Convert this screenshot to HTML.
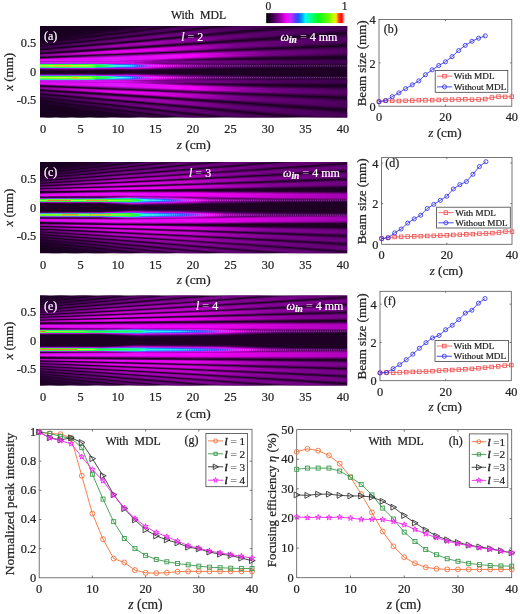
<!DOCTYPE html>
<html lang="en"><head><meta charset="utf-8"><title>Figure</title>
<style>
html,body{margin:0;padding:0;background:#fff;overflow:hidden;}
svg{display:block;}
text{font-family:"Liberation Serif", "DejaVu Serif", serif;stroke:#222;stroke-width:.22px;}
text.w{stroke:#fff;stroke-width:.2px;}
</style></head>
<body>
<svg width="520" height="614" viewBox="0 0 520 614">
<defs>
<filter id="bl" x="-2%" y="-5%" width="104%" height="110%"><feGaussianBlur stdDeviation="0.45"/></filter>
<filter id="bc" x="-2%" y="-5%" width="104%" height="110%"><feGaussianBlur stdDeviation="0.5"/></filter>
<linearGradient id="g1" gradientUnits="userSpaceOnUse" x1="0" x2="307.3" y1="0" y2="0"><stop offset="0" stop-color="#cf23fd"/><stop offset="0.12" stop-color="#cf23fd"/><stop offset="0.25" stop-color="#e80cfb"/><stop offset="0.38" stop-color="#840096"/><stop offset="0.5" stop-color="#750087"/><stop offset="0.62" stop-color="#660077"/><stop offset="0.75" stop-color="#500060"/><stop offset="0.87" stop-color="#470057"/><stop offset="1" stop-color="#3e004e"/></linearGradient>
<linearGradient id="g2" gradientUnits="userSpaceOnUse" x1="0" x2="307.3" y1="0" y2="0"><stop offset="0" stop-color="#e80cfb"/><stop offset="0.12" stop-color="#e40ffc"/><stop offset="0.25" stop-color="#e013fc"/><stop offset="0.38" stop-color="#e80cfb"/><stop offset="0.5" stop-color="#f104fa"/><stop offset="0.62" stop-color="#a900b6"/><stop offset="0.75" stop-color="#740086"/><stop offset="0.87" stop-color="#620073"/><stop offset="1" stop-color="#500060"/></linearGradient>
<linearGradient id="g3" gradientUnits="userSpaceOnUse" x1="0" x2="307.3" y1="0" y2="0"><stop offset="0" stop-color="#8b009c"/><stop offset="0.12" stop-color="#c100cc"/><stop offset="0.25" stop-color="#e500ec"/><stop offset="0.38" stop-color="#dc00e4"/><stop offset="0.5" stop-color="#b800c4"/><stop offset="0.62" stop-color="#7c008e"/><stop offset="0.75" stop-color="#640075"/><stop offset="0.87" stop-color="#580069"/><stop offset="1" stop-color="#4a005b"/></linearGradient>
<linearGradient id="g4" gradientUnits="userSpaceOnUse" x1="0" x2="307.3" y1="0" y2="0"><stop offset="0" stop-color="#560067"/><stop offset="0.12" stop-color="#79008b"/><stop offset="0.25" stop-color="#9d00ad"/><stop offset="0.38" stop-color="#a000af"/><stop offset="0.5" stop-color="#870098"/><stop offset="0.62" stop-color="#650076"/><stop offset="0.75" stop-color="#560067"/><stop offset="0.87" stop-color="#4d005e"/><stop offset="1" stop-color="#430053"/></linearGradient>
<linearGradient id="g5" gradientUnits="userSpaceOnUse" x1="0" x2="307.3" y1="0" y2="0"><stop offset="0" stop-color="#380048"/><stop offset="0.12" stop-color="#520063"/><stop offset="0.25" stop-color="#68007a"/><stop offset="0.38" stop-color="#6e007f"/><stop offset="0.5" stop-color="#640075"/><stop offset="0.62" stop-color="#4d005d"/><stop offset="0.75" stop-color="#460056"/><stop offset="0.87" stop-color="#420052"/><stop offset="1" stop-color="#3a004a"/></linearGradient>
<linearGradient id="g6" gradientUnits="userSpaceOnUse" x1="0" x2="307.3" y1="0" y2="0"><stop offset="0" stop-color="#260031"/><stop offset="0.12" stop-color="#380047"/><stop offset="0.25" stop-color="#470057"/><stop offset="0.38" stop-color="#4d005d"/><stop offset="0.5" stop-color="#480059"/><stop offset="0.62" stop-color="#380047"/><stop offset="0.75" stop-color="#380047"/><stop offset="0.87" stop-color="#360046"/><stop offset="1" stop-color="#31003f"/></linearGradient>
<linearGradient id="g7" gradientUnits="userSpaceOnUse" x1="0" x2="307.3" y1="0" y2="0"><stop offset="0" stop-color="#1b0022"/><stop offset="0.12" stop-color="#260030"/><stop offset="0.25" stop-color="#2e003b"/><stop offset="0.38" stop-color="#340042"/><stop offset="0.5" stop-color="#320040"/><stop offset="0.62" stop-color="#270032"/><stop offset="0.75" stop-color="#2b0037"/><stop offset="0.87" stop-color="#2d0039"/><stop offset="1" stop-color="#290035"/></linearGradient>
<linearGradient id="g8" gradientUnits="userSpaceOnUse" x1="0" x2="307.3" y1="0" y2="0"><stop offset="0" stop-color="#15001b"/><stop offset="0.12" stop-color="#190020"/><stop offset="0.25" stop-color="#1c0024"/><stop offset="0.38" stop-color="#20002a"/><stop offset="0.5" stop-color="#21002a"/><stop offset="0.62" stop-color="#1b0022"/><stop offset="0.75" stop-color="#20002a"/><stop offset="0.87" stop-color="#23002d"/><stop offset="1" stop-color="#22002c"/></linearGradient>
<linearGradient id="g9" gradientUnits="userSpaceOnUse" x1="0" x2="307.3" y1="0" y2="0"><stop offset="0" stop-color="#15001b"/><stop offset="0.12" stop-color="#15001b"/><stop offset="0.25" stop-color="#15001b"/><stop offset="0.38" stop-color="#15001b"/><stop offset="0.5" stop-color="#15001b"/><stop offset="0.62" stop-color="#15001b"/><stop offset="0.75" stop-color="#18001f"/><stop offset="0.87" stop-color="#1b0023"/><stop offset="1" stop-color="#1b0023"/></linearGradient>
<linearGradient id="g10" gradientUnits="userSpaceOnUse" x1="0" x2="307.3" y1="0" y2="0"><stop offset="0" stop-color="#15001b"/><stop offset="0.12" stop-color="#15001b"/><stop offset="0.25" stop-color="#15001b"/><stop offset="0.38" stop-color="#15001b"/><stop offset="0.5" stop-color="#15001b"/><stop offset="0.62" stop-color="#15001b"/><stop offset="0.75" stop-color="#15001b"/><stop offset="0.87" stop-color="#16001c"/><stop offset="1" stop-color="#16001d"/></linearGradient>
<linearGradient id="g11" gradientUnits="userSpaceOnUse" x1="0" x2="307.3" y1="0" y2="0"><stop offset="0" stop-color="#15001b"/><stop offset="0.12" stop-color="#15001b"/><stop offset="0.25" stop-color="#15001b"/><stop offset="0.38" stop-color="#15001b"/><stop offset="0.5" stop-color="#15001b"/><stop offset="0.62" stop-color="#15001b"/><stop offset="0.75" stop-color="#15001b"/><stop offset="0.87" stop-color="#15001b"/><stop offset="1" stop-color="#15001b"/></linearGradient>
<linearGradient id="g12" gradientUnits="userSpaceOnUse" x1="0" x2="307.3" y1="0" y2="0"><stop offset="0" stop-color="#15001b"/><stop offset="0.12" stop-color="#15001b"/><stop offset="0.25" stop-color="#15001b"/><stop offset="0.38" stop-color="#15001b"/><stop offset="0.5" stop-color="#15001b"/><stop offset="0.62" stop-color="#15001b"/><stop offset="0.75" stop-color="#15001b"/><stop offset="0.87" stop-color="#15001b"/><stop offset="1" stop-color="#15001b"/></linearGradient>
<linearGradient id="g14" gradientUnits="userSpaceOnUse" x1="0" x2="307.3" y1="0" y2="0"><stop offset="0" stop-color="#2c0038"/><stop offset="0.04" stop-color="#2d0039"/><stop offset="0.05" stop-color="#2f003c"/><stop offset="0.1" stop-color="#2f003c"/><stop offset="0.1" stop-color="#2d003a"/><stop offset="0.17" stop-color="#2c0038"/><stop offset="0.19" stop-color="#24002e"/><stop offset="0.22" stop-color="#1f0028"/><stop offset="0.25" stop-color="#190021"/><stop offset="0.3" stop-color="#17001e"/><stop offset="0.32" stop-color="#14001a"/><stop offset="0.34" stop-color="#120017"/><stop offset="0.38" stop-color="#0e0012"/><stop offset="0.45" stop-color="#0a000d"/><stop offset="0.55" stop-color="#060008"/><stop offset="0.75" stop-color="#040005"/><stop offset="1" stop-color="#030004"/></linearGradient>
<linearGradient id="g15" gradientUnits="userSpaceOnUse" x1="0" x2="307.3" y1="0" y2="0"><stop offset="0" stop-color="#580069"/><stop offset="0.04" stop-color="#59006a"/><stop offset="0.05" stop-color="#5d006e"/><stop offset="0.1" stop-color="#5d006e"/><stop offset="0.1" stop-color="#5a006b"/><stop offset="0.17" stop-color="#580069"/><stop offset="0.19" stop-color="#480058"/><stop offset="0.22" stop-color="#3f004f"/><stop offset="0.25" stop-color="#340042"/><stop offset="0.3" stop-color="#2e003b"/><stop offset="0.32" stop-color="#270032"/><stop offset="0.34" stop-color="#22002b"/><stop offset="0.38" stop-color="#190021"/><stop offset="0.45" stop-color="#120017"/><stop offset="0.55" stop-color="#0c000f"/><stop offset="0.75" stop-color="#070009"/><stop offset="1" stop-color="#050007"/></linearGradient>
<linearGradient id="g16" gradientUnits="userSpaceOnUse" x1="0" x2="307.3" y1="0" y2="0"><stop offset="0" stop-color="#8f009f"/><stop offset="0.04" stop-color="#9100a2"/><stop offset="0.05" stop-color="#9c00ab"/><stop offset="0.1" stop-color="#9c00ab"/><stop offset="0.1" stop-color="#9400a4"/><stop offset="0.17" stop-color="#8f009f"/><stop offset="0.19" stop-color="#730084"/><stop offset="0.22" stop-color="#650076"/><stop offset="0.25" stop-color="#530064"/><stop offset="0.3" stop-color="#4b005b"/><stop offset="0.32" stop-color="#400050"/><stop offset="0.34" stop-color="#370047"/><stop offset="0.38" stop-color="#2a0035"/><stop offset="0.45" stop-color="#1c0024"/><stop offset="0.55" stop-color="#120017"/><stop offset="0.75" stop-color="#0b000e"/><stop offset="1" stop-color="#08000b"/></linearGradient>
<linearGradient id="g17" gradientUnits="userSpaceOnUse" x1="0" x2="307.3" y1="0" y2="0"><stop offset="0" stop-color="#ef05fb"/><stop offset="0.04" stop-color="#ed08fb"/><stop offset="0.05" stop-color="#e211fc"/><stop offset="0.1" stop-color="#e211fc"/><stop offset="0.1" stop-color="#ea0afb"/><stop offset="0.17" stop-color="#ef05fb"/><stop offset="0.18" stop-color="#e200ea"/><stop offset="0.19" stop-color="#c600d1"/><stop offset="0.22" stop-color="#a700b5"/><stop offset="0.25" stop-color="#810092"/><stop offset="0.3" stop-color="#730085"/><stop offset="0.32" stop-color="#640075"/><stop offset="0.34" stop-color="#570068"/><stop offset="0.38" stop-color="#420052"/><stop offset="0.45" stop-color="#2d003a"/><stop offset="0.55" stop-color="#1b0023"/><stop offset="0.75" stop-color="#110016"/><stop offset="1" stop-color="#0d0010"/></linearGradient>
<linearGradient id="g18" gradientUnits="userSpaceOnUse" x1="0" x2="307.3" y1="0" y2="0"><stop offset="0" stop-color="#7739ff"/><stop offset="0.04" stop-color="#703aff"/><stop offset="0.05" stop-color="#5140ff"/><stop offset="0.1" stop-color="#5140ff"/><stop offset="0.1" stop-color="#693bff"/><stop offset="0.17" stop-color="#7739ff"/><stop offset="0.18" stop-color="#a834ff"/><stop offset="0.19" stop-color="#cc26fe"/><stop offset="0.22" stop-color="#e80cfb"/><stop offset="0.24" stop-color="#ee00f3"/><stop offset="0.25" stop-color="#d200db"/><stop offset="0.3" stop-color="#b600c2"/><stop offset="0.32" stop-color="#9400a4"/><stop offset="0.34" stop-color="#7c008e"/><stop offset="0.38" stop-color="#5f0070"/><stop offset="0.45" stop-color="#420052"/><stop offset="0.55" stop-color="#290034"/><stop offset="0.75" stop-color="#18001e"/><stop offset="1" stop-color="#120017"/></linearGradient>
<linearGradient id="g19" gradientUnits="userSpaceOnUse" x1="0" x2="307.3" y1="0" y2="0"><stop offset="0" stop-color="#00f4ff"/><stop offset="0.04" stop-color="#00fafa"/><stop offset="0.05" stop-color="#00fcd4"/><stop offset="0.1" stop-color="#00fcd4"/><stop offset="0.1" stop-color="#00fbf1"/><stop offset="0.17" stop-color="#00f4ff"/><stop offset="0.18" stop-color="#00bbff"/><stop offset="0.18" stop-color="#068bff"/><stop offset="0.19" stop-color="#1163ff"/><stop offset="0.21" stop-color="#3c49ff"/><stop offset="0.22" stop-color="#6b3aff"/><stop offset="0.24" stop-color="#9c35ff"/><stop offset="0.25" stop-color="#c52cfe"/><stop offset="0.3" stop-color="#de15fc"/><stop offset="0.32" stop-color="#eb00f2"/><stop offset="0.34" stop-color="#c500cf"/><stop offset="0.36" stop-color="#a600b4"/><stop offset="0.38" stop-color="#870099"/><stop offset="0.41" stop-color="#720083"/><stop offset="0.45" stop-color="#5e006f"/><stop offset="0.5" stop-color="#4c005d"/><stop offset="0.55" stop-color="#3a004a"/><stop offset="0.75" stop-color="#21002b"/><stop offset="1" stop-color="#18001f"/></linearGradient>
<linearGradient id="g20" gradientUnits="userSpaceOnUse" x1="0" x2="307.3" y1="0" y2="0"><stop offset="0" stop-color="#00ff2c"/><stop offset="0.04" stop-color="#00ff23"/><stop offset="0.05" stop-color="#14ff18"/><stop offset="0.1" stop-color="#14ff18"/><stop offset="0.1" stop-color="#03ff1d"/><stop offset="0.17" stop-color="#00ff2c"/><stop offset="0.17" stop-color="#00ff4d"/><stop offset="0.18" stop-color="#00ff6d"/><stop offset="0.18" stop-color="#00ff8e"/><stop offset="0.19" stop-color="#00fdba"/><stop offset="0.21" stop-color="#00fbec"/><stop offset="0.22" stop-color="#00d3ff"/><stop offset="0.23" stop-color="#009eff"/><stop offset="0.24" stop-color="#0b79ff"/><stop offset="0.25" stop-color="#1f55ff"/><stop offset="0.28" stop-color="#4c42ff"/><stop offset="0.3" stop-color="#6f3aff"/><stop offset="0.31" stop-color="#9536ff"/><stop offset="0.32" stop-color="#bb32ff"/><stop offset="0.33" stop-color="#cd25fe"/><stop offset="0.34" stop-color="#dd16fc"/><stop offset="0.36" stop-color="#f300f8"/><stop offset="0.38" stop-color="#ca00d4"/><stop offset="0.41" stop-color="#a200b0"/><stop offset="0.45" stop-color="#7d008f"/><stop offset="0.5" stop-color="#660077"/><stop offset="0.55" stop-color="#4f005f"/><stop offset="0.65" stop-color="#3e004e"/><stop offset="0.75" stop-color="#2e003b"/><stop offset="1" stop-color="#21002a"/></linearGradient>
<linearGradient id="g21" gradientUnits="userSpaceOnUse" x1="0" x2="307.3" y1="0" y2="0"><stop offset="0" stop-color="#52ff06"/><stop offset="0.04" stop-color="#58ff03"/><stop offset="0.04" stop-color="#69ff00"/><stop offset="0.05" stop-color="#84ff00"/><stop offset="0.1" stop-color="#84ff00"/><stop offset="0.1" stop-color="#5fff01"/><stop offset="0.17" stop-color="#52ff06"/><stop offset="0.17" stop-color="#39ff0d"/><stop offset="0.18" stop-color="#21ff14"/><stop offset="0.18" stop-color="#09ff1b"/><stop offset="0.19" stop-color="#00ff36"/><stop offset="0.2" stop-color="#00ff54"/><stop offset="0.21" stop-color="#00ff71"/><stop offset="0.22" stop-color="#00ff8f"/><stop offset="0.23" stop-color="#00fdc1"/><stop offset="0.24" stop-color="#00fbf2"/><stop offset="0.25" stop-color="#00ccff"/><stop offset="0.28" stop-color="#019eff"/><stop offset="0.3" stop-color="#0a7cff"/><stop offset="0.31" stop-color="#1d56ff"/><stop offset="0.32" stop-color="#5c3cff"/><stop offset="0.33" stop-color="#8138ff"/><stop offset="0.34" stop-color="#a734ff"/><stop offset="0.35" stop-color="#c62afe"/><stop offset="0.36" stop-color="#db18fc"/><stop offset="0.38" stop-color="#ef05fb"/><stop offset="0.4" stop-color="#de00e6"/><stop offset="0.42" stop-color="#be00ca"/><stop offset="0.45" stop-color="#9f00ae"/><stop offset="0.5" stop-color="#7a008c"/><stop offset="0.55" stop-color="#5f0070"/><stop offset="0.65" stop-color="#4b005b"/><stop offset="0.75" stop-color="#370047"/><stop offset="1" stop-color="#280033"/></linearGradient>
<linearGradient id="g22" gradientUnits="userSpaceOnUse" x1="0" x2="307.3" y1="0" y2="0"><stop offset="0" stop-color="#beff00"/><stop offset="0.04" stop-color="#cef800"/><stop offset="0.04" stop-color="#efe800"/><stop offset="0.05" stop-color="#ffb500"/><stop offset="0.1" stop-color="#ffb500"/><stop offset="0.1" stop-color="#def000"/><stop offset="0.17" stop-color="#beff00"/><stop offset="0.17" stop-color="#8aff00"/><stop offset="0.18" stop-color="#5cff02"/><stop offset="0.18" stop-color="#41ff0a"/><stop offset="0.19" stop-color="#26ff12"/><stop offset="0.2" stop-color="#12ff19"/><stop offset="0.21" stop-color="#00ff22"/><stop offset="0.22" stop-color="#00ff43"/><stop offset="0.23" stop-color="#00ff6b"/><stop offset="0.24" stop-color="#00ff97"/><stop offset="0.25" stop-color="#00fcce"/><stop offset="0.28" stop-color="#00faf7"/><stop offset="0.3" stop-color="#00d0ff"/><stop offset="0.31" stop-color="#0396ff"/><stop offset="0.32" stop-color="#1069ff"/><stop offset="0.33" stop-color="#374bff"/><stop offset="0.34" stop-color="#6b3aff"/><stop offset="0.35" stop-color="#9736ff"/><stop offset="0.36" stop-color="#c12fff"/><stop offset="0.38" stop-color="#d71bfd"/><stop offset="0.4" stop-color="#ee06fb"/><stop offset="0.42" stop-color="#dd00e4"/><stop offset="0.45" stop-color="#b900c5"/><stop offset="0.5" stop-color="#8b009c"/><stop offset="0.55" stop-color="#6a007b"/><stop offset="0.65" stop-color="#540065"/><stop offset="0.75" stop-color="#3e004e"/><stop offset="1" stop-color="#2d003a"/></linearGradient>
<linearGradient id="g23" gradientUnits="userSpaceOnUse" x1="0" x2="307.3" y1="0" y2="0"><stop offset="0" stop-color="#2c0038"/><stop offset="0.1" stop-color="#2d0039"/><stop offset="0.1" stop-color="#2f003c"/><stop offset="0.12" stop-color="#2f003c"/><stop offset="0.13" stop-color="#2d0039"/><stop offset="0.17" stop-color="#2c0038"/><stop offset="0.19" stop-color="#24002e"/><stop offset="0.22" stop-color="#1f0028"/><stop offset="0.25" stop-color="#190021"/><stop offset="0.29" stop-color="#17001e"/><stop offset="0.31" stop-color="#14001a"/><stop offset="0.33" stop-color="#120017"/><stop offset="0.38" stop-color="#0e0012"/><stop offset="0.45" stop-color="#0a000d"/><stop offset="0.55" stop-color="#060008"/><stop offset="0.75" stop-color="#040005"/><stop offset="1" stop-color="#030004"/></linearGradient>
<linearGradient id="g24" gradientUnits="userSpaceOnUse" x1="0" x2="307.3" y1="0" y2="0"><stop offset="0" stop-color="#580069"/><stop offset="0.1" stop-color="#59006a"/><stop offset="0.1" stop-color="#5d006e"/><stop offset="0.12" stop-color="#5d006e"/><stop offset="0.13" stop-color="#59006a"/><stop offset="0.17" stop-color="#580069"/><stop offset="0.19" stop-color="#480058"/><stop offset="0.22" stop-color="#3f004f"/><stop offset="0.25" stop-color="#340042"/><stop offset="0.29" stop-color="#2e003b"/><stop offset="0.31" stop-color="#270032"/><stop offset="0.33" stop-color="#22002b"/><stop offset="0.38" stop-color="#190021"/><stop offset="0.45" stop-color="#120017"/><stop offset="0.55" stop-color="#0c000f"/><stop offset="0.75" stop-color="#070009"/><stop offset="1" stop-color="#050007"/></linearGradient>
<linearGradient id="g25" gradientUnits="userSpaceOnUse" x1="0" x2="307.3" y1="0" y2="0"><stop offset="0" stop-color="#8f009f"/><stop offset="0.1" stop-color="#9100a2"/><stop offset="0.1" stop-color="#9c00ab"/><stop offset="0.12" stop-color="#9c00ab"/><stop offset="0.13" stop-color="#9100a2"/><stop offset="0.17" stop-color="#8f009f"/><stop offset="0.19" stop-color="#730084"/><stop offset="0.22" stop-color="#650076"/><stop offset="0.25" stop-color="#530064"/><stop offset="0.29" stop-color="#4b005b"/><stop offset="0.31" stop-color="#400050"/><stop offset="0.33" stop-color="#370047"/><stop offset="0.38" stop-color="#2a0035"/><stop offset="0.45" stop-color="#1c0024"/><stop offset="0.55" stop-color="#120017"/><stop offset="0.75" stop-color="#0b000e"/><stop offset="1" stop-color="#08000b"/></linearGradient>
<linearGradient id="g26" gradientUnits="userSpaceOnUse" x1="0" x2="307.3" y1="0" y2="0"><stop offset="0" stop-color="#ef05fb"/><stop offset="0.1" stop-color="#ed08fb"/><stop offset="0.1" stop-color="#e211fc"/><stop offset="0.12" stop-color="#e211fc"/><stop offset="0.13" stop-color="#ed08fb"/><stop offset="0.17" stop-color="#ef05fb"/><stop offset="0.18" stop-color="#e200ea"/><stop offset="0.19" stop-color="#c600d1"/><stop offset="0.22" stop-color="#a700b5"/><stop offset="0.25" stop-color="#810092"/><stop offset="0.29" stop-color="#730085"/><stop offset="0.31" stop-color="#640075"/><stop offset="0.33" stop-color="#570068"/><stop offset="0.38" stop-color="#420052"/><stop offset="0.45" stop-color="#2d003a"/><stop offset="0.55" stop-color="#1b0023"/><stop offset="0.75" stop-color="#110016"/><stop offset="1" stop-color="#0d0010"/></linearGradient>
<linearGradient id="g27" gradientUnits="userSpaceOnUse" x1="0" x2="307.3" y1="0" y2="0"><stop offset="0" stop-color="#7739ff"/><stop offset="0.1" stop-color="#703aff"/><stop offset="0.1" stop-color="#5140ff"/><stop offset="0.12" stop-color="#5140ff"/><stop offset="0.13" stop-color="#703aff"/><stop offset="0.17" stop-color="#7739ff"/><stop offset="0.18" stop-color="#a834ff"/><stop offset="0.19" stop-color="#cc26fe"/><stop offset="0.22" stop-color="#e80cfb"/><stop offset="0.24" stop-color="#ee00f3"/><stop offset="0.25" stop-color="#d200db"/><stop offset="0.29" stop-color="#b600c2"/><stop offset="0.31" stop-color="#9400a4"/><stop offset="0.33" stop-color="#7c008e"/><stop offset="0.38" stop-color="#5f0070"/><stop offset="0.45" stop-color="#420052"/><stop offset="0.55" stop-color="#290034"/><stop offset="0.75" stop-color="#18001e"/><stop offset="1" stop-color="#120017"/></linearGradient>
<linearGradient id="g28" gradientUnits="userSpaceOnUse" x1="0" x2="307.3" y1="0" y2="0"><stop offset="0" stop-color="#00f4ff"/><stop offset="0.1" stop-color="#00fafa"/><stop offset="0.1" stop-color="#00fcd4"/><stop offset="0.12" stop-color="#00fcd4"/><stop offset="0.13" stop-color="#00fafa"/><stop offset="0.17" stop-color="#00f4ff"/><stop offset="0.18" stop-color="#00bbff"/><stop offset="0.18" stop-color="#068bff"/><stop offset="0.19" stop-color="#1163ff"/><stop offset="0.21" stop-color="#3c49ff"/><stop offset="0.22" stop-color="#6b3aff"/><stop offset="0.24" stop-color="#9c35ff"/><stop offset="0.25" stop-color="#c52cfe"/><stop offset="0.29" stop-color="#de15fc"/><stop offset="0.31" stop-color="#eb00f2"/><stop offset="0.33" stop-color="#c500cf"/><stop offset="0.35" stop-color="#a600b4"/><stop offset="0.38" stop-color="#870099"/><stop offset="0.41" stop-color="#720083"/><stop offset="0.45" stop-color="#5e006f"/><stop offset="0.5" stop-color="#4c005d"/><stop offset="0.55" stop-color="#3a004a"/><stop offset="0.75" stop-color="#21002b"/><stop offset="1" stop-color="#18001f"/></linearGradient>
<linearGradient id="g29" gradientUnits="userSpaceOnUse" x1="0" x2="307.3" y1="0" y2="0"><stop offset="0" stop-color="#00ff2c"/><stop offset="0.1" stop-color="#00ff23"/><stop offset="0.1" stop-color="#14ff18"/><stop offset="0.12" stop-color="#14ff18"/><stop offset="0.13" stop-color="#00ff23"/><stop offset="0.17" stop-color="#00ff2c"/><stop offset="0.17" stop-color="#00ff4d"/><stop offset="0.18" stop-color="#00ff6d"/><stop offset="0.18" stop-color="#00ff8e"/><stop offset="0.19" stop-color="#00fdba"/><stop offset="0.21" stop-color="#00fbec"/><stop offset="0.22" stop-color="#00d3ff"/><stop offset="0.23" stop-color="#009eff"/><stop offset="0.24" stop-color="#0b79ff"/><stop offset="0.25" stop-color="#1f55ff"/><stop offset="0.27" stop-color="#4c42ff"/><stop offset="0.29" stop-color="#6f3aff"/><stop offset="0.3" stop-color="#9536ff"/><stop offset="0.31" stop-color="#bb32ff"/><stop offset="0.32" stop-color="#cd25fe"/><stop offset="0.33" stop-color="#dd16fc"/><stop offset="0.35" stop-color="#f300f8"/><stop offset="0.38" stop-color="#ca00d4"/><stop offset="0.41" stop-color="#a200b0"/><stop offset="0.45" stop-color="#7d008f"/><stop offset="0.5" stop-color="#660077"/><stop offset="0.55" stop-color="#4f005f"/><stop offset="0.65" stop-color="#3e004e"/><stop offset="0.75" stop-color="#2e003b"/><stop offset="1" stop-color="#21002a"/></linearGradient>
<linearGradient id="g30" gradientUnits="userSpaceOnUse" x1="0" x2="307.3" y1="0" y2="0"><stop offset="0" stop-color="#52ff06"/><stop offset="0.1" stop-color="#58ff03"/><stop offset="0.1" stop-color="#69ff00"/><stop offset="0.1" stop-color="#84ff00"/><stop offset="0.12" stop-color="#84ff00"/><stop offset="0.13" stop-color="#68ff00"/><stop offset="0.13" stop-color="#58ff03"/><stop offset="0.17" stop-color="#52ff06"/><stop offset="0.17" stop-color="#39ff0d"/><stop offset="0.18" stop-color="#21ff14"/><stop offset="0.18" stop-color="#09ff1b"/><stop offset="0.19" stop-color="#00ff36"/><stop offset="0.2" stop-color="#00ff54"/><stop offset="0.21" stop-color="#00ff71"/><stop offset="0.22" stop-color="#00ff8f"/><stop offset="0.23" stop-color="#00fdc1"/><stop offset="0.24" stop-color="#00fbf2"/><stop offset="0.25" stop-color="#00ccff"/><stop offset="0.27" stop-color="#019eff"/><stop offset="0.29" stop-color="#0a7cff"/><stop offset="0.3" stop-color="#1d56ff"/><stop offset="0.31" stop-color="#5c3cff"/><stop offset="0.32" stop-color="#8138ff"/><stop offset="0.33" stop-color="#a734ff"/><stop offset="0.34" stop-color="#c62afe"/><stop offset="0.36" stop-color="#db18fc"/><stop offset="0.38" stop-color="#ef05fb"/><stop offset="0.4" stop-color="#de00e6"/><stop offset="0.42" stop-color="#be00ca"/><stop offset="0.45" stop-color="#9f00ae"/><stop offset="0.5" stop-color="#7a008c"/><stop offset="0.55" stop-color="#5f0070"/><stop offset="0.65" stop-color="#4b005b"/><stop offset="0.75" stop-color="#370047"/><stop offset="1" stop-color="#280033"/></linearGradient>
<linearGradient id="g31" gradientUnits="userSpaceOnUse" x1="0" x2="307.3" y1="0" y2="0"><stop offset="0" stop-color="#beff00"/><stop offset="0.1" stop-color="#cef800"/><stop offset="0.1" stop-color="#efe800"/><stop offset="0.1" stop-color="#ffb500"/><stop offset="0.12" stop-color="#ffb500"/><stop offset="0.13" stop-color="#efe900"/><stop offset="0.13" stop-color="#cef800"/><stop offset="0.17" stop-color="#beff00"/><stop offset="0.17" stop-color="#8aff00"/><stop offset="0.18" stop-color="#5cff02"/><stop offset="0.18" stop-color="#41ff0a"/><stop offset="0.19" stop-color="#26ff12"/><stop offset="0.2" stop-color="#12ff19"/><stop offset="0.21" stop-color="#00ff22"/><stop offset="0.22" stop-color="#00ff43"/><stop offset="0.23" stop-color="#00ff6b"/><stop offset="0.24" stop-color="#00ff97"/><stop offset="0.25" stop-color="#00fcce"/><stop offset="0.27" stop-color="#00faf7"/><stop offset="0.29" stop-color="#00d0ff"/><stop offset="0.3" stop-color="#0396ff"/><stop offset="0.31" stop-color="#1069ff"/><stop offset="0.32" stop-color="#374bff"/><stop offset="0.33" stop-color="#6b3aff"/><stop offset="0.34" stop-color="#9736ff"/><stop offset="0.36" stop-color="#c12fff"/><stop offset="0.38" stop-color="#d71bfd"/><stop offset="0.4" stop-color="#ee06fb"/><stop offset="0.42" stop-color="#dd00e4"/><stop offset="0.45" stop-color="#b900c5"/><stop offset="0.5" stop-color="#8b009c"/><stop offset="0.55" stop-color="#6a007b"/><stop offset="0.65" stop-color="#540065"/><stop offset="0.75" stop-color="#3e004e"/><stop offset="1" stop-color="#2d003a"/></linearGradient>
<linearGradient id="g32" gradientUnits="userSpaceOnUse" x1="0" x2="307.3" y1="0" y2="0"><stop offset="0" stop-color="#e80cfb"/><stop offset="0.12" stop-color="#ea0afb"/><stop offset="0.25" stop-color="#ed08fb"/><stop offset="0.38" stop-color="#ef06fb"/><stop offset="0.5" stop-color="#f104fa"/><stop offset="0.62" stop-color="#e400eb"/><stop offset="0.75" stop-color="#cd00d7"/><stop offset="0.87" stop-color="#b600c2"/><stop offset="1" stop-color="#9f00ae"/></linearGradient>
<linearGradient id="g33" gradientUnits="userSpaceOnUse" x1="0" x2="307.3" y1="0" y2="0"><stop offset="0" stop-color="#9d00ac"/><stop offset="0.12" stop-color="#de00e6"/><stop offset="0.25" stop-color="#ee06fb"/><stop offset="0.38" stop-color="#ed00f3"/><stop offset="0.5" stop-color="#d500de"/><stop offset="0.62" stop-color="#ac00ba"/><stop offset="0.75" stop-color="#840096"/><stop offset="0.87" stop-color="#78008a"/><stop offset="1" stop-color="#6c007d"/></linearGradient>
<linearGradient id="g34" gradientUnits="userSpaceOnUse" x1="0" x2="307.3" y1="0" y2="0"><stop offset="0" stop-color="#740086"/><stop offset="0.12" stop-color="#b300c0"/><stop offset="0.25" stop-color="#e000e7"/><stop offset="0.38" stop-color="#d600de"/><stop offset="0.5" stop-color="#c100cc"/><stop offset="0.62" stop-color="#9c00ab"/><stop offset="0.75" stop-color="#7d008f"/><stop offset="0.87" stop-color="#720084"/><stop offset="1" stop-color="#670078"/></linearGradient>
<linearGradient id="g35" gradientUnits="userSpaceOnUse" x1="0" x2="307.3" y1="0" y2="0"><stop offset="0" stop-color="#5b006c"/><stop offset="0.12" stop-color="#89009b"/><stop offset="0.25" stop-color="#ba00c6"/><stop offset="0.38" stop-color="#b700c3"/><stop offset="0.5" stop-color="#a600b4"/><stop offset="0.62" stop-color="#850097"/><stop offset="0.75" stop-color="#730084"/><stop offset="0.87" stop-color="#6b007c"/><stop offset="1" stop-color="#610072"/></linearGradient>
<linearGradient id="g36" gradientUnits="userSpaceOnUse" x1="0" x2="307.3" y1="0" y2="0"><stop offset="0" stop-color="#490059"/><stop offset="0.12" stop-color="#700081"/><stop offset="0.25" stop-color="#9300a4"/><stop offset="0.38" stop-color="#9500a5"/><stop offset="0.5" stop-color="#88009a"/><stop offset="0.62" stop-color="#750086"/><stop offset="0.75" stop-color="#680079"/><stop offset="0.87" stop-color="#620073"/><stop offset="1" stop-color="#59006a"/></linearGradient>
<linearGradient id="g37" gradientUnits="userSpaceOnUse" x1="0" x2="307.3" y1="0" y2="0"><stop offset="0" stop-color="#3a004a"/><stop offset="0.12" stop-color="#5b006b"/><stop offset="0.25" stop-color="#750087"/><stop offset="0.38" stop-color="#78008a"/><stop offset="0.5" stop-color="#720084"/><stop offset="0.62" stop-color="#640075"/><stop offset="0.75" stop-color="#5b006c"/><stop offset="0.87" stop-color="#570068"/><stop offset="1" stop-color="#510062"/></linearGradient>
<linearGradient id="g38" gradientUnits="userSpaceOnUse" x1="0" x2="307.3" y1="0" y2="0"><stop offset="0" stop-color="#2e003b"/><stop offset="0.12" stop-color="#490059"/><stop offset="0.25" stop-color="#5e006f"/><stop offset="0.38" stop-color="#620073"/><stop offset="0.5" stop-color="#5f0070"/><stop offset="0.62" stop-color="#530064"/><stop offset="0.75" stop-color="#4f005f"/><stop offset="0.87" stop-color="#4d005e"/><stop offset="1" stop-color="#490059"/></linearGradient>
<linearGradient id="g39" gradientUnits="userSpaceOnUse" x1="0" x2="307.3" y1="0" y2="0"><stop offset="0" stop-color="#250030"/><stop offset="0.12" stop-color="#3a004a"/><stop offset="0.25" stop-color="#4b005b"/><stop offset="0.38" stop-color="#4f005f"/><stop offset="0.5" stop-color="#4d005e"/><stop offset="0.62" stop-color="#440054"/><stop offset="0.75" stop-color="#430054"/><stop offset="0.87" stop-color="#430054"/><stop offset="1" stop-color="#400051"/></linearGradient>
<linearGradient id="g40" gradientUnits="userSpaceOnUse" x1="0" x2="307.3" y1="0" y2="0"><stop offset="0" stop-color="#1d0025"/><stop offset="0.12" stop-color="#2d0039"/><stop offset="0.25" stop-color="#380048"/><stop offset="0.38" stop-color="#3b004b"/><stop offset="0.5" stop-color="#3b004b"/><stop offset="0.62" stop-color="#350043"/><stop offset="0.75" stop-color="#370046"/><stop offset="0.87" stop-color="#390048"/><stop offset="1" stop-color="#370046"/></linearGradient>
<linearGradient id="g41" gradientUnits="userSpaceOnUse" x1="0" x2="307.3" y1="0" y2="0"><stop offset="0" stop-color="#17001e"/><stop offset="0.12" stop-color="#22002b"/><stop offset="0.25" stop-color="#280034"/><stop offset="0.38" stop-color="#2b0037"/><stop offset="0.5" stop-color="#2c0038"/><stop offset="0.62" stop-color="#270033"/><stop offset="0.75" stop-color="#2c0038"/><stop offset="0.87" stop-color="#2f003c"/><stop offset="1" stop-color="#2e003b"/></linearGradient>
<linearGradient id="g42" gradientUnits="userSpaceOnUse" x1="0" x2="307.3" y1="0" y2="0"><stop offset="0" stop-color="#15001b"/><stop offset="0.12" stop-color="#190020"/><stop offset="0.25" stop-color="#1c0024"/><stop offset="0.38" stop-color="#1d0026"/><stop offset="0.5" stop-color="#1f0028"/><stop offset="0.62" stop-color="#1c0024"/><stop offset="0.75" stop-color="#21002b"/><stop offset="0.87" stop-color="#250030"/><stop offset="1" stop-color="#260031"/></linearGradient>
<linearGradient id="g43" gradientUnits="userSpaceOnUse" x1="0" x2="307.3" y1="0" y2="0"><stop offset="0" stop-color="#15001b"/><stop offset="0.12" stop-color="#15001b"/><stop offset="0.25" stop-color="#15001b"/><stop offset="0.38" stop-color="#15001b"/><stop offset="0.5" stop-color="#16001c"/><stop offset="0.62" stop-color="#15001b"/><stop offset="0.75" stop-color="#190020"/><stop offset="0.87" stop-color="#1d0025"/><stop offset="1" stop-color="#1e0027"/></linearGradient>
<linearGradient id="g45" gradientUnits="userSpaceOnUse" x1="0" x2="307.3" y1="0" y2="0"><stop offset="0" stop-color="#2c0038"/><stop offset="0.02" stop-color="#2c0038"/><stop offset="0.03" stop-color="#30003e"/><stop offset="0.1" stop-color="#30003e"/><stop offset="0.1" stop-color="#2d0039"/><stop offset="0.14" stop-color="#2d0039"/><stop offset="0.15" stop-color="#30003d"/><stop offset="0.22" stop-color="#30003d"/><stop offset="0.23" stop-color="#2c0038"/><stop offset="0.29" stop-color="#2a0035"/><stop offset="0.32" stop-color="#21002b"/><stop offset="0.34" stop-color="#1a0022"/><stop offset="0.39" stop-color="#18001e"/><stop offset="0.42" stop-color="#15001b"/><stop offset="0.45" stop-color="#120017"/><stop offset="0.49" stop-color="#0f0013"/><stop offset="0.55" stop-color="#0a000d"/><stop offset="0.75" stop-color="#060008"/><stop offset="1" stop-color="#040006"/></linearGradient>
<linearGradient id="g46" gradientUnits="userSpaceOnUse" x1="0" x2="307.3" y1="0" y2="0"><stop offset="0" stop-color="#580069"/><stop offset="0.02" stop-color="#580069"/><stop offset="0.03" stop-color="#600071"/><stop offset="0.1" stop-color="#600071"/><stop offset="0.1" stop-color="#59006a"/><stop offset="0.14" stop-color="#59006a"/><stop offset="0.15" stop-color="#5f0070"/><stop offset="0.22" stop-color="#5f0070"/><stop offset="0.23" stop-color="#580069"/><stop offset="0.29" stop-color="#530064"/><stop offset="0.32" stop-color="#430054"/><stop offset="0.34" stop-color="#360045"/><stop offset="0.39" stop-color="#2f003c"/><stop offset="0.42" stop-color="#2a0035"/><stop offset="0.45" stop-color="#23002d"/><stop offset="0.49" stop-color="#1b0023"/><stop offset="0.55" stop-color="#120017"/><stop offset="0.75" stop-color="#0b000e"/><stop offset="1" stop-color="#08000b"/></linearGradient>
<linearGradient id="g47" gradientUnits="userSpaceOnUse" x1="0" x2="307.3" y1="0" y2="0"><stop offset="0" stop-color="#8f009f"/><stop offset="0.02" stop-color="#8f009f"/><stop offset="0.03" stop-color="#a100b0"/><stop offset="0.1" stop-color="#a100b0"/><stop offset="0.1" stop-color="#9100a2"/><stop offset="0.14" stop-color="#9100a2"/><stop offset="0.15" stop-color="#9f00ae"/><stop offset="0.22" stop-color="#9f00ae"/><stop offset="0.23" stop-color="#8f009f"/><stop offset="0.29" stop-color="#840096"/><stop offset="0.32" stop-color="#6c007d"/><stop offset="0.34" stop-color="#570068"/><stop offset="0.39" stop-color="#4c005d"/><stop offset="0.42" stop-color="#440054"/><stop offset="0.45" stop-color="#390049"/><stop offset="0.49" stop-color="#2d003a"/><stop offset="0.55" stop-color="#1c0024"/><stop offset="0.75" stop-color="#110016"/><stop offset="1" stop-color="#0d0010"/></linearGradient>
<linearGradient id="g48" gradientUnits="userSpaceOnUse" x1="0" x2="307.3" y1="0" y2="0"><stop offset="0" stop-color="#ef05fb"/><stop offset="0.02" stop-color="#ef05fb"/><stop offset="0.03" stop-color="#dd16fc"/><stop offset="0.1" stop-color="#dd16fc"/><stop offset="0.1" stop-color="#ed08fb"/><stop offset="0.14" stop-color="#ed08fb"/><stop offset="0.15" stop-color="#e013fc"/><stop offset="0.22" stop-color="#e013fc"/><stop offset="0.23" stop-color="#ef05fb"/><stop offset="0.29" stop-color="#ee00f4"/><stop offset="0.3" stop-color="#d200db"/><stop offset="0.32" stop-color="#b700c3"/><stop offset="0.33" stop-color="#9f00ae"/><stop offset="0.34" stop-color="#870098"/><stop offset="0.39" stop-color="#760088"/><stop offset="0.42" stop-color="#69007a"/><stop offset="0.45" stop-color="#59006a"/><stop offset="0.49" stop-color="#470057"/><stop offset="0.55" stop-color="#2d003a"/><stop offset="0.75" stop-color="#190020"/><stop offset="1" stop-color="#130018"/></linearGradient>
<linearGradient id="g49" gradientUnits="userSpaceOnUse" x1="0" x2="307.3" y1="0" y2="0"><stop offset="0" stop-color="#7739ff"/><stop offset="0.02" stop-color="#7739ff"/><stop offset="0.03" stop-color="#3e48ff"/><stop offset="0.1" stop-color="#3e48ff"/><stop offset="0.1" stop-color="#703aff"/><stop offset="0.14" stop-color="#703aff"/><stop offset="0.15" stop-color="#4744ff"/><stop offset="0.22" stop-color="#4744ff"/><stop offset="0.23" stop-color="#7739ff"/><stop offset="0.29" stop-color="#9336ff"/><stop offset="0.3" stop-color="#c12fff"/><stop offset="0.32" stop-color="#da19fc"/><stop offset="0.33" stop-color="#ef05fb"/><stop offset="0.34" stop-color="#dd00e5"/><stop offset="0.39" stop-color="#bb00c7"/><stop offset="0.42" stop-color="#9f00ae"/><stop offset="0.45" stop-color="#800092"/><stop offset="0.49" stop-color="#660078"/><stop offset="0.52" stop-color="#540065"/><stop offset="0.55" stop-color="#420052"/><stop offset="0.75" stop-color="#25002f"/><stop offset="1" stop-color="#1a0022"/></linearGradient>
<linearGradient id="g50" gradientUnits="userSpaceOnUse" x1="0" x2="307.3" y1="0" y2="0"><stop offset="0" stop-color="#00f4ff"/><stop offset="0.02" stop-color="#00f4ff"/><stop offset="0.02" stop-color="#00fbe2"/><stop offset="0.03" stop-color="#00fdc1"/><stop offset="0.1" stop-color="#00fdc1"/><stop offset="0.1" stop-color="#00fafa"/><stop offset="0.14" stop-color="#00fafa"/><stop offset="0.15" stop-color="#00fcca"/><stop offset="0.22" stop-color="#00fcca"/><stop offset="0.23" stop-color="#00f4ff"/><stop offset="0.29" stop-color="#00c4ff"/><stop offset="0.3" stop-color="#0491ff"/><stop offset="0.31" stop-color="#1069ff"/><stop offset="0.32" stop-color="#3c49ff"/><stop offset="0.33" stop-color="#7f38ff"/><stop offset="0.34" stop-color="#b933ff"/><stop offset="0.39" stop-color="#d91afd"/><stop offset="0.42" stop-color="#f103fa"/><stop offset="0.45" stop-color="#cd00d6"/><stop offset="0.47" stop-color="#b200be"/><stop offset="0.49" stop-color="#9700a6"/><stop offset="0.52" stop-color="#770089"/><stop offset="0.55" stop-color="#5e006f"/><stop offset="0.65" stop-color="#49005a"/><stop offset="0.75" stop-color="#350044"/><stop offset="1" stop-color="#260031"/></linearGradient>
<linearGradient id="g51" gradientUnits="userSpaceOnUse" x1="0" x2="307.3" y1="0" y2="0"><stop offset="0" stop-color="#00ff2c"/><stop offset="0.02" stop-color="#00ff2c"/><stop offset="0.02" stop-color="#0cff1b"/><stop offset="0.03" stop-color="#20ff14"/><stop offset="0.1" stop-color="#20ff14"/><stop offset="0.1" stop-color="#0eff1a"/><stop offset="0.1" stop-color="#00ff23"/><stop offset="0.14" stop-color="#00ff23"/><stop offset="0.15" stop-color="#0cff1b"/><stop offset="0.15" stop-color="#1aff16"/><stop offset="0.22" stop-color="#1aff16"/><stop offset="0.22" stop-color="#09ff1b"/><stop offset="0.23" stop-color="#00ff2c"/><stop offset="0.29" stop-color="#00ff51"/><stop offset="0.3" stop-color="#00ff72"/><stop offset="0.3" stop-color="#00ff95"/><stop offset="0.31" stop-color="#00fdc0"/><stop offset="0.32" stop-color="#00fbec"/><stop offset="0.32" stop-color="#00d3ff"/><stop offset="0.33" stop-color="#0397ff"/><stop offset="0.34" stop-color="#1069ff"/><stop offset="0.36" stop-color="#314eff"/><stop offset="0.39" stop-color="#633bff"/><stop offset="0.4" stop-color="#8238ff"/><stop offset="0.42" stop-color="#a235ff"/><stop offset="0.43" stop-color="#c32dff"/><stop offset="0.45" stop-color="#d61cfd"/><stop offset="0.47" stop-color="#ed07fb"/><stop offset="0.49" stop-color="#de00e6"/><stop offset="0.51" stop-color="#bd00c8"/><stop offset="0.53" stop-color="#9b00aa"/><stop offset="0.55" stop-color="#7d008f"/><stop offset="0.65" stop-color="#630074"/><stop offset="0.75" stop-color="#480058"/><stop offset="1" stop-color="#340043"/></linearGradient>
<linearGradient id="g52" gradientUnits="userSpaceOnUse" x1="0" x2="307.3" y1="0" y2="0"><stop offset="0" stop-color="#52ff06"/><stop offset="0.02" stop-color="#52ff06"/><stop offset="0.02" stop-color="#6fff00"/><stop offset="0.03" stop-color="#9fff00"/><stop offset="0.1" stop-color="#9fff00"/><stop offset="0.1" stop-color="#76ff00"/><stop offset="0.1" stop-color="#58ff03"/><stop offset="0.14" stop-color="#58ff03"/><stop offset="0.15" stop-color="#6fff00"/><stop offset="0.15" stop-color="#91ff00"/><stop offset="0.22" stop-color="#91ff00"/><stop offset="0.22" stop-color="#69ff00"/><stop offset="0.23" stop-color="#52ff06"/><stop offset="0.26" stop-color="#44ff0a"/><stop offset="0.29" stop-color="#36ff0e"/><stop offset="0.3" stop-color="#1eff15"/><stop offset="0.3" stop-color="#05ff1c"/><stop offset="0.31" stop-color="#00ff3c"/><stop offset="0.32" stop-color="#00ff62"/><stop offset="0.32" stop-color="#00ff83"/><stop offset="0.33" stop-color="#00fead"/><stop offset="0.33" stop-color="#00fcd9"/><stop offset="0.34" stop-color="#00f2ff"/><stop offset="0.36" stop-color="#00b9ff"/><stop offset="0.39" stop-color="#068aff"/><stop offset="0.4" stop-color="#1068ff"/><stop offset="0.42" stop-color="#324dff"/><stop offset="0.43" stop-color="#6b3aff"/><stop offset="0.45" stop-color="#9836ff"/><stop offset="0.47" stop-color="#c52bfe"/><stop offset="0.49" stop-color="#e013fc"/><stop offset="0.51" stop-color="#ee00f4"/><stop offset="0.53" stop-color="#c600d1"/><stop offset="0.55" stop-color="#9f00ae"/><stop offset="0.62" stop-color="#810092"/><stop offset="0.68" stop-color="#6c007d"/><stop offset="0.75" stop-color="#570068"/><stop offset="1" stop-color="#3f004f"/></linearGradient>
<linearGradient id="g53" gradientUnits="userSpaceOnUse" x1="0" x2="307.3" y1="0" y2="0"><stop offset="0" stop-color="#beff00"/><stop offset="0.02" stop-color="#beff00"/><stop offset="0.02" stop-color="#e4ee00"/><stop offset="0.02" stop-color="#ffc300"/><stop offset="0.03" stop-color="#ff5c00"/><stop offset="0.1" stop-color="#ff5c00"/><stop offset="0.1" stop-color="#ffe100"/><stop offset="0.1" stop-color="#cef800"/><stop offset="0.14" stop-color="#cef800"/><stop offset="0.15" stop-color="#f7e500"/><stop offset="0.15" stop-color="#ff8800"/><stop offset="0.22" stop-color="#ff8800"/><stop offset="0.22" stop-color="#efe800"/><stop offset="0.23" stop-color="#beff00"/><stop offset="0.26" stop-color="#a0ff00"/><stop offset="0.29" stop-color="#82ff00"/><stop offset="0.3" stop-color="#58ff03"/><stop offset="0.3" stop-color="#3eff0c"/><stop offset="0.31" stop-color="#23ff14"/><stop offset="0.32" stop-color="#08ff1c"/><stop offset="0.32" stop-color="#00ff36"/><stop offset="0.33" stop-color="#00ff5b"/><stop offset="0.33" stop-color="#00ff80"/><stop offset="0.34" stop-color="#00fead"/><stop offset="0.36" stop-color="#00fbde"/><stop offset="0.39" stop-color="#00e5ff"/><stop offset="0.4" stop-color="#00b1ff"/><stop offset="0.42" stop-color="#0787ff"/><stop offset="0.43" stop-color="#145aff"/><stop offset="0.45" stop-color="#5a3cff"/><stop offset="0.47" stop-color="#9436ff"/><stop offset="0.49" stop-color="#c62afe"/><stop offset="0.51" stop-color="#e311fc"/><stop offset="0.53" stop-color="#e500ec"/><stop offset="0.55" stop-color="#b900c5"/><stop offset="0.62" stop-color="#9600a6"/><stop offset="0.68" stop-color="#78008a"/><stop offset="0.75" stop-color="#610072"/><stop offset="1" stop-color="#470057"/></linearGradient>
<linearGradient id="g54" gradientUnits="userSpaceOnUse" x1="0" x2="307.3" y1="0" y2="0"><stop offset="0" stop-color="#2c0038"/><stop offset="0.07" stop-color="#2c0038"/><stop offset="0.07" stop-color="#30003e"/><stop offset="0.12" stop-color="#30003e"/><stop offset="0.13" stop-color="#2d0039"/><stop offset="0.15" stop-color="#2d0039"/><stop offset="0.16" stop-color="#30003d"/><stop offset="0.23" stop-color="#30003d"/><stop offset="0.24" stop-color="#2c0038"/><stop offset="0.29" stop-color="#2a0035"/><stop offset="0.32" stop-color="#21002b"/><stop offset="0.34" stop-color="#1a0022"/><stop offset="0.41" stop-color="#18001e"/><stop offset="0.46" stop-color="#15001b"/><stop offset="0.5" stop-color="#120017"/><stop offset="0.54" stop-color="#0f0013"/><stop offset="0.6" stop-color="#0a000d"/><stop offset="0.75" stop-color="#060008"/><stop offset="1" stop-color="#040006"/></linearGradient>
<linearGradient id="g55" gradientUnits="userSpaceOnUse" x1="0" x2="307.3" y1="0" y2="0"><stop offset="0" stop-color="#580069"/><stop offset="0.07" stop-color="#580069"/><stop offset="0.07" stop-color="#600071"/><stop offset="0.12" stop-color="#600071"/><stop offset="0.13" stop-color="#59006a"/><stop offset="0.15" stop-color="#59006a"/><stop offset="0.16" stop-color="#5f0070"/><stop offset="0.23" stop-color="#5f0070"/><stop offset="0.24" stop-color="#580069"/><stop offset="0.29" stop-color="#530064"/><stop offset="0.32" stop-color="#430054"/><stop offset="0.34" stop-color="#360045"/><stop offset="0.41" stop-color="#2f003c"/><stop offset="0.46" stop-color="#2a0035"/><stop offset="0.5" stop-color="#23002d"/><stop offset="0.54" stop-color="#1b0023"/><stop offset="0.6" stop-color="#120017"/><stop offset="0.75" stop-color="#0b000e"/><stop offset="1" stop-color="#08000b"/></linearGradient>
<linearGradient id="g56" gradientUnits="userSpaceOnUse" x1="0" x2="307.3" y1="0" y2="0"><stop offset="0" stop-color="#8f009f"/><stop offset="0.07" stop-color="#8f009f"/><stop offset="0.07" stop-color="#a100b0"/><stop offset="0.12" stop-color="#a100b0"/><stop offset="0.13" stop-color="#9100a2"/><stop offset="0.15" stop-color="#9100a2"/><stop offset="0.16" stop-color="#9f00ae"/><stop offset="0.23" stop-color="#9f00ae"/><stop offset="0.24" stop-color="#8f009f"/><stop offset="0.29" stop-color="#840096"/><stop offset="0.32" stop-color="#6c007d"/><stop offset="0.34" stop-color="#570068"/><stop offset="0.41" stop-color="#4c005d"/><stop offset="0.46" stop-color="#440054"/><stop offset="0.5" stop-color="#390049"/><stop offset="0.54" stop-color="#2d003a"/><stop offset="0.6" stop-color="#1c0024"/><stop offset="0.75" stop-color="#110016"/><stop offset="1" stop-color="#0d0010"/></linearGradient>
<linearGradient id="g57" gradientUnits="userSpaceOnUse" x1="0" x2="307.3" y1="0" y2="0"><stop offset="0" stop-color="#ef05fb"/><stop offset="0.07" stop-color="#ef05fb"/><stop offset="0.07" stop-color="#dd16fc"/><stop offset="0.12" stop-color="#dd16fc"/><stop offset="0.13" stop-color="#ed08fb"/><stop offset="0.15" stop-color="#ed08fb"/><stop offset="0.16" stop-color="#e013fc"/><stop offset="0.23" stop-color="#e013fc"/><stop offset="0.24" stop-color="#ef05fb"/><stop offset="0.29" stop-color="#ee00f4"/><stop offset="0.3" stop-color="#d200db"/><stop offset="0.32" stop-color="#b700c3"/><stop offset="0.33" stop-color="#9f00ae"/><stop offset="0.34" stop-color="#870098"/><stop offset="0.41" stop-color="#760088"/><stop offset="0.46" stop-color="#69007a"/><stop offset="0.5" stop-color="#59006a"/><stop offset="0.54" stop-color="#470057"/><stop offset="0.6" stop-color="#2d003a"/><stop offset="0.75" stop-color="#190020"/><stop offset="1" stop-color="#130018"/></linearGradient>
<linearGradient id="g58" gradientUnits="userSpaceOnUse" x1="0" x2="307.3" y1="0" y2="0"><stop offset="0" stop-color="#7739ff"/><stop offset="0.07" stop-color="#7739ff"/><stop offset="0.07" stop-color="#3e48ff"/><stop offset="0.12" stop-color="#3e48ff"/><stop offset="0.13" stop-color="#703aff"/><stop offset="0.15" stop-color="#703aff"/><stop offset="0.16" stop-color="#4744ff"/><stop offset="0.23" stop-color="#4744ff"/><stop offset="0.24" stop-color="#7739ff"/><stop offset="0.29" stop-color="#9336ff"/><stop offset="0.3" stop-color="#c12fff"/><stop offset="0.32" stop-color="#da19fc"/><stop offset="0.33" stop-color="#ef05fb"/><stop offset="0.34" stop-color="#dd00e5"/><stop offset="0.41" stop-color="#bb00c7"/><stop offset="0.46" stop-color="#9f00ae"/><stop offset="0.5" stop-color="#800092"/><stop offset="0.54" stop-color="#660078"/><stop offset="0.57" stop-color="#540065"/><stop offset="0.6" stop-color="#420052"/><stop offset="0.75" stop-color="#25002f"/><stop offset="1" stop-color="#1a0022"/></linearGradient>
<linearGradient id="g59" gradientUnits="userSpaceOnUse" x1="0" x2="307.3" y1="0" y2="0"><stop offset="0" stop-color="#00f4ff"/><stop offset="0.07" stop-color="#00f4ff"/><stop offset="0.07" stop-color="#00fbe2"/><stop offset="0.07" stop-color="#00fdc1"/><stop offset="0.12" stop-color="#00fdc1"/><stop offset="0.13" stop-color="#00fafa"/><stop offset="0.15" stop-color="#00fafa"/><stop offset="0.16" stop-color="#00fcca"/><stop offset="0.23" stop-color="#00fcca"/><stop offset="0.24" stop-color="#00f4ff"/><stop offset="0.29" stop-color="#00c4ff"/><stop offset="0.3" stop-color="#0491ff"/><stop offset="0.31" stop-color="#1069ff"/><stop offset="0.32" stop-color="#3c49ff"/><stop offset="0.33" stop-color="#7f38ff"/><stop offset="0.34" stop-color="#b933ff"/><stop offset="0.41" stop-color="#d91afd"/><stop offset="0.46" stop-color="#f103fa"/><stop offset="0.5" stop-color="#cd00d6"/><stop offset="0.52" stop-color="#b200be"/><stop offset="0.54" stop-color="#9700a6"/><stop offset="0.57" stop-color="#770089"/><stop offset="0.6" stop-color="#5e006f"/><stop offset="0.68" stop-color="#49005a"/><stop offset="0.75" stop-color="#350044"/><stop offset="1" stop-color="#260031"/></linearGradient>
<linearGradient id="g60" gradientUnits="userSpaceOnUse" x1="0" x2="307.3" y1="0" y2="0"><stop offset="0" stop-color="#00ff2c"/><stop offset="0.07" stop-color="#00ff2c"/><stop offset="0.07" stop-color="#0cff1b"/><stop offset="0.07" stop-color="#20ff14"/><stop offset="0.12" stop-color="#20ff14"/><stop offset="0.13" stop-color="#0eff1a"/><stop offset="0.13" stop-color="#00ff23"/><stop offset="0.15" stop-color="#00ff23"/><stop offset="0.16" stop-color="#0cff1b"/><stop offset="0.16" stop-color="#1aff16"/><stop offset="0.23" stop-color="#1aff16"/><stop offset="0.23" stop-color="#09ff1b"/><stop offset="0.24" stop-color="#00ff2c"/><stop offset="0.29" stop-color="#00ff51"/><stop offset="0.3" stop-color="#00ff72"/><stop offset="0.3" stop-color="#00ff95"/><stop offset="0.31" stop-color="#00fdc0"/><stop offset="0.32" stop-color="#00fbec"/><stop offset="0.32" stop-color="#00d3ff"/><stop offset="0.33" stop-color="#0397ff"/><stop offset="0.34" stop-color="#1069ff"/><stop offset="0.38" stop-color="#314eff"/><stop offset="0.41" stop-color="#633bff"/><stop offset="0.44" stop-color="#8238ff"/><stop offset="0.46" stop-color="#a235ff"/><stop offset="0.48" stop-color="#c32dff"/><stop offset="0.5" stop-color="#d61cfd"/><stop offset="0.52" stop-color="#ed07fb"/><stop offset="0.54" stop-color="#de00e6"/><stop offset="0.56" stop-color="#bd00c8"/><stop offset="0.58" stop-color="#9b00aa"/><stop offset="0.6" stop-color="#7d008f"/><stop offset="0.68" stop-color="#630074"/><stop offset="0.75" stop-color="#480058"/><stop offset="1" stop-color="#340043"/></linearGradient>
<linearGradient id="g61" gradientUnits="userSpaceOnUse" x1="0" x2="307.3" y1="0" y2="0"><stop offset="0" stop-color="#52ff06"/><stop offset="0.07" stop-color="#52ff06"/><stop offset="0.07" stop-color="#6fff00"/><stop offset="0.07" stop-color="#9fff00"/><stop offset="0.12" stop-color="#9fff00"/><stop offset="0.13" stop-color="#76ff00"/><stop offset="0.13" stop-color="#58ff03"/><stop offset="0.15" stop-color="#58ff03"/><stop offset="0.16" stop-color="#6fff00"/><stop offset="0.16" stop-color="#91ff00"/><stop offset="0.23" stop-color="#91ff00"/><stop offset="0.23" stop-color="#69ff00"/><stop offset="0.24" stop-color="#52ff06"/><stop offset="0.27" stop-color="#44ff0a"/><stop offset="0.29" stop-color="#36ff0e"/><stop offset="0.3" stop-color="#1eff15"/><stop offset="0.3" stop-color="#05ff1c"/><stop offset="0.31" stop-color="#00ff3c"/><stop offset="0.32" stop-color="#00ff62"/><stop offset="0.32" stop-color="#00ff83"/><stop offset="0.33" stop-color="#00fead"/><stop offset="0.33" stop-color="#00fcd9"/><stop offset="0.34" stop-color="#00f2ff"/><stop offset="0.38" stop-color="#00b9ff"/><stop offset="0.41" stop-color="#068aff"/><stop offset="0.44" stop-color="#1068ff"/><stop offset="0.46" stop-color="#324dff"/><stop offset="0.48" stop-color="#6b3aff"/><stop offset="0.5" stop-color="#9836ff"/><stop offset="0.52" stop-color="#c52bfe"/><stop offset="0.54" stop-color="#e013fc"/><stop offset="0.56" stop-color="#ee00f4"/><stop offset="0.58" stop-color="#c600d1"/><stop offset="0.6" stop-color="#9f00ae"/><stop offset="0.65" stop-color="#810092"/><stop offset="0.7" stop-color="#6c007d"/><stop offset="0.75" stop-color="#570068"/><stop offset="1" stop-color="#3f004f"/></linearGradient>
<linearGradient id="g62" gradientUnits="userSpaceOnUse" x1="0" x2="307.3" y1="0" y2="0"><stop offset="0" stop-color="#beff00"/><stop offset="0.07" stop-color="#beff00"/><stop offset="0.07" stop-color="#e4ed00"/><stop offset="0.07" stop-color="#ffc300"/><stop offset="0.07" stop-color="#ff5c00"/><stop offset="0.12" stop-color="#ff5c00"/><stop offset="0.13" stop-color="#ffe100"/><stop offset="0.13" stop-color="#cef800"/><stop offset="0.15" stop-color="#cef800"/><stop offset="0.16" stop-color="#f7e500"/><stop offset="0.16" stop-color="#ff8800"/><stop offset="0.23" stop-color="#ff8800"/><stop offset="0.23" stop-color="#efe800"/><stop offset="0.24" stop-color="#beff00"/><stop offset="0.27" stop-color="#a0ff00"/><stop offset="0.29" stop-color="#82ff00"/><stop offset="0.3" stop-color="#58ff03"/><stop offset="0.3" stop-color="#3eff0c"/><stop offset="0.31" stop-color="#23ff14"/><stop offset="0.32" stop-color="#08ff1c"/><stop offset="0.32" stop-color="#00ff36"/><stop offset="0.33" stop-color="#00ff5b"/><stop offset="0.33" stop-color="#00ff80"/><stop offset="0.34" stop-color="#00fead"/><stop offset="0.38" stop-color="#00fbde"/><stop offset="0.41" stop-color="#00e5ff"/><stop offset="0.44" stop-color="#00b1ff"/><stop offset="0.46" stop-color="#0787ff"/><stop offset="0.48" stop-color="#145aff"/><stop offset="0.5" stop-color="#5a3cff"/><stop offset="0.52" stop-color="#9436ff"/><stop offset="0.54" stop-color="#c62afe"/><stop offset="0.56" stop-color="#e311fc"/><stop offset="0.58" stop-color="#e500ec"/><stop offset="0.6" stop-color="#b900c5"/><stop offset="0.65" stop-color="#9600a6"/><stop offset="0.7" stop-color="#78008a"/><stop offset="0.75" stop-color="#610072"/><stop offset="1" stop-color="#470057"/></linearGradient>
<linearGradient id="g63" gradientUnits="userSpaceOnUse" x1="0" x2="307.3" y1="0" y2="0"><stop offset="0" stop-color="#e80cfb"/><stop offset="0.12" stop-color="#ea0afb"/><stop offset="0.25" stop-color="#ed08fb"/><stop offset="0.38" stop-color="#ef06fb"/><stop offset="0.5" stop-color="#f104fa"/><stop offset="0.62" stop-color="#e800ee"/><stop offset="0.75" stop-color="#d400dd"/><stop offset="0.87" stop-color="#c000cb"/><stop offset="1" stop-color="#ac00b9"/></linearGradient>
<linearGradient id="g64" gradientUnits="userSpaceOnUse" x1="0" x2="307.3" y1="0" y2="0"><stop offset="0" stop-color="#ac00b9"/><stop offset="0.12" stop-color="#e600ed"/><stop offset="0.25" stop-color="#eb09fb"/><stop offset="0.38" stop-color="#f401fa"/><stop offset="0.5" stop-color="#e500ec"/><stop offset="0.62" stop-color="#bf00ca"/><stop offset="0.75" stop-color="#9a00a9"/><stop offset="0.87" stop-color="#870099"/><stop offset="1" stop-color="#79008b"/></linearGradient>
<linearGradient id="g65" gradientUnits="userSpaceOnUse" x1="0" x2="307.3" y1="0" y2="0"><stop offset="0" stop-color="#820094"/><stop offset="0.12" stop-color="#c100cc"/><stop offset="0.25" stop-color="#e900f0"/><stop offset="0.38" stop-color="#e200e9"/><stop offset="0.5" stop-color="#d300dc"/><stop offset="0.62" stop-color="#b000bd"/><stop offset="0.75" stop-color="#8f00a0"/><stop offset="0.87" stop-color="#800092"/><stop offset="1" stop-color="#750087"/></linearGradient>
<linearGradient id="g66" gradientUnits="userSpaceOnUse" x1="0" x2="307.3" y1="0" y2="0"><stop offset="0" stop-color="#6c007e"/><stop offset="0.12" stop-color="#9e00ad"/><stop offset="0.25" stop-color="#c900d4"/><stop offset="0.38" stop-color="#c700d2"/><stop offset="0.5" stop-color="#bb00c7"/><stop offset="0.62" stop-color="#9c00ab"/><stop offset="0.75" stop-color="#820094"/><stop offset="0.87" stop-color="#79008b"/><stop offset="1" stop-color="#6f0080"/></linearGradient>
<linearGradient id="g67" gradientUnits="userSpaceOnUse" x1="0" x2="307.3" y1="0" y2="0"><stop offset="0" stop-color="#5a006b"/><stop offset="0.12" stop-color="#7e0090"/><stop offset="0.25" stop-color="#a600b4"/><stop offset="0.38" stop-color="#a700b5"/><stop offset="0.5" stop-color="#9f00ae"/><stop offset="0.62" stop-color="#840096"/><stop offset="0.75" stop-color="#770088"/><stop offset="0.87" stop-color="#700081"/><stop offset="1" stop-color="#670079"/></linearGradient>
<linearGradient id="g68" gradientUnits="userSpaceOnUse" x1="0" x2="307.3" y1="0" y2="0"><stop offset="0" stop-color="#4b005b"/><stop offset="0.12" stop-color="#6a007c"/><stop offset="0.25" stop-color="#830095"/><stop offset="0.38" stop-color="#860098"/><stop offset="0.5" stop-color="#820094"/><stop offset="0.62" stop-color="#730085"/><stop offset="0.75" stop-color="#6a007b"/><stop offset="0.87" stop-color="#660077"/><stop offset="1" stop-color="#5f0070"/></linearGradient>
<linearGradient id="g69" gradientUnits="userSpaceOnUse" x1="0" x2="307.3" y1="0" y2="0"><stop offset="0" stop-color="#3e004e"/><stop offset="0.12" stop-color="#580068"/><stop offset="0.25" stop-color="#6c007d"/><stop offset="0.38" stop-color="#6e0080"/><stop offset="0.5" stop-color="#6d007e"/><stop offset="0.62" stop-color="#610072"/><stop offset="0.75" stop-color="#5c006d"/><stop offset="0.87" stop-color="#5a006b"/><stop offset="1" stop-color="#550066"/></linearGradient>
<linearGradient id="g70" gradientUnits="userSpaceOnUse" x1="0" x2="307.3" y1="0" y2="0"><stop offset="0" stop-color="#340042"/><stop offset="0.12" stop-color="#490059"/><stop offset="0.25" stop-color="#59006a"/><stop offset="0.38" stop-color="#5b006c"/><stop offset="0.5" stop-color="#5a006b"/><stop offset="0.62" stop-color="#510062"/><stop offset="0.75" stop-color="#500061"/><stop offset="0.87" stop-color="#500060"/><stop offset="1" stop-color="#4c005d"/></linearGradient>
<linearGradient id="g71" gradientUnits="userSpaceOnUse" x1="0" x2="307.3" y1="0" y2="0"><stop offset="0" stop-color="#2b0037"/><stop offset="0.12" stop-color="#3a004a"/><stop offset="0.25" stop-color="#450055"/><stop offset="0.38" stop-color="#460057"/><stop offset="0.5" stop-color="#470057"/><stop offset="0.62" stop-color="#400051"/><stop offset="0.75" stop-color="#420052"/><stop offset="0.87" stop-color="#440054"/><stop offset="1" stop-color="#420052"/></linearGradient>
<linearGradient id="g72" gradientUnits="userSpaceOnUse" x1="0" x2="307.3" y1="0" y2="0"><stop offset="0" stop-color="#23002d"/><stop offset="0.12" stop-color="#2e003a"/><stop offset="0.25" stop-color="#340042"/><stop offset="0.38" stop-color="#340043"/><stop offset="0.5" stop-color="#360045"/><stop offset="0.62" stop-color="#31003f"/><stop offset="0.75" stop-color="#350044"/><stop offset="0.87" stop-color="#380048"/><stop offset="1" stop-color="#380047"/></linearGradient>
<linearGradient id="g73" gradientUnits="userSpaceOnUse" x1="0" x2="307.3" y1="0" y2="0"><stop offset="0" stop-color="#1c0025"/><stop offset="0.12" stop-color="#23002d"/><stop offset="0.25" stop-color="#260030"/><stop offset="0.38" stop-color="#260030"/><stop offset="0.5" stop-color="#270033"/><stop offset="0.62" stop-color="#24002f"/><stop offset="0.75" stop-color="#2a0036"/><stop offset="0.87" stop-color="#2e003a"/><stop offset="1" stop-color="#2e003b"/></linearGradient>
<linearGradient id="g74" gradientUnits="userSpaceOnUse" x1="0" x2="307.3" y1="0" y2="0"><stop offset="0" stop-color="#18001f"/><stop offset="0.12" stop-color="#1b0023"/><stop offset="0.25" stop-color="#1b0022"/><stop offset="0.38" stop-color="#1a0021"/><stop offset="0.5" stop-color="#1c0023"/><stop offset="0.62" stop-color="#1a0022"/><stop offset="0.75" stop-color="#200029"/><stop offset="0.87" stop-color="#24002e"/><stop offset="1" stop-color="#250030"/></linearGradient>
<linearGradient id="g76" gradientUnits="userSpaceOnUse" x1="0" x2="307.3" y1="0" y2="0"><stop offset="0" stop-color="#30003e"/><stop offset="0.02" stop-color="#30003e"/><stop offset="0.03" stop-color="#2c0038"/><stop offset="0.14" stop-color="#2a0035"/><stop offset="0.18" stop-color="#24002e"/><stop offset="0.32" stop-color="#1e0026"/><stop offset="0.35" stop-color="#190021"/><stop offset="0.46" stop-color="#17001e"/><stop offset="0.5" stop-color="#15001b"/><stop offset="0.55" stop-color="#130018"/><stop offset="0.6" stop-color="#0f0013"/><stop offset="0.68" stop-color="#0a000d"/><stop offset="0.8" stop-color="#060008"/><stop offset="1" stop-color="#040006"/></linearGradient>
<linearGradient id="g77" gradientUnits="userSpaceOnUse" x1="0" x2="307.3" y1="0" y2="0"><stop offset="0" stop-color="#600071"/><stop offset="0.02" stop-color="#600071"/><stop offset="0.03" stop-color="#580069"/><stop offset="0.14" stop-color="#530064"/><stop offset="0.18" stop-color="#480058"/><stop offset="0.32" stop-color="#3d004d"/><stop offset="0.35" stop-color="#340042"/><stop offset="0.46" stop-color="#2e003b"/><stop offset="0.5" stop-color="#2a0035"/><stop offset="0.55" stop-color="#24002e"/><stop offset="0.6" stop-color="#1b0023"/><stop offset="0.68" stop-color="#120017"/><stop offset="0.8" stop-color="#0c000f"/><stop offset="1" stop-color="#08000b"/></linearGradient>
<linearGradient id="g78" gradientUnits="userSpaceOnUse" x1="0" x2="307.3" y1="0" y2="0"><stop offset="0" stop-color="#a100b0"/><stop offset="0.02" stop-color="#a100b0"/><stop offset="0.03" stop-color="#8f009f"/><stop offset="0.14" stop-color="#840096"/><stop offset="0.18" stop-color="#730084"/><stop offset="0.32" stop-color="#610072"/><stop offset="0.35" stop-color="#530064"/><stop offset="0.46" stop-color="#4b005b"/><stop offset="0.5" stop-color="#440054"/><stop offset="0.55" stop-color="#3b004b"/><stop offset="0.6" stop-color="#2d003a"/><stop offset="0.68" stop-color="#1c0024"/><stop offset="0.8" stop-color="#120017"/><stop offset="1" stop-color="#0d0010"/></linearGradient>
<linearGradient id="g79" gradientUnits="userSpaceOnUse" x1="0" x2="307.3" y1="0" y2="0"><stop offset="0" stop-color="#dd16fc"/><stop offset="0.02" stop-color="#dd16fc"/><stop offset="0.03" stop-color="#ef05fb"/><stop offset="0.14" stop-color="#ee00f4"/><stop offset="0.18" stop-color="#c600d1"/><stop offset="0.32" stop-color="#9f00ae"/><stop offset="0.35" stop-color="#810092"/><stop offset="0.46" stop-color="#730085"/><stop offset="0.5" stop-color="#69007a"/><stop offset="0.55" stop-color="#5c006d"/><stop offset="0.6" stop-color="#470057"/><stop offset="0.68" stop-color="#2d003a"/><stop offset="0.8" stop-color="#1b0023"/><stop offset="1" stop-color="#130018"/></linearGradient>
<linearGradient id="g80" gradientUnits="userSpaceOnUse" x1="0" x2="307.3" y1="0" y2="0"><stop offset="0" stop-color="#3e48ff"/><stop offset="0.02" stop-color="#3e48ff"/><stop offset="0.03" stop-color="#7739ff"/><stop offset="0.14" stop-color="#9336ff"/><stop offset="0.16" stop-color="#b633ff"/><stop offset="0.18" stop-color="#cc26fe"/><stop offset="0.25" stop-color="#dd16fc"/><stop offset="0.32" stop-color="#ef05fb"/><stop offset="0.35" stop-color="#d200db"/><stop offset="0.46" stop-color="#b600c2"/><stop offset="0.5" stop-color="#9f00ae"/><stop offset="0.55" stop-color="#840096"/><stop offset="0.6" stop-color="#660078"/><stop offset="0.64" stop-color="#540065"/><stop offset="0.68" stop-color="#420052"/><stop offset="0.8" stop-color="#290034"/><stop offset="1" stop-color="#1a0022"/></linearGradient>
<linearGradient id="g81" gradientUnits="userSpaceOnUse" x1="0" x2="307.3" y1="0" y2="0"><stop offset="0" stop-color="#00fdc1"/><stop offset="0.02" stop-color="#00fdc1"/><stop offset="0.02" stop-color="#00fbe2"/><stop offset="0.03" stop-color="#00f4ff"/><stop offset="0.14" stop-color="#00c4ff"/><stop offset="0.16" stop-color="#058eff"/><stop offset="0.18" stop-color="#1163ff"/><stop offset="0.25" stop-color="#4a43ff"/><stop offset="0.32" stop-color="#7f38ff"/><stop offset="0.33" stop-color="#a534ff"/><stop offset="0.35" stop-color="#c52cfe"/><stop offset="0.46" stop-color="#de15fc"/><stop offset="0.5" stop-color="#f103fa"/><stop offset="0.55" stop-color="#d400dd"/><stop offset="0.57" stop-color="#b500c2"/><stop offset="0.6" stop-color="#9700a6"/><stop offset="0.64" stop-color="#770089"/><stop offset="0.68" stop-color="#5e006f"/><stop offset="0.74" stop-color="#4c005d"/><stop offset="0.8" stop-color="#3a004a"/><stop offset="1" stop-color="#260031"/></linearGradient>
<linearGradient id="g82" gradientUnits="userSpaceOnUse" x1="0" x2="307.3" y1="0" y2="0"><stop offset="0" stop-color="#20ff14"/><stop offset="0.02" stop-color="#20ff14"/><stop offset="0.02" stop-color="#0cff1b"/><stop offset="0.03" stop-color="#00ff2c"/><stop offset="0.14" stop-color="#00ff51"/><stop offset="0.15" stop-color="#00ff70"/><stop offset="0.16" stop-color="#00ff90"/><stop offset="0.18" stop-color="#00fdba"/><stop offset="0.22" stop-color="#00fbe4"/><stop offset="0.27" stop-color="#00e8ff"/><stop offset="0.32" stop-color="#00b3ff"/><stop offset="0.33" stop-color="#0980ff"/><stop offset="0.35" stop-color="#1f55ff"/><stop offset="0.41" stop-color="#4c42ff"/><stop offset="0.46" stop-color="#6f3aff"/><stop offset="0.5" stop-color="#a235ff"/><stop offset="0.53" stop-color="#c030ff"/><stop offset="0.55" stop-color="#d022fd"/><stop offset="0.57" stop-color="#ea0afb"/><stop offset="0.6" stop-color="#de00e6"/><stop offset="0.62" stop-color="#bd00c8"/><stop offset="0.65" stop-color="#9b00aa"/><stop offset="0.68" stop-color="#7d008f"/><stop offset="0.74" stop-color="#660077"/><stop offset="0.8" stop-color="#4f005f"/><stop offset="1" stop-color="#340043"/></linearGradient>
<linearGradient id="g83" gradientUnits="userSpaceOnUse" x1="0" x2="307.3" y1="0" y2="0"><stop offset="0" stop-color="#9fff00"/><stop offset="0.02" stop-color="#9fff00"/><stop offset="0.02" stop-color="#6fff00"/><stop offset="0.03" stop-color="#52ff06"/><stop offset="0.09" stop-color="#44ff0a"/><stop offset="0.14" stop-color="#36ff0e"/><stop offset="0.15" stop-color="#1fff15"/><stop offset="0.16" stop-color="#08ff1c"/><stop offset="0.18" stop-color="#00ff36"/><stop offset="0.22" stop-color="#00ff5b"/><stop offset="0.27" stop-color="#00ff80"/><stop offset="0.32" stop-color="#00fead"/><stop offset="0.33" stop-color="#00fcd4"/><stop offset="0.34" stop-color="#00fafc"/><stop offset="0.35" stop-color="#00ccff"/><stop offset="0.41" stop-color="#019eff"/><stop offset="0.46" stop-color="#0a7cff"/><stop offset="0.48" stop-color="#1261ff"/><stop offset="0.5" stop-color="#324dff"/><stop offset="0.53" stop-color="#633bff"/><stop offset="0.55" stop-color="#8937ff"/><stop offset="0.57" stop-color="#b133ff"/><stop offset="0.58" stop-color="#cc26fe"/><stop offset="0.6" stop-color="#e013fc"/><stop offset="0.62" stop-color="#ee00f4"/><stop offset="0.65" stop-color="#c600d1"/><stop offset="0.68" stop-color="#9f00ae"/><stop offset="0.74" stop-color="#7a008c"/><stop offset="0.8" stop-color="#5f0070"/><stop offset="0.9" stop-color="#4f005f"/><stop offset="1" stop-color="#3f004f"/></linearGradient>
<linearGradient id="g84" gradientUnits="userSpaceOnUse" x1="0" x2="307.3" y1="0" y2="0"><stop offset="0" stop-color="#ff5c00"/><stop offset="0.02" stop-color="#ff5c00"/><stop offset="0.02" stop-color="#ffc300"/><stop offset="0.03" stop-color="#e4ee00"/><stop offset="0.03" stop-color="#beff00"/><stop offset="0.09" stop-color="#a0ff00"/><stop offset="0.14" stop-color="#82ff00"/><stop offset="0.15" stop-color="#5aff03"/><stop offset="0.16" stop-color="#40ff0b"/><stop offset="0.18" stop-color="#26ff12"/><stop offset="0.22" stop-color="#0dff1a"/><stop offset="0.27" stop-color="#00ff32"/><stop offset="0.32" stop-color="#00ff5b"/><stop offset="0.33" stop-color="#00ff7c"/><stop offset="0.34" stop-color="#00fea2"/><stop offset="0.35" stop-color="#00fcce"/><stop offset="0.41" stop-color="#00faf7"/><stop offset="0.46" stop-color="#00d0ff"/><stop offset="0.48" stop-color="#00a6ff"/><stop offset="0.5" stop-color="#0787ff"/><stop offset="0.53" stop-color="#1261ff"/><stop offset="0.55" stop-color="#4346ff"/><stop offset="0.57" stop-color="#7639ff"/><stop offset="0.58" stop-color="#a235ff"/><stop offset="0.6" stop-color="#c62afe"/><stop offset="0.62" stop-color="#e311fc"/><stop offset="0.65" stop-color="#e500ec"/><stop offset="0.68" stop-color="#b900c5"/><stop offset="0.74" stop-color="#8b009c"/><stop offset="0.8" stop-color="#6a007b"/><stop offset="0.9" stop-color="#580069"/><stop offset="1" stop-color="#470057"/></linearGradient>
<linearGradient id="g85" gradientUnits="userSpaceOnUse" x1="0" x2="307.3" y1="0" y2="0"><stop offset="0" stop-color="#30003e"/><stop offset="0.12" stop-color="#30003e"/><stop offset="0.13" stop-color="#2d003a"/><stop offset="0.17" stop-color="#2c0038"/><stop offset="0.2" stop-color="#24002e"/><stop offset="0.32" stop-color="#1e0026"/><stop offset="0.35" stop-color="#190021"/><stop offset="0.48" stop-color="#17001e"/><stop offset="0.53" stop-color="#15001b"/><stop offset="0.6" stop-color="#130018"/><stop offset="0.65" stop-color="#0f0013"/><stop offset="0.72" stop-color="#0a000d"/><stop offset="0.82" stop-color="#060008"/><stop offset="1" stop-color="#040006"/></linearGradient>
<linearGradient id="g86" gradientUnits="userSpaceOnUse" x1="0" x2="307.3" y1="0" y2="0"><stop offset="0" stop-color="#600071"/><stop offset="0.12" stop-color="#600071"/><stop offset="0.13" stop-color="#5a006b"/><stop offset="0.17" stop-color="#580069"/><stop offset="0.2" stop-color="#480058"/><stop offset="0.32" stop-color="#3d004d"/><stop offset="0.35" stop-color="#340042"/><stop offset="0.48" stop-color="#2e003b"/><stop offset="0.53" stop-color="#2a0035"/><stop offset="0.6" stop-color="#24002e"/><stop offset="0.65" stop-color="#1b0023"/><stop offset="0.72" stop-color="#120017"/><stop offset="0.82" stop-color="#0c000f"/><stop offset="1" stop-color="#08000b"/></linearGradient>
<linearGradient id="g87" gradientUnits="userSpaceOnUse" x1="0" x2="307.3" y1="0" y2="0"><stop offset="0" stop-color="#a100b0"/><stop offset="0.12" stop-color="#a100b0"/><stop offset="0.13" stop-color="#9400a4"/><stop offset="0.17" stop-color="#8f009f"/><stop offset="0.2" stop-color="#730084"/><stop offset="0.32" stop-color="#610072"/><stop offset="0.35" stop-color="#530064"/><stop offset="0.48" stop-color="#4b005b"/><stop offset="0.53" stop-color="#440054"/><stop offset="0.6" stop-color="#3b004b"/><stop offset="0.65" stop-color="#2d003a"/><stop offset="0.72" stop-color="#1c0024"/><stop offset="0.82" stop-color="#120017"/><stop offset="1" stop-color="#0d0010"/></linearGradient>
<linearGradient id="g88" gradientUnits="userSpaceOnUse" x1="0" x2="307.3" y1="0" y2="0"><stop offset="0" stop-color="#dd16fc"/><stop offset="0.12" stop-color="#dd16fc"/><stop offset="0.13" stop-color="#ea0afb"/><stop offset="0.17" stop-color="#ef05fb"/><stop offset="0.18" stop-color="#e200ea"/><stop offset="0.2" stop-color="#c600d1"/><stop offset="0.32" stop-color="#9f00ae"/><stop offset="0.35" stop-color="#810092"/><stop offset="0.48" stop-color="#730085"/><stop offset="0.53" stop-color="#69007a"/><stop offset="0.6" stop-color="#5c006d"/><stop offset="0.65" stop-color="#470057"/><stop offset="0.72" stop-color="#2d003a"/><stop offset="0.82" stop-color="#1b0023"/><stop offset="1" stop-color="#130018"/></linearGradient>
<linearGradient id="g89" gradientUnits="userSpaceOnUse" x1="0" x2="307.3" y1="0" y2="0"><stop offset="0" stop-color="#3e48ff"/><stop offset="0.12" stop-color="#3e48ff"/><stop offset="0.13" stop-color="#693bff"/><stop offset="0.17" stop-color="#7739ff"/><stop offset="0.18" stop-color="#a834ff"/><stop offset="0.2" stop-color="#cc26fe"/><stop offset="0.26" stop-color="#dd16fc"/><stop offset="0.32" stop-color="#ef05fb"/><stop offset="0.35" stop-color="#d200db"/><stop offset="0.48" stop-color="#b600c2"/><stop offset="0.53" stop-color="#9f00ae"/><stop offset="0.6" stop-color="#840096"/><stop offset="0.65" stop-color="#660078"/><stop offset="0.69" stop-color="#540065"/><stop offset="0.72" stop-color="#420052"/><stop offset="0.82" stop-color="#290034"/><stop offset="1" stop-color="#1a0022"/></linearGradient>
<linearGradient id="g90" gradientUnits="userSpaceOnUse" x1="0" x2="307.3" y1="0" y2="0"><stop offset="0" stop-color="#00fdc1"/><stop offset="0.12" stop-color="#00fdc1"/><stop offset="0.13" stop-color="#00fbf1"/><stop offset="0.17" stop-color="#00f4ff"/><stop offset="0.18" stop-color="#00bbff"/><stop offset="0.19" stop-color="#068bff"/><stop offset="0.2" stop-color="#1163ff"/><stop offset="0.26" stop-color="#4a43ff"/><stop offset="0.32" stop-color="#7f38ff"/><stop offset="0.33" stop-color="#a534ff"/><stop offset="0.35" stop-color="#c52cfe"/><stop offset="0.48" stop-color="#de15fc"/><stop offset="0.53" stop-color="#f103fa"/><stop offset="0.6" stop-color="#d400dd"/><stop offset="0.62" stop-color="#b500c2"/><stop offset="0.65" stop-color="#9700a6"/><stop offset="0.69" stop-color="#770089"/><stop offset="0.72" stop-color="#5e006f"/><stop offset="0.78" stop-color="#4c005d"/><stop offset="0.82" stop-color="#3a004a"/><stop offset="1" stop-color="#260031"/></linearGradient>
<linearGradient id="g91" gradientUnits="userSpaceOnUse" x1="0" x2="307.3" y1="0" y2="0"><stop offset="0" stop-color="#20ff14"/><stop offset="0.12" stop-color="#20ff14"/><stop offset="0.12" stop-color="#11ff19"/><stop offset="0.13" stop-color="#03ff1d"/><stop offset="0.17" stop-color="#00ff2c"/><stop offset="0.18" stop-color="#00ff4d"/><stop offset="0.18" stop-color="#00ff6d"/><stop offset="0.19" stop-color="#00ff8e"/><stop offset="0.2" stop-color="#00fdba"/><stop offset="0.24" stop-color="#00fbe4"/><stop offset="0.28" stop-color="#00e8ff"/><stop offset="0.32" stop-color="#00b3ff"/><stop offset="0.33" stop-color="#0980ff"/><stop offset="0.35" stop-color="#1f55ff"/><stop offset="0.42" stop-color="#4c42ff"/><stop offset="0.48" stop-color="#6f3aff"/><stop offset="0.53" stop-color="#a235ff"/><stop offset="0.56" stop-color="#c030ff"/><stop offset="0.6" stop-color="#d022fd"/><stop offset="0.62" stop-color="#ea0afb"/><stop offset="0.65" stop-color="#de00e6"/><stop offset="0.68" stop-color="#bd00c8"/><stop offset="0.7" stop-color="#9b00aa"/><stop offset="0.72" stop-color="#7d008f"/><stop offset="0.78" stop-color="#660077"/><stop offset="0.82" stop-color="#4f005f"/><stop offset="1" stop-color="#340043"/></linearGradient>
<linearGradient id="g92" gradientUnits="userSpaceOnUse" x1="0" x2="307.3" y1="0" y2="0"><stop offset="0" stop-color="#9fff00"/><stop offset="0.12" stop-color="#9fff00"/><stop offset="0.12" stop-color="#7dff00"/><stop offset="0.13" stop-color="#5fff01"/><stop offset="0.17" stop-color="#52ff06"/><stop offset="0.18" stop-color="#39ff0d"/><stop offset="0.18" stop-color="#21ff14"/><stop offset="0.19" stop-color="#09ff1b"/><stop offset="0.2" stop-color="#00ff36"/><stop offset="0.24" stop-color="#00ff5b"/><stop offset="0.28" stop-color="#00ff80"/><stop offset="0.32" stop-color="#00fead"/><stop offset="0.33" stop-color="#00fcd4"/><stop offset="0.34" stop-color="#00fafc"/><stop offset="0.35" stop-color="#00ccff"/><stop offset="0.42" stop-color="#019eff"/><stop offset="0.48" stop-color="#0a7cff"/><stop offset="0.5" stop-color="#1261ff"/><stop offset="0.53" stop-color="#324dff"/><stop offset="0.56" stop-color="#633bff"/><stop offset="0.6" stop-color="#8937ff"/><stop offset="0.62" stop-color="#b133ff"/><stop offset="0.63" stop-color="#cc26fe"/><stop offset="0.65" stop-color="#e013fc"/><stop offset="0.68" stop-color="#ee00f4"/><stop offset="0.7" stop-color="#c600d1"/><stop offset="0.72" stop-color="#9f00ae"/><stop offset="0.78" stop-color="#7a008c"/><stop offset="0.82" stop-color="#5f0070"/><stop offset="0.91" stop-color="#4f005f"/><stop offset="1" stop-color="#3f004f"/></linearGradient>
<linearGradient id="g93" gradientUnits="userSpaceOnUse" x1="0" x2="307.3" y1="0" y2="0"><stop offset="0" stop-color="#ff5c00"/><stop offset="0.12" stop-color="#ff5c00"/><stop offset="0.12" stop-color="#ffcb00"/><stop offset="0.13" stop-color="#def000"/><stop offset="0.17" stop-color="#beff00"/><stop offset="0.18" stop-color="#89ff00"/><stop offset="0.18" stop-color="#5cff02"/><stop offset="0.19" stop-color="#41ff0a"/><stop offset="0.2" stop-color="#26ff12"/><stop offset="0.24" stop-color="#0dff1a"/><stop offset="0.28" stop-color="#00ff32"/><stop offset="0.32" stop-color="#00ff5b"/><stop offset="0.33" stop-color="#00ff7c"/><stop offset="0.34" stop-color="#00fea2"/><stop offset="0.35" stop-color="#00fcce"/><stop offset="0.42" stop-color="#00faf7"/><stop offset="0.48" stop-color="#00d0ff"/><stop offset="0.5" stop-color="#00a6ff"/><stop offset="0.53" stop-color="#0787ff"/><stop offset="0.56" stop-color="#1261ff"/><stop offset="0.6" stop-color="#4346ff"/><stop offset="0.62" stop-color="#7639ff"/><stop offset="0.63" stop-color="#a235ff"/><stop offset="0.65" stop-color="#c62afe"/><stop offset="0.68" stop-color="#e311fc"/><stop offset="0.7" stop-color="#e500ec"/><stop offset="0.72" stop-color="#b900c5"/><stop offset="0.78" stop-color="#8b009c"/><stop offset="0.82" stop-color="#6a007b"/><stop offset="0.91" stop-color="#580069"/><stop offset="1" stop-color="#470057"/></linearGradient>
<linearGradient id="g94" gradientUnits="userSpaceOnUse" x1="266.2" x2="345.8" y1="0" y2="0"><stop offset="0" stop-color="#000000"/><stop offset="0.04" stop-color="#1c0024"/><stop offset="0.08" stop-color="#3a004a"/><stop offset="0.16" stop-color="#840096"/><stop offset="0.25" stop-color="#f500fa"/><stop offset="0.31" stop-color="#be32ff"/><stop offset="0.37" stop-color="#5a3cff"/><stop offset="0.4" stop-color="#145aff"/><stop offset="0.45" stop-color="#00a0ff"/><stop offset="0.49" stop-color="#00faff"/><stop offset="0.56" stop-color="#00ff8c"/><stop offset="0.65" stop-color="#00ff1e"/><stop offset="0.78" stop-color="#64ff00"/><stop offset="0.84" stop-color="#beff00"/><stop offset="0.88" stop-color="#ffe100"/><stop offset="0.91" stop-color="#ff4600"/><stop offset="0.95" stop-color="#ff0000"/><stop offset="0.98" stop-color="#ffc8c8"/><stop offset="1" stop-color="#ffffff"/></linearGradient>
</defs>
<rect width="520" height="614" fill="#fff"/>
<svg x="40" y="26" width="307.3" height="91.6" viewBox="0 0 307.3 91.6" preserveAspectRatio="none"><rect x="-5" y="-5" width="317.3" height="101.6" fill="#1d0024"/><g id="h13"><g filter="url(#bl)"><polygon fill="url(#g1)" fill-opacity="0.36" points="0,35.63 38.41,35.4 76.83,35.17 115.24,33.76 153.65,33.62 192.06,33.49 230.47,33.35 268.89,33.21 307.3,33.07 307.3,38.92 268.89,38.83 230.47,38.73 192.06,38.63 153.65,38.54 115.24,38.44 76.83,38.03 38.41,38 0,37.97"/><polygon fill="url(#g1)" fill-opacity="0.5" points="0,35.9 38.41,35.7 76.83,35.5 115.24,34.3 153.65,34.19 192.06,34.08 230.47,33.97 268.89,33.86 307.3,33.75 307.3,38.25 268.89,38.18 230.47,38.11 192.06,38.04 153.65,37.97 115.24,37.9 76.83,37.7 38.41,37.7 0,37.7"/><polygon fill="url(#g1)" points="0,36.19 38.41,36.02 76.83,35.85 115.24,34.88 153.65,34.79 192.06,34.71 230.47,34.63 268.89,34.55 307.3,34.47 307.3,37.53 268.89,37.49 230.47,37.45 192.06,37.41 153.65,37.37 115.24,37.32 76.83,37.35 38.41,37.38 0,37.41"/><polygon fill="url(#g2)" fill-opacity="0.36" points="0,32.35 38.41,30.61 76.83,28.87 115.24,27.41 153.65,25.96 192.06,24.61 230.47,23.27 268.89,21.88 307.3,20.49 307.3,30.11 268.89,30.72 230.47,31.33 192.06,32.28 153.65,33.24 115.24,35.09 76.83,36.93 38.41,36.59 0,36.25"/><polygon fill="url(#g2)" fill-opacity="0.5" points="0,32.8 38.41,31.3 76.83,29.8 115.24,28.3 153.65,26.8 192.06,25.5 230.47,24.2 268.89,22.9 307.3,21.6 307.3,29 268.89,29.7 230.47,30.4 192.06,31.4 153.65,32.4 115.24,34.2 76.83,36 38.41,35.9 0,35.8"/><polygon fill="url(#g2)" points="0,33.28 38.41,32.04 76.83,30.79 115.24,29.24 153.65,27.7 192.06,26.44 230.47,25.19 268.89,23.99 307.3,22.78 307.3,27.82 268.89,28.61 230.47,29.41 192.06,30.46 153.65,31.5 115.24,33.26 76.83,35.01 38.41,35.16 0,35.32"/><polygon fill="url(#g3)" fill-opacity="0.36" points="0,28.17 38.41,25.9 76.83,23.54 115.24,21.06 153.65,18.47 192.06,15.98 230.47,13.43 268.89,10.81 307.3,8.12 307.3,18.74 268.89,20.39 230.47,22.02 192.06,23.62 153.65,25.19 115.24,26.57 76.83,27.98 38.41,29.4 0,30.83"/><polygon fill="url(#g3)" fill-opacity="0.5" points="0,28.47 38.41,26.31 76.83,24.05 115.24,21.7 153.65,19.25 192.06,16.86 230.47,14.42 268.89,11.91 307.3,9.35 307.3,17.51 268.89,19.29 230.47,21.03 192.06,22.73 153.65,24.41 115.24,25.94 76.83,27.47 38.41,29 0,30.52"/><polygon fill="url(#g3)" points="0,28.8 38.41,26.74 76.83,24.6 115.24,22.37 153.65,20.08 192.06,17.8 230.47,15.48 268.89,13.09 307.3,10.65 307.3,16.21 268.89,18.11 230.47,19.97 192.06,21.8 153.65,23.59 115.24,25.26 76.83,26.92 38.41,28.57 0,30.2"/><polygon fill="url(#g4)" fill-opacity="0.36" points="0,24.13 38.41,20.98 76.83,17.7 115.24,14.29 153.65,10.75 192.06,7.28 230.47,3.72 268.89,0.07 307.3,-3.66 307.3,6.44 268.89,9.19 230.47,11.89 192.06,14.54 153.65,17.14 115.24,19.53 76.83,21.92 38.41,24.3 0,26.67"/><polygon fill="url(#g4)" fill-opacity="0.5" points="0,24.42 38.41,21.36 76.83,18.18 115.24,14.89 153.65,11.49 192.06,8.12 230.47,4.66 268.89,1.13 307.3,-2.49 307.3,5.28 268.89,8.14 230.47,10.95 192.06,13.7 153.65,16.4 115.24,18.93 76.83,21.43 38.41,23.92 0,26.38"/><polygon fill="url(#g4)" points="0,24.74 38.41,21.77 76.83,18.7 115.24,15.54 153.65,12.27 192.06,9.01 230.47,5.67 268.89,2.25 307.3,-1.25 307.3,4.03 268.89,7.02 230.47,9.94 192.06,12.81 153.65,15.61 115.24,18.28 76.83,20.91 38.41,23.51 0,26.06"/><polygon fill="url(#g5)" fill-opacity="0.36" points="0,20.58 38.41,16.64 76.83,12.57 115.24,8.36 153.65,4 192.06,-0.33 230.47,-4.76 268.89,-9.3 307.3,-13.94 307.3,-5 268.89,-1.23 230.47,2.47 192.06,6.09 153.65,9.65 115.24,12.99 76.83,16.31 38.41,19.58 0,22.82"/><polygon fill="url(#g5)" fill-opacity="0.5" points="0,20.84 38.41,16.98 76.83,13 115.24,8.89 153.65,4.65 192.06,0.41 230.47,-3.93 268.89,-8.37 307.3,-12.91 307.3,-6.03 268.89,-2.16 230.47,1.63 192.06,5.35 153.65,9 115.24,12.46 76.83,15.88 38.41,19.24 0,22.56"/><polygon fill="url(#g5)" points="0,21.11 38.41,17.34 76.83,13.46 115.24,9.46 153.65,5.35 192.06,1.2 230.47,-3.04 268.89,-7.37 307.3,-11.81 307.3,-7.13 268.89,-3.15 230.47,0.74 192.06,4.56 153.65,8.3 115.24,11.89 76.83,15.42 38.41,18.88 0,22.29"/><polygon fill="url(#g6)" fill-opacity="0.36" points="0,17.51 38.41,12.9 76.83,8.14 115.24,3.23 153.65,-1.83 192.06,-6.9 230.47,-12.08 268.89,-17.39 307.3,-22.81 307.3,-14.92 268.89,-10.26 230.47,-5.69 192.06,-1.22 153.65,3.16 115.24,7.33 76.83,11.45 38.41,15.5 0,19.49"/><polygon fill="url(#g6)" fill-opacity="0.5" points="0,17.74 38.41,13.2 76.83,8.52 115.24,3.71 153.65,-1.25 192.06,-6.24 230.47,-11.34 268.89,-16.56 307.3,-21.9 307.3,-15.83 268.89,-11.08 230.47,-6.43 192.06,-1.87 153.65,2.59 115.24,6.86 76.83,11.07 38.41,15.2 0,19.26"/><polygon fill="url(#g6)" points="0,17.98 38.41,13.52 76.83,8.93 115.24,4.21 153.65,-0.64 192.06,-5.54 230.47,-10.56 268.89,-15.69 307.3,-20.93 307.3,-16.8 268.89,-11.96 230.47,-7.22 192.06,-2.57 153.65,1.97 115.24,6.36 76.83,10.66 38.41,14.88 0,19.02"/><polygon fill="url(#g7)" fill-opacity="0.36" points="0,14.67 38.41,9.44 76.83,4.04 115.24,-1.52 153.65,-7.25 192.06,-13 230.47,-18.89 268.89,-24.91 307.3,-31.07 307.3,-23.69 268.89,-18.25 230.47,-12.92 192.06,-7.69 153.65,-2.58 115.24,2.31 76.83,7.13 38.41,11.87 0,16.53"/><polygon fill="url(#g7)" fill-opacity="0.5" points="0,14.89 38.41,9.72 76.83,4.4 115.24,-1.08 153.65,-6.71 192.06,-12.39 230.47,-18.2 268.89,-24.14 307.3,-30.22 307.3,-24.54 268.89,-19.02 230.47,-13.61 192.06,-8.31 153.65,-3.12 115.24,1.87 76.83,6.78 38.41,11.59 0,16.31"/><polygon fill="url(#g7)" points="0,15.12 38.41,10.02 76.83,4.78 115.24,-0.6 153.65,-6.13 192.06,-11.73 230.47,-17.46 268.89,-23.32 307.3,-29.31 307.3,-25.45 268.89,-19.84 230.47,-14.34 192.06,-8.96 153.65,-3.69 115.24,1.4 76.83,6.4 38.41,11.29 0,16.08"/><polygon fill="url(#g8)" fill-opacity="0.36" points="0,11.89 38.41,6.04 76.83,0.01 115.24,-6.2 153.65,-12.59 192.06,-19.02 230.47,-25.61 268.89,-32.34 307.3,-39.22 307.3,-31.98 268.89,-25.8 230.47,-19.74 192.06,-13.81 153.65,-8.01 115.24,-2.44 76.83,3.04 38.41,8.42 0,13.71"/><polygon fill="url(#g8)" fill-opacity="0.5" points="0,12.1 38.41,6.31 76.83,0.36 115.24,-5.77 153.65,-12.06 192.06,-18.42 230.47,-24.93 268.89,-31.59 307.3,-38.39 307.3,-32.81 268.89,-26.55 230.47,-20.42 192.06,-14.41 153.65,-8.54 115.24,-2.87 76.83,2.69 38.41,8.15 0,13.5"/><polygon fill="url(#g8)" points="0,12.32 38.41,6.61 76.83,0.73 115.24,-5.3 153.65,-11.5 192.06,-17.78 230.47,-24.21 268.89,-30.78 307.3,-37.5 307.3,-33.7 268.89,-27.36 230.47,-21.14 192.06,-15.06 153.65,-9.1 115.24,-3.33 76.83,2.32 38.41,7.86 0,13.28"/><polygon fill="url(#g9)" fill-opacity="0.36" points="0,9.11 38.41,2.64 76.83,-4.03 115.24,-10.88 153.65,-17.94 192.06,-25.05 230.47,-32.33 268.89,-39.77 307.3,-47.38 307.3,-40.26 268.89,-33.34 230.47,-26.57 192.06,-19.93 153.65,-13.44 115.24,-7.19 76.83,-1.05 38.41,4.98 0,10.89"/><polygon fill="url(#g9)" fill-opacity="0.5" points="0,9.31 38.41,2.91 76.83,-3.68 115.24,-10.46 153.65,-17.42 192.06,-24.46 230.47,-31.66 268.89,-39.03 307.3,-46.56 307.3,-41.08 268.89,-34.09 230.47,-27.23 192.06,-20.52 153.65,-13.96 115.24,-7.61 76.83,-1.39 38.41,4.71 0,10.69"/><polygon fill="url(#g9)" points="0,9.53 38.41,3.19 76.83,-3.32 115.24,-10 153.65,-16.86 192.06,-23.83 230.47,-30.95 268.89,-38.24 307.3,-45.68 307.3,-41.96 268.89,-34.88 230.47,-27.94 192.06,-21.15 153.65,-14.51 115.24,-8.07 76.83,-1.76 38.41,4.42 0,10.47"/><polygon fill="url(#g10)" fill-opacity="0.36" points="0,6.42 38.41,-0.64 76.83,-7.92 115.24,-15.4 153.65,-23.09 192.06,-30.86 230.47,-38.81 268.89,-46.94 307.3,-55.24 307.3,-48.25 268.89,-40.62 230.47,-33.15 192.06,-25.83 153.65,-18.67 115.24,-11.77 76.83,-4.99 38.41,1.66 0,8.18"/><polygon fill="url(#g10)" fill-opacity="0.5" points="0,6.62 38.41,-0.38 76.83,-7.58 115.24,-14.98 153.65,-22.58 192.06,-30.28 230.47,-38.16 268.89,-46.21 307.3,-54.44 307.3,-49.06 268.89,-41.35 230.47,-33.8 192.06,-26.41 153.65,-19.18 115.24,-12.19 76.83,-5.33 38.41,1.39 0,7.97"/><polygon fill="url(#g10)" points="0,6.84 38.41,-0.1 76.83,-7.22 115.24,-14.53 153.65,-22.04 192.06,-29.66 230.47,-37.46 268.89,-45.43 307.3,-53.58 307.3,-49.92 268.89,-42.13 230.47,-34.5 192.06,-27.03 153.65,-19.73 115.24,-12.64 76.83,-5.69 38.41,1.11 0,7.76"/><polygon fill="url(#g11)" fill-opacity="0.36" points="0,3.72 38.41,-3.95 76.83,-11.84 115.24,-19.95 153.65,-28.29 192.06,-36.72 230.47,-45.34 268.89,-54.16 307.3,-63.17 307.3,-56.18 268.89,-47.85 230.47,-39.68 192.06,-31.69 153.65,-23.87 115.24,-16.32 76.83,-8.91 38.41,-1.64 0,5.48"/><polygon fill="url(#g11)" fill-opacity="0.5" points="0,3.92 38.41,-3.68 76.83,-11.5 115.24,-19.53 153.65,-27.78 192.06,-36.14 230.47,-44.69 268.89,-53.43 307.3,-62.36 307.3,-56.99 268.89,-48.57 230.47,-40.34 192.06,-32.27 153.65,-24.38 115.24,-16.74 76.83,-9.25 38.41,-1.91 0,5.27"/><polygon fill="url(#g11)" points="0,4.14 38.41,-3.4 76.83,-11.14 115.24,-19.08 153.65,-27.23 192.06,-35.52 230.47,-43.99 268.89,-52.65 307.3,-61.5 307.3,-57.85 268.89,-49.35 230.47,-41.03 192.06,-32.89 153.65,-24.92 115.24,-17.18 76.83,-9.61 38.41,-2.19 0,5.06"/><polygon fill="url(#g12)" fill-opacity="0.36" points="0,1.02 38.41,-7.25 76.83,-15.75 115.24,-24.5 153.65,-33.48 192.06,-42.57 230.47,-51.87 268.89,-61.38 307.3,-71.1 307.3,-64.11 268.89,-55.07 230.47,-46.21 192.06,-37.54 153.65,-29.06 115.24,-20.87 76.83,-12.83 38.41,-4.95 0,2.78"/><polygon fill="url(#g12)" fill-opacity="0.5" points="0,1.23 38.41,-6.98 76.83,-15.42 115.24,-24.08 153.65,-32.97 192.06,-41.99 230.47,-51.22 268.89,-60.65 307.3,-70.29 307.3,-64.91 268.89,-55.8 230.47,-46.87 192.06,-38.12 153.65,-29.57 115.24,-21.29 76.83,-13.17 38.41,-5.21 0,2.57"/><polygon fill="url(#g12)" points="0,1.44 38.41,-6.7 76.83,-15.06 115.24,-23.63 153.65,-32.43 192.06,-41.37 230.47,-50.52 268.89,-59.87 307.3,-69.43 307.3,-65.77 268.89,-56.57 230.47,-47.56 192.06,-38.74 153.65,-30.12 115.24,-21.73 76.83,-13.53 38.41,-5.49 0,2.36"/></g></g><use href="#h13" transform="translate(0 91.6) scale(1 -1)"/><g filter="url(#bc)" style="mix-blend-mode:lighten"><polygon fill="url(#g14)" points="0,35.34 61.46,35.16 99.87,33.44 169.02,33.44 230.47,34.47 307.3,34.47 307.3,45.33 230.47,45.33 169.02,46.36 99.87,46.36 61.46,44.64 0,44.46"/><polygon fill="url(#g15)" points="0,36.26 61.46,36.13 99.87,34.8 169.02,34.8 230.47,35.6 307.3,35.6 307.3,44.2 230.47,44.2 169.02,45 99.87,45 61.46,43.67 0,43.54"/><polygon fill="url(#g16)" points="0,36.77 61.46,36.66 99.87,35.56 169.02,35.56 230.47,36.22 307.3,36.22 307.3,43.58 230.47,43.58 169.02,44.24 99.87,44.24 61.46,43.14 0,43.03"/><polygon fill="url(#g17)" points="0,37.2 61.46,37.11 99.87,36.2 169.02,36.2 230.47,36.75 307.3,36.75 307.3,43.05 230.47,43.05 169.02,43.6 99.87,43.6 61.46,42.69 0,42.6"/><polygon fill="url(#g18)" points="0,37.57 61.46,37.49 99.87,36.74 169.02,36.74 230.47,37.19 307.3,37.19 307.3,42.61 230.47,42.61 169.02,43.06 99.87,43.06 61.46,42.31 0,42.23"/><polygon fill="url(#g19)" points="0,37.95 61.46,37.9 99.87,37.31 169.02,37.31 230.47,37.66 307.3,37.66 307.3,42.14 230.47,42.14 169.02,42.49 99.87,42.49 61.46,41.9 0,41.85"/><polygon fill="url(#g20)" points="0,38.36 61.46,38.32 99.87,37.91 169.02,37.91 230.47,38.15 307.3,38.15 307.3,41.65 230.47,41.65 169.02,41.89 99.87,41.89 61.46,41.48 0,41.44"/><polygon fill="url(#g21)" points="0,38.72 61.46,38.7 99.87,38.44 169.02,38.44 230.47,38.59 307.3,38.59 307.3,41.21 230.47,41.21 169.02,41.36 99.87,41.36 61.46,41.1 0,41.08"/><polygon fill="url(#g22)" points="0,39.3 61.46,39.3 99.87,39.3 169.02,39.3 230.47,39.3 307.3,39.3 307.3,40.5 230.47,40.5 169.02,40.5 99.87,40.5 61.46,40.5 0,40.5"/><polygon fill="url(#g23)" points="0,47.14 61.46,46.96 99.87,45.24 169.02,45.24 230.47,46.27 307.3,46.27 307.3,57.13 230.47,57.13 169.02,58.16 99.87,58.16 61.46,56.44 0,56.26"/><polygon fill="url(#g24)" points="0,48.06 61.46,47.93 99.87,46.6 169.02,46.6 230.47,47.4 307.3,47.4 307.3,56 230.47,56 169.02,56.8 99.87,56.8 61.46,55.47 0,55.34"/><polygon fill="url(#g25)" points="0,48.57 61.46,48.46 99.87,47.36 169.02,47.36 230.47,48.02 307.3,48.02 307.3,55.38 230.47,55.38 169.02,56.04 99.87,56.04 61.46,54.94 0,54.83"/><polygon fill="url(#g26)" points="0,49 61.46,48.91 99.87,48 169.02,48 230.47,48.55 307.3,48.55 307.3,54.85 230.47,54.85 169.02,55.4 99.87,55.4 61.46,54.49 0,54.4"/><polygon fill="url(#g27)" points="0,49.37 61.46,49.29 99.87,48.54 169.02,48.54 230.47,48.99 307.3,48.99 307.3,54.41 230.47,54.41 169.02,54.86 99.87,54.86 61.46,54.11 0,54.03"/><polygon fill="url(#g28)" points="0,49.75 61.46,49.7 99.87,49.11 169.02,49.11 230.47,49.46 307.3,49.46 307.3,53.94 230.47,53.94 169.02,54.29 99.87,54.29 61.46,53.7 0,53.65"/><polygon fill="url(#g29)" points="0,50.16 61.46,50.12 99.87,49.71 169.02,49.71 230.47,49.95 307.3,49.95 307.3,53.45 230.47,53.45 169.02,53.69 99.87,53.69 61.46,53.28 0,53.24"/><polygon fill="url(#g30)" points="0,50.52 61.46,50.5 99.87,50.24 169.02,50.24 230.47,50.39 307.3,50.39 307.3,53.01 230.47,53.01 169.02,53.16 99.87,53.16 61.46,52.9 0,52.88"/><polygon fill="url(#g31)" points="0,51.1 61.46,51.1 99.87,51.1 169.02,51.1 230.47,51.1 307.3,51.1 307.3,52.3 230.47,52.3 169.02,52.3 99.87,52.3 61.46,52.3 0,52.3"/></g><line x1="0" x2="69.14" y1="39.9" y2="39.9" stroke="#fff" stroke-opacity=".18" stroke-width=".7" stroke-dasharray="1 1.2"/><line x1="69.14" x2="307.3" y1="39.9" y2="39.9" stroke="#fff" stroke-opacity=".5" stroke-width=".7" stroke-dasharray="1 1.2"/><line x1="0" x2="69.14" y1="51.7" y2="51.7" stroke="#fff" stroke-opacity=".18" stroke-width=".7" stroke-dasharray="1 1.2"/><line x1="69.14" x2="307.3" y1="51.7" y2="51.7" stroke="#fff" stroke-opacity=".5" stroke-width=".7" stroke-dasharray="1 1.2"/></svg>
<text x="36.2" y="47.17" font-size="12.3" text-anchor="end" fill="#222">0.5</text>
<text x="36.2" y="75.8" font-size="12.3" text-anchor="end" fill="#222">0</text>
<text x="36.2" y="104.42" font-size="12.3" text-anchor="end" fill="#222">-0.5</text>
<text transform="translate(12.5 71.8) rotate(-90)" font-size="13" text-anchor="middle" fill="#222"><tspan font-style="italic">x</tspan> (mm)</text>
<text x="43" y="133.2" font-size="12.3" text-anchor="middle" fill="#222">0</text>
<text x="80.5" y="133.2" font-size="12.3" text-anchor="middle" fill="#222">5</text>
<text x="118" y="133.2" font-size="12.3" text-anchor="middle" fill="#222">10</text>
<text x="155.5" y="133.2" font-size="12.3" text-anchor="middle" fill="#222">15</text>
<text x="193" y="133.2" font-size="12.3" text-anchor="middle" fill="#222">20</text>
<text x="230.5" y="133.2" font-size="12.3" text-anchor="middle" fill="#222">25</text>
<text x="268" y="133.2" font-size="12.3" text-anchor="middle" fill="#222">30</text>
<text x="305.5" y="133.2" font-size="12.3" text-anchor="middle" fill="#222">35</text>
<text x="343" y="133.2" font-size="12.3" text-anchor="middle" fill="#222">40</text>
<text x="193.7" y="148.8" font-size="13.4" text-anchor="middle" fill="#222"><tspan font-style="italic">z</tspan> (cm)</text>
<text x="44" y="40" font-size="12" text-anchor="start" fill="#fff" class="w">(a)</text>
<text x="181.2" y="40.5" font-size="12" text-anchor="start" fill="#fff" class="w"><tspan font-style="italic">l</tspan><tspan fill="#c9b0cc" stroke="none"> = </tspan>2</text>
<text class="w" x="280.5" y="40.5" font-size="12" fill="#fff"><tspan font-style="italic">ω</tspan><tspan font-style="italic" font-weight="bold" font-size="9.5" dy="2.6">in</tspan><tspan dy="-2.6" fill="#c9b0cc" stroke="none"> = </tspan>4 mm</text>
<svg x="40" y="162" width="307.3" height="91.2" viewBox="0 0 307.3 91.2" preserveAspectRatio="none"><rect x="-5" y="-5" width="317.3" height="101.2" fill="#1d0024"/><g id="h44"><g filter="url(#bl)"><polygon fill="url(#g32)" fill-opacity="0.36" points="0,31.18 38.41,30.27 76.83,29.37 115.24,29.29 153.65,29.22 192.06,29.46 230.47,29.7 268.89,29.85 307.3,30.01 307.3,38.59 268.89,38.04 230.47,37.5 192.06,36.74 153.65,35.98 115.24,35.4 76.83,34.83 38.41,34.82 0,34.82"/><polygon fill="url(#g32)" fill-opacity="0.5" points="0,31.6 38.41,30.8 76.83,30 115.24,30 153.65,30 192.06,30.3 230.47,30.6 268.89,30.8 307.3,31 307.3,37.6 268.89,37.1 230.47,36.6 192.06,35.9 153.65,35.2 115.24,34.7 76.83,34.2 38.41,34.3 0,34.4"/><polygon fill="url(#g32)" points="0,32.05 38.41,31.36 76.83,30.67 115.24,30.75 153.65,30.83 192.06,31.2 230.47,31.56 268.89,31.81 307.3,32.06 307.3,36.54 268.89,36.09 230.47,35.64 192.06,35 153.65,34.37 115.24,33.95 76.83,33.53 38.41,33.74 0,33.95"/><polygon fill="url(#g33)" fill-opacity="0.36" points="0,27.36 38.41,26.31 76.83,25.19 115.24,23.99 153.65,22.72 192.06,21.5 230.47,20.25 268.89,18.94 307.3,17.59 307.3,25.02 268.89,25.62 230.47,26.21 192.06,26.78 153.65,27.35 115.24,27.79 76.83,28.26 38.41,28.74 0,29.24"/><polygon fill="url(#g33)" fill-opacity="0.5" points="0,27.57 38.41,26.59 76.83,25.54 115.24,24.43 153.65,23.25 192.06,22.11 230.47,20.93 268.89,19.71 307.3,18.45 307.3,24.17 268.89,24.85 230.47,25.52 192.06,26.17 153.65,26.81 115.24,27.35 76.83,27.9 38.41,28.46 0,29.02"/><polygon fill="url(#g33)" points="0,27.81 38.41,26.89 76.83,25.92 115.24,24.9 153.65,23.82 192.06,22.76 230.47,21.67 268.89,20.54 307.3,19.36 307.3,23.25 268.89,24.03 230.47,24.79 192.06,25.52 153.65,26.24 115.24,26.89 76.83,27.53 38.41,28.16 0,28.79"/><polygon fill="url(#g34)" fill-opacity="0.36" points="0,24.47 38.41,22.84 76.83,21.11 115.24,19.29 153.65,17.36 192.06,15.48 230.47,13.53 268.89,11.51 307.3,9.42 307.3,16.72 268.89,18.07 230.47,19.38 192.06,20.67 153.65,21.91 115.24,23.02 76.83,24.13 38.41,25.23 0,26.33"/><polygon fill="url(#g34)" fill-opacity="0.5" points="0,24.69 38.41,23.11 76.83,21.46 115.24,19.72 153.65,17.89 192.06,16.08 230.47,14.2 268.89,12.26 307.3,10.26 307.3,15.88 268.89,17.31 230.47,18.71 192.06,20.07 153.65,21.39 115.24,22.59 76.83,23.78 38.41,24.96 0,26.11"/><polygon fill="url(#g34)" points="0,24.92 38.41,23.41 76.83,21.83 115.24,20.18 153.65,18.45 192.06,16.72 230.47,14.92 268.89,13.07 307.3,11.16 307.3,14.98 268.89,16.51 230.47,17.99 192.06,19.43 153.65,20.83 115.24,22.13 76.83,23.41 38.41,24.66 0,25.88"/><polygon fill="url(#g35)" fill-opacity="0.36" points="0,21.72 38.41,19.53 76.83,17.23 115.24,14.81 153.65,12.27 192.06,9.75 230.47,7.14 268.89,4.45 307.3,1.66 307.3,8.58 268.89,10.66 230.47,12.69 192.06,14.67 153.65,16.59 115.24,18.35 76.83,20.09 38.41,21.8 0,23.48"/><polygon fill="url(#g35)" fill-opacity="0.5" points="0,21.92 38.41,19.79 76.83,17.56 115.24,15.22 153.65,12.77 192.06,10.32 230.47,7.78 268.89,5.16 307.3,2.46 307.3,7.78 268.89,9.95 230.47,12.05 192.06,14.1 153.65,16.09 115.24,17.94 76.83,19.76 38.41,21.54 0,23.27"/><polygon fill="url(#g35)" points="0,22.14 38.41,20.07 76.83,17.91 115.24,15.65 153.65,13.3 192.06,10.92 230.47,8.47 268.89,5.93 307.3,3.31 307.3,6.93 268.89,9.18 230.47,11.37 192.06,13.49 153.65,15.56 115.24,17.51 76.83,19.41 38.41,21.26 0,23.06"/><polygon fill="url(#g36)" fill-opacity="0.36" points="0,19.15 38.41,16.44 76.83,13.6 115.24,10.63 153.65,7.52 192.06,4.4 230.47,1.17 268.89,-2.16 307.3,-5.6 307.3,1.07 268.89,3.83 230.47,6.52 192.06,9.13 153.65,11.67 115.24,14.04 76.83,16.36 38.41,18.63 0,20.84"/><polygon fill="url(#g36)" fill-opacity="0.5" points="0,19.35 38.41,16.69 76.83,13.92 115.24,11.02 153.65,8 192.06,4.95 230.47,1.79 268.89,-1.47 307.3,-4.83 307.3,0.3 268.89,3.14 230.47,5.9 192.06,8.59 153.65,11.19 115.24,13.64 76.83,16.04 38.41,18.37 0,20.65"/><polygon fill="url(#g36)" points="0,19.56 38.41,16.96 76.83,14.26 115.24,11.44 153.65,8.51 192.06,5.53 230.47,2.45 268.89,-0.73 307.3,-4.01 307.3,-0.52 268.89,2.4 230.47,5.24 192.06,8 153.65,10.68 115.24,13.22 76.83,15.7 38.41,18.11 0,20.44"/><polygon fill="url(#g37)" fill-opacity="0.36" points="0,16.57 38.41,13.33 76.83,9.95 115.24,6.41 153.65,2.72 192.06,-1 230.47,-4.84 268.89,-8.82 307.3,-12.92 307.3,-6.38 268.89,-2.95 230.47,0.4 192.06,3.64 153.65,6.79 115.24,9.76 76.83,12.65 38.41,15.48 0,18.23"/><polygon fill="url(#g37)" fill-opacity="0.5" points="0,16.76 38.41,13.58 76.83,10.26 115.24,6.8 153.65,3.19 192.06,-0.46 230.47,-4.24 268.89,-8.14 307.3,-12.16 307.3,-7.13 268.89,-3.62 230.47,-0.21 192.06,3.11 153.65,6.32 115.24,9.37 76.83,12.34 38.41,15.23 0,18.04"/><polygon fill="url(#g37)" points="0,16.97 38.41,13.84 76.83,10.59 115.24,7.21 153.65,3.69 192.06,0.11 230.47,-3.6 268.89,-7.42 307.3,-11.36 307.3,-7.94 268.89,-4.35 230.47,-0.85 192.06,2.54 153.65,5.82 115.24,8.96 76.83,12.01 38.41,14.96 0,17.83"/><polygon fill="url(#g38)" fill-opacity="0.36" points="0,14.12 38.41,10.39 76.83,6.49 115.24,2.43 153.65,-1.81 192.06,-6.1 230.47,-10.53 268.89,-15.1 307.3,-19.82 307.3,-13.67 268.89,-9.58 230.47,-5.6 192.06,-1.73 153.65,2.02 115.24,5.57 76.83,9.03 38.41,12.4 0,15.68"/><polygon fill="url(#g38)" fill-opacity="0.5" points="0,14.3 38.41,10.62 76.83,6.78 115.24,2.79 153.65,-1.37 192.06,-5.59 230.47,-9.96 268.89,-14.47 307.3,-19.11 307.3,-14.38 268.89,-10.22 230.47,-6.17 192.06,-2.23 153.65,1.58 115.24,5.21 76.83,8.74 38.41,12.17 0,15.5"/><polygon fill="url(#g38)" points="0,14.49 38.41,10.87 76.83,7.1 115.24,3.18 153.65,-0.89 192.06,-5.05 230.47,-9.35 268.89,-13.79 307.3,-18.36 307.3,-15.14 268.89,-10.9 230.47,-6.77 192.06,-2.77 153.65,1.11 115.24,4.82 76.83,8.43 38.41,11.92 0,15.31"/><polygon fill="url(#g39)" fill-opacity="0.36" points="0,11.8 38.41,7.6 76.83,3.21 115.24,-1.36 153.65,-6.13 192.06,-10.96 230.47,-15.95 268.89,-21.1 307.3,-26.42 307.3,-20.14 268.89,-15.46 230.47,-10.92 192.06,-6.5 153.65,-2.21 115.24,1.85 76.83,5.81 38.41,9.66 0,13.4"/><polygon fill="url(#g39)" fill-opacity="0.5" points="0,11.99 38.41,7.84 76.83,3.51 115.24,-0.99 153.65,-5.68 192.06,-10.44 230.47,-15.37 268.89,-20.45 307.3,-25.69 307.3,-20.87 268.89,-16.11 230.47,-11.5 192.06,-7.01 153.65,-2.66 115.24,1.48 76.83,5.51 38.41,9.42 0,13.21"/><polygon fill="url(#g39)" points="0,12.18 38.41,8.09 76.83,3.83 115.24,-0.6 153.65,-5.19 192.06,-9.89 230.47,-14.75 268.89,-19.76 307.3,-24.92 307.3,-21.64 268.89,-16.81 230.47,-12.12 192.06,-7.56 153.65,-3.15 115.24,1.08 76.83,5.19 38.41,9.17 0,13.02"/><polygon fill="url(#g40)" fill-opacity="0.36" points="0,9.15 38.41,4.41 76.83,-0.55 115.24,-5.71 153.65,-11.08 192.06,-16.54 230.47,-22.18 268.89,-27.99 307.3,-34 307.3,-27.33 268.89,-22.01 230.47,-16.83 192.06,-11.81 153.65,-6.93 115.24,-2.3 76.83,2.21 38.41,6.59 0,10.84"/><polygon fill="url(#g40)" fill-opacity="0.5" points="0,9.35 38.41,4.66 76.83,-0.23 115.24,-5.32 153.65,-10.6 192.06,-15.99 230.47,-21.56 268.89,-27.3 307.3,-33.23 307.3,-28.1 268.89,-22.7 230.47,-17.45 192.06,-12.35 153.65,-7.41 115.24,-2.69 76.83,1.89 38.41,6.34 0,10.65"/><polygon fill="url(#g40)" points="0,9.56 38.41,4.93 76.83,0.11 115.24,-4.9 153.65,-10.09 192.06,-15.41 230.47,-20.9 268.89,-26.57 307.3,-32.41 307.3,-28.92 268.89,-23.44 230.47,-18.11 192.06,-12.93 153.65,-7.92 115.24,-3.11 76.83,1.55 38.41,6.07 0,10.44"/><polygon fill="url(#g41)" fill-opacity="0.36" points="0,6.55 38.41,1.28 76.83,-4.23 115.24,-9.96 153.65,-15.92 192.06,-21.98 230.47,-28.25 268.89,-34.71 307.3,-41.38 307.3,-34.72 268.89,-28.73 230.47,-22.9 192.06,-17.25 153.65,-11.77 115.24,-6.55 76.83,-1.47 38.41,3.46 0,8.24"/><polygon fill="url(#g41)" fill-opacity="0.5" points="0,6.75 38.41,1.53 76.83,-3.91 115.24,-9.57 153.65,-15.44 192.06,-21.44 230.47,-27.63 268.89,-34.02 307.3,-40.61 307.3,-35.49 268.89,-29.42 230.47,-23.52 192.06,-17.8 153.65,-12.24 115.24,-6.94 76.83,-1.79 38.41,3.21 0,8.05"/><polygon fill="url(#g41)" points="0,6.96 38.41,1.8 76.83,-3.57 115.24,-9.15 153.65,-14.93 192.06,-20.85 230.47,-26.97 268.89,-33.28 307.3,-39.79 307.3,-36.31 268.89,-30.15 230.47,-24.18 192.06,-18.38 153.65,-12.76 115.24,-7.36 76.83,-2.13 38.41,2.94 0,7.84"/><polygon fill="url(#g42)" fill-opacity="0.36" points="0,3.95 38.41,-1.85 76.83,-7.91 115.24,-14.21 153.65,-20.75 192.06,-27.43 230.47,-34.32 268.89,-41.43 307.3,-48.76 307.3,-42.1 268.89,-35.44 230.47,-28.97 192.06,-22.69 153.65,-16.6 115.24,-10.8 76.83,-5.15 38.41,0.33 0,5.64"/><polygon fill="url(#g42)" fill-opacity="0.5" points="0,4.15 38.41,-1.6 76.83,-7.59 115.24,-13.81 153.65,-20.28 192.06,-26.88 230.47,-33.7 268.89,-40.74 307.3,-47.99 307.3,-42.87 268.89,-36.13 230.47,-29.59 192.06,-23.24 153.65,-17.08 115.24,-11.19 76.83,-5.47 38.41,0.08 0,5.45"/><polygon fill="url(#g42)" points="0,4.36 38.41,-1.33 76.83,-7.25 115.24,-13.39 153.65,-19.76 192.06,-26.3 230.47,-33.04 268.89,-40 307.3,-47.17 307.3,-43.69 268.89,-36.87 230.47,-30.25 192.06,-23.82 153.65,-17.59 115.24,-11.61 76.83,-5.81 38.41,-0.19 0,5.24"/><polygon fill="url(#g43)" fill-opacity="0.36" points="0,1.35 38.41,-4.98 76.83,-11.59 115.24,-18.45 153.65,-25.59 192.06,-32.87 230.47,-40.39 268.89,-48.15 307.3,-56.15 307.3,-49.48 268.89,-42.16 230.47,-35.04 192.06,-28.14 153.65,-21.44 115.24,-15.04 76.83,-8.83 38.41,-2.8 0,3.04"/><polygon fill="url(#g43)" fill-opacity="0.5" points="0,1.55 38.41,-4.73 76.83,-11.27 115.24,-18.06 153.65,-25.11 192.06,-32.32 230.47,-39.77 268.89,-47.46 307.3,-55.38 307.3,-50.25 268.89,-42.85 230.47,-35.66 192.06,-28.68 153.65,-21.92 115.24,-15.44 76.83,-9.15 38.41,-3.05 0,2.85"/><polygon fill="url(#g43)" points="0,1.76 38.41,-4.46 76.83,-10.93 115.24,-17.64 153.65,-24.6 192.06,-31.74 230.47,-39.11 268.89,-46.72 307.3,-54.56 307.3,-51.07 268.89,-43.59 230.47,-36.32 192.06,-29.27 153.65,-22.43 115.24,-15.86 76.83,-9.49 38.41,-3.32 0,2.64"/></g></g><use href="#h44" transform="translate(0 91.2) scale(1 -1)"/><g filter="url(#bc)" style="mix-blend-mode:lighten"><polygon fill="url(#g45)" points="0,34.97 61.46,34.8 99.87,31.69 184.38,31.69 230.47,33.07 307.3,33.07 307.3,43.53 230.47,43.53 184.38,44.91 99.87,44.91 61.46,41.8 0,41.63"/><polygon fill="url(#g46)" points="0,35.65 61.46,35.52 99.87,33.14 184.38,33.14 230.47,34.2 307.3,34.2 307.3,42.4 230.47,42.4 184.38,43.46 99.87,43.46 61.46,41.08 0,40.95"/><polygon fill="url(#g47)" points="0,36.03 61.46,35.92 99.87,33.94 184.38,33.94 230.47,34.82 307.3,34.82 307.3,41.78 230.47,41.78 184.38,42.66 99.87,42.66 61.46,40.68 0,40.57"/><polygon fill="url(#g48)" points="0,36.35 61.46,36.26 99.87,34.62 184.38,34.62 230.47,35.35 307.3,35.35 307.3,41.25 230.47,41.25 184.38,41.98 99.87,41.98 61.46,40.34 0,40.25"/><polygon fill="url(#g49)" points="0,36.62 61.46,36.54 99.87,35.19 184.38,35.19 230.47,35.79 307.3,35.79 307.3,40.81 230.47,40.81 184.38,41.41 99.87,41.41 61.46,40.06 0,39.98"/><polygon fill="url(#g50)" points="0,36.91 61.46,36.85 99.87,35.79 184.38,35.79 230.47,36.26 307.3,36.26 307.3,40.34 230.47,40.34 184.38,40.81 99.87,40.81 61.46,39.75 0,39.69"/><polygon fill="url(#g51)" points="0,37.2 61.46,37.16 99.87,36.42 184.38,36.42 230.47,36.75 307.3,36.75 307.3,39.85 230.47,39.85 184.38,40.18 99.87,40.18 61.46,39.44 0,39.4"/><polygon fill="url(#g52)" points="0,37.47 61.46,37.45 99.87,36.99 184.38,36.99 230.47,37.19 307.3,37.19 307.3,39.41 230.47,39.41 184.38,39.61 99.87,39.61 61.46,39.15 0,39.13"/><polygon fill="url(#g53)" points="0,37.9 61.46,37.9 99.87,37.9 184.38,37.9 230.47,37.9 307.3,37.9 307.3,38.7 230.47,38.7 184.38,38.7 99.87,38.7 61.46,38.7 0,38.7"/><polygon fill="url(#g54)" points="0,49.57 61.46,49.4 99.87,46.29 184.38,46.29 230.47,47.67 307.3,47.67 307.3,58.13 230.47,58.13 184.38,59.51 99.87,59.51 61.46,56.4 0,56.23"/><polygon fill="url(#g55)" points="0,50.25 61.46,50.12 99.87,47.74 184.38,47.74 230.47,48.8 307.3,48.8 307.3,57 230.47,57 184.38,58.06 99.87,58.06 61.46,55.68 0,55.55"/><polygon fill="url(#g56)" points="0,50.63 61.46,50.52 99.87,48.54 184.38,48.54 230.47,49.42 307.3,49.42 307.3,56.38 230.47,56.38 184.38,57.26 99.87,57.26 61.46,55.28 0,55.17"/><polygon fill="url(#g57)" points="0,50.95 61.46,50.86 99.87,49.22 184.38,49.22 230.47,49.95 307.3,49.95 307.3,55.85 230.47,55.85 184.38,56.58 99.87,56.58 61.46,54.94 0,54.85"/><polygon fill="url(#g58)" points="0,51.22 61.46,51.14 99.87,49.79 184.38,49.79 230.47,50.39 307.3,50.39 307.3,55.41 230.47,55.41 184.38,56.01 99.87,56.01 61.46,54.66 0,54.58"/><polygon fill="url(#g59)" points="0,51.51 61.46,51.45 99.87,50.39 184.38,50.39 230.47,50.86 307.3,50.86 307.3,54.94 230.47,54.94 184.38,55.41 99.87,55.41 61.46,54.35 0,54.29"/><polygon fill="url(#g60)" points="0,51.8 61.46,51.76 99.87,51.02 184.38,51.02 230.47,51.35 307.3,51.35 307.3,54.45 230.47,54.45 184.38,54.78 99.87,54.78 61.46,54.04 0,54"/><polygon fill="url(#g61)" points="0,52.07 61.46,52.05 99.87,51.59 184.38,51.59 230.47,51.79 307.3,51.79 307.3,54.01 230.47,54.01 184.38,54.21 99.87,54.21 61.46,53.75 0,53.73"/><polygon fill="url(#g62)" points="0,52.5 61.46,52.5 99.87,52.5 184.38,52.5 230.47,52.5 307.3,52.5 307.3,53.3 230.47,53.3 184.38,53.3 99.87,53.3 61.46,53.3 0,53.3"/></g><line x1="0" x2="92.19" y1="38.2" y2="38.2" stroke="#fff" stroke-opacity=".18" stroke-width=".7" stroke-dasharray="1 1.2"/><line x1="92.19" x2="307.3" y1="38.2" y2="38.2" stroke="#fff" stroke-opacity=".5" stroke-width=".7" stroke-dasharray="1 1.2"/><line x1="0" x2="92.19" y1="53" y2="53" stroke="#fff" stroke-opacity=".18" stroke-width=".7" stroke-dasharray="1 1.2"/><line x1="92.19" x2="307.3" y1="53" y2="53" stroke="#fff" stroke-opacity=".5" stroke-width=".7" stroke-dasharray="1 1.2"/></svg>
<text x="36.2" y="183.1" font-size="12.3" text-anchor="end" fill="#222">0.5</text>
<text x="36.2" y="211.6" font-size="12.3" text-anchor="end" fill="#222">0</text>
<text x="36.2" y="240.1" font-size="12.3" text-anchor="end" fill="#222">-0.5</text>
<text transform="translate(12.5 207.6) rotate(-90)" font-size="13" text-anchor="middle" fill="#222"><tspan font-style="italic">x</tspan> (mm)</text>
<text x="43" y="268.8" font-size="12.3" text-anchor="middle" fill="#222">0</text>
<text x="80.5" y="268.8" font-size="12.3" text-anchor="middle" fill="#222">5</text>
<text x="118" y="268.8" font-size="12.3" text-anchor="middle" fill="#222">10</text>
<text x="155.5" y="268.8" font-size="12.3" text-anchor="middle" fill="#222">15</text>
<text x="193" y="268.8" font-size="12.3" text-anchor="middle" fill="#222">20</text>
<text x="230.5" y="268.8" font-size="12.3" text-anchor="middle" fill="#222">25</text>
<text x="268" y="268.8" font-size="12.3" text-anchor="middle" fill="#222">30</text>
<text x="305.5" y="268.8" font-size="12.3" text-anchor="middle" fill="#222">35</text>
<text x="343" y="268.8" font-size="12.3" text-anchor="middle" fill="#222">40</text>
<text x="193.7" y="284.4" font-size="13.4" text-anchor="middle" fill="#222"><tspan font-style="italic">z</tspan> (cm)</text>
<text x="44" y="176" font-size="12" text-anchor="start" fill="#fff" class="w">(c)</text>
<text x="189" y="176.5" font-size="12" text-anchor="start" fill="#fff" class="w"><tspan font-style="italic">l</tspan><tspan fill="#c9b0cc" stroke="none"> = </tspan>3</text>
<text class="w" x="283" y="176.5" font-size="12" fill="#fff"><tspan font-style="italic">ω</tspan><tspan font-style="italic" font-weight="bold" font-size="9.5" dy="2.6">in</tspan><tspan dy="-2.6" fill="#c9b0cc" stroke="none"> = </tspan>4 mm</text>
<svg x="40" y="295.5" width="307.3" height="90.1" viewBox="0 0 307.3 90.1" preserveAspectRatio="none"><rect x="-5" y="-5" width="317.3" height="100.1" fill="#1d0024"/><g id="h75"><g filter="url(#bl)"><polygon fill="url(#g63)" fill-opacity="0.36" points="0,28.54 38.41,28.18 76.83,27.81 115.24,27.51 153.65,27.21 192.06,27 230.47,26.79 268.89,26.65 307.3,26.5 307.3,35.6 268.89,35.36 230.47,35.11 192.06,34.8 153.65,34.49 115.24,34.14 76.83,33.79 38.41,33.38 0,32.96"/><polygon fill="url(#g63)" fill-opacity="0.5" points="0,29.05 38.41,28.78 76.83,28.5 115.24,28.28 153.65,28.05 192.06,27.9 230.47,27.75 268.89,27.65 307.3,27.55 307.3,34.55 268.89,34.35 230.47,34.15 192.06,33.9 153.65,33.65 115.24,33.38 76.83,33.1 38.41,32.78 0,32.45"/><polygon fill="url(#g63)" points="0,29.59 38.41,29.42 76.83,29.24 115.24,29.09 153.65,28.95 192.06,28.86 230.47,28.77 268.89,28.72 307.3,28.67 307.3,33.43 268.89,33.28 230.47,33.13 192.06,32.94 153.65,32.75 115.24,32.56 76.83,32.36 38.41,32.14 0,31.91"/><polygon fill="url(#g64)" fill-opacity="0.36" points="0,25.14 38.41,24.3 76.83,23.4 115.24,22.44 153.65,21.41 192.06,20.44 230.47,19.43 268.89,18.39 307.3,17.31 307.3,24.49 268.89,24.84 230.47,25.19 192.06,25.54 153.65,25.88 115.24,26.11 76.83,26.37 38.41,26.66 0,26.96"/><polygon fill="url(#g64)" fill-opacity="0.5" points="0,25.35 38.41,24.58 76.83,23.75 115.24,22.86 153.65,21.92 192.06,21.03 230.47,20.1 268.89,19.14 307.3,18.14 307.3,23.66 268.89,24.1 230.47,24.53 192.06,24.95 153.65,25.36 115.24,25.69 76.83,26.03 38.41,26.38 0,26.75"/><polygon fill="url(#g64)" points="0,25.57 38.41,24.86 76.83,24.11 115.24,23.32 153.65,22.47 192.06,21.65 230.47,20.81 268.89,19.93 307.3,19.02 307.3,22.77 268.89,23.3 230.47,23.82 192.06,24.32 153.65,24.81 115.24,25.24 76.83,25.66 38.41,26.09 0,26.53"/><polygon fill="url(#g65)" fill-opacity="0.36" points="0,22.37 38.41,20.98 76.83,19.5 115.24,17.93 153.65,16.28 192.06,14.67 230.47,13 268.89,11.27 307.3,9.49 307.3,16.41 268.89,17.49 230.47,18.55 192.06,19.58 153.65,20.59 115.24,21.47 76.83,22.36 38.41,23.24 0,24.13"/><polygon fill="url(#g65)" fill-opacity="0.5" points="0,22.58 38.41,21.24 76.83,19.83 115.24,18.34 153.65,16.78 192.06,15.24 230.47,13.64 268.89,11.99 307.3,10.28 307.3,15.61 268.89,16.77 230.47,17.91 192.06,19.02 153.65,20.09 115.24,21.06 76.83,22.03 38.41,22.98 0,23.93"/><polygon fill="url(#g65)" points="0,22.79 38.41,21.52 76.83,20.18 115.24,18.77 153.65,17.31 192.06,15.84 230.47,14.32 268.89,12.76 307.3,11.14 307.3,14.76 268.89,16.01 230.47,17.23 192.06,18.41 153.65,19.56 115.24,20.63 76.83,21.67 38.41,22.7 0,23.71"/><polygon fill="url(#g66)" fill-opacity="0.36" points="0,19.81 38.41,17.89 76.83,15.87 115.24,13.75 153.65,11.52 192.06,9.32 230.47,7.03 268.89,4.67 307.3,2.23 307.3,8.89 268.89,10.66 230.47,12.37 192.06,14.05 153.65,15.67 115.24,17.16 76.83,18.62 38.41,20.07 0,21.5"/><polygon fill="url(#g66)" fill-opacity="0.5" points="0,20 38.41,18.14 76.83,16.19 115.24,14.14 153.65,12 192.06,9.86 230.47,7.65 268.89,5.36 307.3,3 307.3,8.12 268.89,9.97 230.47,11.76 192.06,13.5 153.65,15.2 115.24,16.76 76.83,18.31 38.41,19.82 0,21.3"/><polygon fill="url(#g66)" points="0,20.21 38.41,18.41 76.83,16.53 115.24,14.56 153.65,12.51 192.06,10.44 230.47,8.31 268.89,6.1 307.3,3.82 307.3,7.3 268.89,9.23 230.47,11.1 192.06,12.92 153.65,14.68 115.24,16.35 76.83,17.97 38.41,19.55 0,21.09"/><polygon fill="url(#g67)" fill-opacity="0.36" points="0,17.22 38.41,14.78 76.83,12.22 115.24,9.53 153.65,6.73 192.06,3.92 230.47,1.01 268.89,-1.99 307.3,-5.09 307.3,1.45 268.89,3.88 230.47,6.25 192.06,8.56 153.65,10.8 115.24,12.88 76.83,14.92 38.41,16.92 0,18.88"/><polygon fill="url(#g67)" fill-opacity="0.5" points="0,17.41 38.41,15.03 76.83,12.53 115.24,9.92 153.65,7.2 192.06,4.45 230.47,1.62 268.89,-1.31 307.3,-4.34 307.3,0.69 268.89,3.2 230.47,5.65 192.06,8.02 153.65,10.33 115.24,12.49 76.83,14.61 38.41,16.67 0,18.69"/><polygon fill="url(#g67)" points="0,17.62 38.41,15.29 76.83,12.86 115.24,10.33 153.65,7.7 192.06,5.02 230.47,2.26 268.89,-0.59 307.3,-3.53 307.3,-0.11 268.89,2.48 230.47,5 192.06,7.45 153.65,9.83 115.24,12.08 76.83,14.27 38.41,16.41 0,18.48"/><polygon fill="url(#g68)" fill-opacity="0.36" points="0,14.72 38.41,11.77 76.83,8.68 115.24,5.45 153.65,2.08 192.06,-1.32 230.47,-4.83 268.89,-8.45 307.3,-12.19 307.3,-5.65 268.89,-2.58 230.47,0.41 192.06,3.32 153.65,6.15 115.24,8.79 76.83,11.38 38.41,13.91 0,16.38"/><polygon fill="url(#g68)" fill-opacity="0.5" points="0,14.91 38.41,12.02 76.83,8.99 115.24,5.83 153.65,2.55 192.06,-0.78 230.47,-4.22 268.89,-7.77 307.3,-11.44 307.3,-6.41 268.89,-3.26 230.47,-0.19 192.06,2.79 153.65,5.68 115.24,8.41 76.83,11.07 38.41,13.66 0,16.19"/><polygon fill="url(#g68)" points="0,15.12 38.41,12.28 76.83,9.32 115.24,6.25 153.65,3.05 192.06,-0.21 230.47,-3.58 268.89,-7.05 307.3,-10.63 307.3,-7.21 268.89,-3.98 230.47,-0.83 192.06,2.22 153.65,5.18 115.24,8 76.83,10.74 38.41,13.4 0,15.98"/><polygon fill="url(#g69)" fill-opacity="0.36" points="0,12.15 38.41,8.68 76.83,5.05 115.24,1.27 153.65,-2.68 192.06,-6.67 230.47,-10.79 268.89,-15.05 307.3,-19.45 307.3,-13.17 268.89,-9.41 230.47,-5.76 192.06,-2.21 153.65,1.23 115.24,4.48 76.83,7.65 38.41,10.74 0,13.75"/><polygon fill="url(#g69)" fill-opacity="0.5" points="0,12.34 38.41,8.92 76.83,5.35 115.24,1.64 153.65,-2.23 192.06,-6.16 230.47,-10.21 268.89,-14.4 307.3,-18.72 307.3,-13.89 268.89,-10.06 230.47,-6.34 192.06,-2.73 153.65,0.78 115.24,4.11 76.83,7.35 38.41,10.5 0,13.56"/><polygon fill="url(#g69)" points="0,12.53 38.41,9.17 76.83,5.67 115.24,2.03 153.65,-1.75 192.06,-5.61 230.47,-9.59 268.89,-13.71 307.3,-17.95 307.3,-14.66 268.89,-10.76 230.47,-6.96 192.06,-3.27 153.65,0.3 115.24,3.71 76.83,7.03 38.41,10.25 0,13.37"/><polygon fill="url(#g70)" fill-opacity="0.36" points="0,9.85 38.41,5.91 76.83,1.8 115.24,-2.49 153.65,-6.96 192.06,-11.49 230.47,-16.16 268.89,-20.99 307.3,-25.98 307.3,-19.7 268.89,-15.35 230.47,-11.13 192.06,-7.03 153.65,-3.05 115.24,0.72 76.83,4.4 38.41,7.97 0,11.45"/><polygon fill="url(#g70)" fill-opacity="0.5" points="0,10.04 38.41,6.15 76.83,2.1 115.24,-2.12 153.65,-6.51 192.06,-10.97 230.47,-15.58 268.89,-20.34 307.3,-25.25 307.3,-20.42 268.89,-16 230.47,-11.71 192.06,-7.54 153.65,-3.5 115.24,0.35 76.83,4.1 38.41,7.73 0,11.26"/><polygon fill="url(#g70)" points="0,10.23 38.41,6.4 76.83,2.42 115.24,-1.72 153.65,-6.03 192.06,-10.42 230.47,-14.96 268.89,-19.65 307.3,-24.48 307.3,-21.2 268.89,-16.7 230.47,-12.33 192.06,-8.09 153.65,-3.98 115.24,-0.04 76.83,3.78 38.41,7.48 0,11.07"/><polygon fill="url(#g71)" fill-opacity="0.36" points="0,7.21 38.41,2.72 76.83,-1.96 115.24,-6.84 153.65,-11.91 192.06,-17.07 230.47,-22.39 268.89,-27.89 307.3,-33.55 307.3,-26.89 268.89,-21.9 230.47,-17.05 192.06,-12.33 153.65,-7.76 115.24,-3.43 76.83,0.8 38.41,4.9 0,8.9"/><polygon fill="url(#g71)" fill-opacity="0.5" points="0,7.4 38.41,2.97 76.83,-1.64 115.24,-6.44 153.65,-11.44 192.06,-16.52 230.47,-21.77 268.89,-27.19 307.3,-32.78 307.3,-27.66 268.89,-22.59 230.47,-17.66 192.06,-12.88 153.65,-8.24 115.24,-3.82 76.83,0.48 38.41,4.65 0,8.7"/><polygon fill="url(#g71)" points="0,7.61 38.41,3.24 76.83,-1.3 115.24,-6.02 153.65,-10.92 192.06,-15.94 230.47,-21.12 268.89,-26.46 307.3,-31.96 307.3,-28.48 268.89,-23.33 230.47,-18.32 192.06,-13.46 153.65,-8.75 115.24,-4.24 76.83,0.14 38.41,4.38 0,8.49"/><polygon fill="url(#g72)" fill-opacity="0.36" points="0,4.61 38.41,-0.41 76.83,-5.64 115.24,-11.08 153.65,-16.75 192.06,-22.51 230.47,-28.46 268.89,-34.6 307.3,-40.94 307.3,-34.27 268.89,-28.62 230.47,-23.12 192.06,-17.78 153.65,-12.6 115.24,-7.67 76.83,-2.88 38.41,1.77 0,6.3"/><polygon fill="url(#g72)" fill-opacity="0.5" points="0,4.8 38.41,-0.16 76.83,-5.32 115.24,-10.69 153.65,-16.27 192.06,-21.96 230.47,-27.84 268.89,-33.91 307.3,-40.17 307.3,-35.04 268.89,-29.31 230.47,-23.73 192.06,-18.32 153.65,-13.08 115.24,-8.07 76.83,-3.2 38.41,1.52 0,6.1"/><polygon fill="url(#g72)" points="0,5.01 38.41,0.11 76.83,-4.98 115.24,-10.27 153.65,-15.76 192.06,-21.38 230.47,-27.19 268.89,-33.18 307.3,-39.35 307.3,-35.86 268.89,-30.04 230.47,-24.39 192.06,-18.91 153.65,-13.59 115.24,-8.49 76.83,-3.54 38.41,1.25 0,5.89"/><polygon fill="url(#g73)" fill-opacity="0.36" points="0,2.01 38.41,-3.54 76.83,-9.32 115.24,-15.33 153.65,-21.59 192.06,-27.95 230.47,-34.53 268.89,-41.32 307.3,-48.32 307.3,-41.66 268.89,-35.33 230.47,-29.19 192.06,-23.22 153.65,-17.43 115.24,-11.92 76.83,-6.56 38.41,-1.36 0,3.7"/><polygon fill="url(#g73)" fill-opacity="0.5" points="0,2.2 38.41,-3.29 76.83,-9 115.24,-14.94 153.65,-21.11 192.06,-27.41 230.47,-33.92 268.89,-40.63 307.3,-47.55 307.3,-42.43 268.89,-36.02 230.47,-29.8 192.06,-23.77 153.65,-17.91 115.24,-12.32 76.83,-6.88 38.41,-1.61 0,3.5"/><polygon fill="url(#g73)" points="0,2.41 38.41,-3.02 76.83,-8.66 115.24,-14.52 153.65,-20.6 192.06,-26.83 230.47,-33.26 268.89,-39.89 307.3,-46.73 307.3,-43.25 268.89,-36.76 230.47,-30.46 192.06,-24.35 153.65,-18.42 115.24,-12.74 76.83,-7.22 38.41,-1.88 0,3.29"/><polygon fill="url(#g74)" fill-opacity="0.36" points="0,-0.59 38.41,-6.67 76.83,-13 115.24,-19.58 153.65,-26.42 192.06,-33.4 230.47,-40.6 268.89,-48.04 307.3,-55.71 307.3,-49.04 268.89,-42.05 230.47,-35.26 192.06,-28.67 153.65,-22.27 115.24,-16.17 76.83,-10.24 38.41,-4.49 0,1.1"/><polygon fill="url(#g74)" fill-opacity="0.5" points="0,-0.4 38.41,-6.42 76.83,-12.68 115.24,-19.19 153.65,-25.94 192.06,-32.85 230.47,-39.99 268.89,-47.35 307.3,-54.94 307.3,-49.81 268.89,-42.74 230.47,-35.88 192.06,-29.21 153.65,-22.75 115.24,-16.56 76.83,-10.56 38.41,-4.74 0,0.9"/><polygon fill="url(#g74)" points="0,-0.19 38.41,-6.15 76.83,-12.34 115.24,-18.77 153.65,-25.43 192.06,-32.27 230.47,-39.33 268.89,-46.61 307.3,-54.12 307.3,-50.63 268.89,-43.48 230.47,-36.53 192.06,-29.79 153.65,-23.26 115.24,-16.98 76.83,-10.9 38.41,-5.01 0,0.69"/></g></g><use href="#h75" transform="translate(0 90.1) scale(1 -1)"/><g filter="url(#bc)" style="mix-blend-mode:lighten"><polygon fill="url(#g76)" points="0,32.82 61.46,32.55 99.87,29.39 184.38,29.26 230.47,30.56 307.3,30.44 307.3,40.9 230.47,41.02 184.38,42.47 99.87,42.6 61.46,39.56 0,39.48"/><polygon fill="url(#g77)" points="0,33.5 61.46,33.27 99.87,30.83 184.38,30.7 230.47,31.69 307.3,31.57 307.3,39.77 230.47,39.89 184.38,41.02 99.87,41.16 61.46,38.84 0,38.8"/><polygon fill="url(#g78)" points="0,33.88 61.46,33.67 99.87,31.63 184.38,31.5 230.47,32.31 307.3,32.19 307.3,39.15 230.47,39.27 184.38,40.22 99.87,40.35 61.46,38.43 0,38.42"/><polygon fill="url(#g79)" points="0,34.2 61.46,34.01 99.87,32.31 184.38,32.18 230.47,32.84 307.3,32.72 307.3,38.62 230.47,38.74 184.38,39.54 99.87,39.67 61.46,38.09 0,38.1"/><polygon fill="url(#g80)" points="0,34.47 61.46,34.3 99.87,32.88 184.38,32.75 230.47,33.28 307.3,33.16 307.3,38.18 230.47,38.3 184.38,38.97 99.87,39.11 61.46,37.81 0,37.83"/><polygon fill="url(#g81)" points="0,34.76 61.46,34.6 99.87,33.49 184.38,33.36 230.47,33.75 307.3,33.63 307.3,37.71 230.47,37.83 184.38,38.37 99.87,38.5 61.46,37.51 0,37.54"/><polygon fill="url(#g82)" points="0,35.05 61.46,34.92 99.87,34.12 184.38,33.99 230.47,34.24 307.3,34.12 307.3,37.22 230.47,37.34 184.38,37.74 99.87,37.87 61.46,37.19 0,37.25"/><polygon fill="url(#g83)" points="0,35.32 61.46,35.2 99.87,34.69 184.38,34.55 230.47,34.68 307.3,34.56 307.3,36.78 230.47,36.9 184.38,37.17 99.87,37.3 61.46,36.91 0,36.98"/><polygon fill="url(#g84)" points="0,35.75 61.46,35.65 99.87,35.59 184.38,35.46 230.47,35.39 307.3,35.27 307.3,36.07 230.47,36.19 184.38,36.26 99.87,36.39 61.46,36.45 0,36.55"/><polygon fill="url(#g85)" points="0,50.62 61.46,50.54 99.87,47.5 184.38,47.63 230.47,49.08 307.3,49.2 307.3,59.66 230.47,59.54 184.38,60.84 99.87,60.71 61.46,57.55 0,57.28"/><polygon fill="url(#g86)" points="0,51.3 61.46,51.26 99.87,48.94 184.38,49.08 230.47,50.21 307.3,50.33 307.3,58.53 230.47,58.41 184.38,59.4 99.87,59.27 61.46,56.83 0,56.6"/><polygon fill="url(#g87)" points="0,51.68 61.46,51.67 99.87,49.75 184.38,49.88 230.47,50.83 307.3,50.95 307.3,57.91 230.47,57.79 184.38,58.6 99.87,58.47 61.46,56.43 0,56.22"/><polygon fill="url(#g88)" points="0,52 61.46,52.01 99.87,50.43 184.38,50.56 230.47,51.36 307.3,51.48 307.3,57.38 230.47,57.26 184.38,57.92 99.87,57.79 61.46,56.09 0,55.9"/><polygon fill="url(#g89)" points="0,52.27 61.46,52.29 99.87,50.99 184.38,51.13 230.47,51.8 307.3,51.92 307.3,56.94 230.47,56.82 184.38,57.35 99.87,57.22 61.46,55.8 0,55.63"/><polygon fill="url(#g90)" points="0,52.56 61.46,52.59 99.87,51.6 184.38,51.73 230.47,52.27 307.3,52.39 307.3,56.47 230.47,56.35 184.38,56.74 99.87,56.61 61.46,55.5 0,55.34"/><polygon fill="url(#g91)" points="0,52.85 61.46,52.91 99.87,52.23 184.38,52.36 230.47,52.76 307.3,52.88 307.3,55.98 230.47,55.86 184.38,56.11 99.87,55.98 61.46,55.18 0,55.05"/><polygon fill="url(#g92)" points="0,53.12 61.46,53.19 99.87,52.8 184.38,52.93 230.47,53.2 307.3,53.32 307.3,55.54 230.47,55.42 184.38,55.55 99.87,55.41 61.46,54.9 0,54.78"/><polygon fill="url(#g93)" points="0,53.55 61.46,53.65 99.87,53.71 184.38,53.84 230.47,53.91 307.3,54.03 307.3,54.83 230.47,54.71 184.38,54.64 99.87,54.51 61.46,54.45 0,54.35"/></g><line x1="0" x2="130.6" y1="35.65" y2="35.65" stroke="#fff" stroke-opacity=".18" stroke-width=".7" stroke-dasharray="1 1.2"/><line x1="130.6" x2="307.3" y1="35.65" y2="35.65" stroke="#fff" stroke-opacity=".5" stroke-width=".7" stroke-dasharray="1 1.2"/><line x1="0" x2="130.6" y1="54.45" y2="54.45" stroke="#fff" stroke-opacity=".18" stroke-width=".7" stroke-dasharray="1 1.2"/><line x1="130.6" x2="307.3" y1="54.45" y2="54.45" stroke="#fff" stroke-opacity=".5" stroke-width=".7" stroke-dasharray="1 1.2"/></svg>
<text x="36.2" y="316.39" font-size="12.3" text-anchor="end" fill="#222">0.5</text>
<text x="36.2" y="344.55" font-size="12.3" text-anchor="end" fill="#222">0</text>
<text x="36.2" y="372.71" font-size="12.3" text-anchor="end" fill="#222">-0.5</text>
<text transform="translate(12.5 340.55) rotate(-90)" font-size="13" text-anchor="middle" fill="#222"><tspan font-style="italic">x</tspan> (mm)</text>
<text x="43" y="401.2" font-size="12.3" text-anchor="middle" fill="#222">0</text>
<text x="80.5" y="401.2" font-size="12.3" text-anchor="middle" fill="#222">5</text>
<text x="118" y="401.2" font-size="12.3" text-anchor="middle" fill="#222">10</text>
<text x="155.5" y="401.2" font-size="12.3" text-anchor="middle" fill="#222">15</text>
<text x="193" y="401.2" font-size="12.3" text-anchor="middle" fill="#222">20</text>
<text x="230.5" y="401.2" font-size="12.3" text-anchor="middle" fill="#222">25</text>
<text x="268" y="401.2" font-size="12.3" text-anchor="middle" fill="#222">30</text>
<text x="305.5" y="401.2" font-size="12.3" text-anchor="middle" fill="#222">35</text>
<text x="343" y="401.2" font-size="12.3" text-anchor="middle" fill="#222">40</text>
<text x="193.7" y="418.1" font-size="13.4" text-anchor="middle" fill="#222"><tspan font-style="italic">z</tspan> (cm)</text>
<text x="44" y="309.5" font-size="12" text-anchor="start" fill="#fff" class="w">(e)</text>
<text x="196" y="310" font-size="12" text-anchor="start" fill="#fff" class="w"><tspan font-style="italic">l</tspan><tspan fill="#c9b0cc" stroke="none"> = </tspan>4</text>
<text class="w" x="286.5" y="309.7" font-size="12" fill="#fff"><tspan font-style="italic">ω</tspan><tspan font-style="italic" font-weight="bold" font-size="9.5" dy="2.6">in</tspan><tspan dy="-2.6" fill="#c9b0cc" stroke="none"> = </tspan>4 mm</text>
<text x="198.5" y="19.4" font-size="11.8" text-anchor="middle" fill="#222">With&#160;&#160;MDL</text>
<rect x="266.2" y="13.1" width="79.4" height="10" fill="url(#g94)"/>
<text x="268.3" y="9.6" font-size="11.5" text-anchor="middle" fill="#222">0</text>
<text x="344.6" y="9.6" font-size="11.5" text-anchor="middle" fill="#222">1</text>
<g stroke="#555" stroke-width=".8" fill="none"><rect x="379" y="19.5" width="132.8" height="86.7"/><path d="M445.4 106.2v-1.6 M445.4 19.5v1.6M379 62.9h1.6 M511.8 62.9h-1.6"/></g>
<g fill="none" stroke="#f04a4a" stroke-width="0.8"><polyline points="379,101.65 385.64,100.79 392.28,100.79 398.92,101 405.56,100.79 412.2,100.57 418.84,100.14 425.48,100.35 432.12,100.14 438.76,99.92 445.4,99.7 452.04,99.7 458.68,99.49 465.32,99.27 471.96,99.7 478.6,99.49 485.24,99.06 491.88,97.54 498.52,96.67 505.16,96.89 511.8,96.67"/><rect x="377.2" y="99.85" width="3.6" height="3.6"/><rect x="383.84" y="98.99" width="3.6" height="3.6"/><rect x="390.48" y="98.99" width="3.6" height="3.6"/><rect x="397.12" y="99.2" width="3.6" height="3.6"/><rect x="403.76" y="98.99" width="3.6" height="3.6"/><rect x="410.4" y="98.77" width="3.6" height="3.6"/><rect x="417.04" y="98.34" width="3.6" height="3.6"/><rect x="423.68" y="98.55" width="3.6" height="3.6"/><rect x="430.32" y="98.34" width="3.6" height="3.6"/><rect x="436.96" y="98.12" width="3.6" height="3.6"/><rect x="443.6" y="97.91" width="3.6" height="3.6"/><rect x="450.24" y="97.91" width="3.6" height="3.6"/><rect x="456.88" y="97.69" width="3.6" height="3.6"/><rect x="463.52" y="97.47" width="3.6" height="3.6"/><rect x="470.16" y="97.91" width="3.6" height="3.6"/><rect x="476.8" y="97.69" width="3.6" height="3.6"/><rect x="483.44" y="97.26" width="3.6" height="3.6"/><rect x="490.08" y="95.74" width="3.6" height="3.6"/><rect x="496.72" y="94.87" width="3.6" height="3.6"/><rect x="503.36" y="95.09" width="3.6" height="3.6"/><rect x="510" y="94.87" width="3.6" height="3.6"/></g>
<g fill="none" stroke="#3030e8" stroke-width="0.85"><polyline points="379,101.65 385.64,100.57 392.28,96.67 398.92,92.89 405.56,88.66 412.2,84.87 418.84,80.87 425.48,74.7 432.12,69.83 438.76,65.5 445.4,61.82 452.04,56.62 458.68,50.56 465.32,45.36 471.96,41.25 478.6,38.22 485.24,35.84"/><circle cx="379" cy="101.65" r="2.05"/><circle cx="385.64" cy="100.57" r="2.05"/><circle cx="392.28" cy="96.67" r="2.05"/><circle cx="398.92" cy="92.89" r="2.05"/><circle cx="405.56" cy="88.66" r="2.05"/><circle cx="412.2" cy="84.87" r="2.05"/><circle cx="418.84" cy="80.87" r="2.05"/><circle cx="425.48" cy="74.7" r="2.05"/><circle cx="432.12" cy="69.83" r="2.05"/><circle cx="438.76" cy="65.5" r="2.05"/><circle cx="445.4" cy="61.82" r="2.05"/><circle cx="452.04" cy="56.62" r="2.05"/><circle cx="458.68" cy="50.56" r="2.05"/><circle cx="465.32" cy="45.36" r="2.05"/><circle cx="471.96" cy="41.25" r="2.05"/><circle cx="478.6" cy="38.22" r="2.05"/><circle cx="485.24" cy="35.84" r="2.05"/></g>
<text x="375.7" y="110.8" font-size="12.3" text-anchor="end" fill="#222">0</text>
<text x="375.7" y="67.5" font-size="12.3" text-anchor="end" fill="#222">2</text>
<text x="375.7" y="24.1" font-size="12.3" text-anchor="end" fill="#222">4</text>
<text x="379" y="121.2" font-size="12.3" text-anchor="middle" fill="#222">0</text>
<text x="445.4" y="121.2" font-size="12.3" text-anchor="middle" fill="#222">20</text>
<text x="511.8" y="121.2" font-size="12.3" text-anchor="middle" fill="#222">40</text>
<text x="444.9" y="136.7" font-size="13.2" text-anchor="middle" fill="#222"><tspan font-style="italic">z</tspan> (cm)</text>
<text transform="translate(365.5 63.35) rotate(-90)" font-size="13" text-anchor="middle" fill="#222">Beam size (mm)</text>
<text x="383.7" y="32.8" font-size="12" text-anchor="start" fill="#222">(b)</text>
<rect x="435.2" y="70.5" width="72.6" height="21.8" fill="#fff" stroke="#444" stroke-width=".8"/>
<g fill="none" stroke="#f04a4a" stroke-width="0.8"><polyline points="437,76.17 444.5,76.17 452.2,76.17"/><rect x="442.7" y="74.37" width="3.6" height="3.6"/></g>
<g fill="none" stroke="#3030e8" stroke-width="0.85"><polyline points="437,86.85 444.5,86.85 452.2,86.85"/><circle cx="444.5" cy="86.85" r="2.05"/></g>
<text x="453.8" y="79.27" font-size="9.2" text-anchor="start" fill="#222">With MDL</text>
<text x="453.8" y="89.95" font-size="9.2" text-anchor="start" fill="#222">Without MDL</text>
<g stroke="#555" stroke-width=".8" fill="none"><rect x="381.6" y="157.5" width="130.4" height="86.8"/><path d="M446.8 244.3v-1.6 M446.8 157.5v1.6M381.6 203.6h1.6 M512 203.6h-1.6M381.6 163h1.6 M512 163h-1.6"/></g>
<g fill="none" stroke="#f04a4a" stroke-width="0.8"><polyline points="381.6,238.6 388.12,237.79 394.64,236.97 401.16,236.77 407.68,236.57 414.2,236.36 420.72,236.16 427.24,235.96 433.76,235.75 440.28,235.55 446.8,235.35 453.32,234.94 459.84,234.74 466.36,234.33 472.88,234.12 479.4,233.72 485.92,233.51 492.44,233.11 498.96,232.5 505.48,231.68 512,231.68"/><rect x="379.8" y="236.8" width="3.6" height="3.6"/><rect x="386.32" y="235.99" width="3.6" height="3.6"/><rect x="392.84" y="235.17" width="3.6" height="3.6"/><rect x="399.36" y="234.97" width="3.6" height="3.6"/><rect x="405.88" y="234.77" width="3.6" height="3.6"/><rect x="412.4" y="234.56" width="3.6" height="3.6"/><rect x="418.92" y="234.36" width="3.6" height="3.6"/><rect x="425.44" y="234.16" width="3.6" height="3.6"/><rect x="431.96" y="233.95" width="3.6" height="3.6"/><rect x="438.48" y="233.75" width="3.6" height="3.6"/><rect x="445" y="233.55" width="3.6" height="3.6"/><rect x="451.52" y="233.14" width="3.6" height="3.6"/><rect x="458.04" y="232.94" width="3.6" height="3.6"/><rect x="464.56" y="232.53" width="3.6" height="3.6"/><rect x="471.08" y="232.32" width="3.6" height="3.6"/><rect x="477.6" y="231.92" width="3.6" height="3.6"/><rect x="484.12" y="231.71" width="3.6" height="3.6"/><rect x="490.64" y="231.31" width="3.6" height="3.6"/><rect x="497.16" y="230.7" width="3.6" height="3.6"/><rect x="503.68" y="229.88" width="3.6" height="3.6"/><rect x="510.2" y="229.88" width="3.6" height="3.6"/></g>
<g fill="none" stroke="#3030e8" stroke-width="0.85"><polyline points="381.6,238.6 388.12,237.79 394.64,232.9 401.16,229.04 407.68,223.14 414.2,218.86 420.72,215.2 427.24,208.48 433.76,204.41 440.28,200.34 446.8,196.27 453.32,188.95 459.84,184.67 466.36,181.62 472.88,174.3 479.4,166.56 485.92,161.68"/><circle cx="381.6" cy="238.6" r="2.05"/><circle cx="388.12" cy="237.79" r="2.05"/><circle cx="394.64" cy="232.9" r="2.05"/><circle cx="401.16" cy="229.04" r="2.05"/><circle cx="407.68" cy="223.14" r="2.05"/><circle cx="414.2" cy="218.86" r="2.05"/><circle cx="420.72" cy="215.2" r="2.05"/><circle cx="427.24" cy="208.48" r="2.05"/><circle cx="433.76" cy="204.41" r="2.05"/><circle cx="440.28" cy="200.34" r="2.05"/><circle cx="446.8" cy="196.27" r="2.05"/><circle cx="453.32" cy="188.95" r="2.05"/><circle cx="459.84" cy="184.67" r="2.05"/><circle cx="466.36" cy="181.62" r="2.05"/><circle cx="472.88" cy="174.3" r="2.05"/><circle cx="479.4" cy="166.56" r="2.05"/><circle cx="485.92" cy="161.68" r="2.05"/></g>
<text x="378.3" y="248.9" font-size="12.3" text-anchor="end" fill="#222">0</text>
<text x="378.3" y="208.2" font-size="12.3" text-anchor="end" fill="#222">2</text>
<text x="378.3" y="167.6" font-size="12.3" text-anchor="end" fill="#222">4</text>
<text x="381.6" y="259.3" font-size="12.3" text-anchor="middle" fill="#222">0</text>
<text x="446.8" y="259.3" font-size="12.3" text-anchor="middle" fill="#222">20</text>
<text x="512" y="259.3" font-size="12.3" text-anchor="middle" fill="#222">40</text>
<text x="446.3" y="274.8" font-size="13.2" text-anchor="middle" fill="#222"><tspan font-style="italic">z</tspan> (cm)</text>
<text transform="translate(365.5 201.4) rotate(-90)" font-size="13" text-anchor="middle" fill="#222">Beam size (mm)</text>
<text x="385.3" y="167.3" font-size="12" text-anchor="start" fill="#222">(d)</text>
<rect x="436.6" y="207.2" width="73.7" height="20.8" fill="#fff" stroke="#444" stroke-width=".8"/>
<g fill="none" stroke="#f04a4a" stroke-width="0.8"><polyline points="438.4,212.61 445.9,212.61 453.6,212.61"/><rect x="444.1" y="210.81" width="3.6" height="3.6"/></g>
<g fill="none" stroke="#3030e8" stroke-width="0.85"><polyline points="438.4,222.8 445.9,222.8 453.6,222.8"/><circle cx="445.9" cy="222.8" r="2.05"/></g>
<text x="455.2" y="215.71" font-size="9.2" text-anchor="start" fill="#222">With MDL</text>
<text x="455.2" y="225.9" font-size="9.2" text-anchor="start" fill="#222">Without MDL</text>
<g stroke="#555" stroke-width=".8" fill="none"><rect x="380" y="291.3" width="131.3" height="89.4"/><path d="M445.65 380.7v-1.6 M445.65 291.3v1.6M380 342.5h1.6 M511.3 342.5h-1.6M380 304.2h1.6 M511.3 304.2h-1.6"/></g>
<g fill="none" stroke="#f04a4a" stroke-width="0.8"><polyline points="380,372.87 386.56,372.49 393.13,372.68 399.69,372.49 406.26,372.11 412.82,371.91 419.39,371.72 425.95,371.53 432.52,371.15 439.08,370.58 445.65,370.19 452.22,370 458.78,369.62 465.35,369.24 471.91,368.86 478.48,368.28 485.04,367.71 491.61,366.95 498.17,366.38 504.74,365.61 511.3,365.04"/><rect x="378.2" y="371.07" width="3.6" height="3.6"/><rect x="384.76" y="370.69" width="3.6" height="3.6"/><rect x="391.33" y="370.88" width="3.6" height="3.6"/><rect x="397.89" y="370.69" width="3.6" height="3.6"/><rect x="404.46" y="370.31" width="3.6" height="3.6"/><rect x="411.02" y="370.11" width="3.6" height="3.6"/><rect x="417.59" y="369.92" width="3.6" height="3.6"/><rect x="424.15" y="369.73" width="3.6" height="3.6"/><rect x="430.72" y="369.35" width="3.6" height="3.6"/><rect x="437.28" y="368.78" width="3.6" height="3.6"/><rect x="443.85" y="368.39" width="3.6" height="3.6"/><rect x="450.42" y="368.2" width="3.6" height="3.6"/><rect x="456.98" y="367.82" width="3.6" height="3.6"/><rect x="463.55" y="367.44" width="3.6" height="3.6"/><rect x="470.11" y="367.06" width="3.6" height="3.6"/><rect x="476.68" y="366.48" width="3.6" height="3.6"/><rect x="483.24" y="365.91" width="3.6" height="3.6"/><rect x="489.81" y="365.15" width="3.6" height="3.6"/><rect x="496.37" y="364.57" width="3.6" height="3.6"/><rect x="502.94" y="363.81" width="3.6" height="3.6"/><rect x="509.5" y="363.24" width="3.6" height="3.6"/></g>
<g fill="none" stroke="#3030e8" stroke-width="0.85"><polyline points="380,372.87 386.56,372.49 393.13,368.67 399.69,364.66 406.26,359.69 412.82,354.15 419.39,348.23 425.95,342.69 432.52,337.92 439.08,335.43 445.65,329.7 452.22,325.31 458.78,319.58 465.35,313.09 471.91,310.22 478.48,303.15 485.04,298.57"/><circle cx="380" cy="372.87" r="2.05"/><circle cx="386.56" cy="372.49" r="2.05"/><circle cx="393.13" cy="368.67" r="2.05"/><circle cx="399.69" cy="364.66" r="2.05"/><circle cx="406.26" cy="359.69" r="2.05"/><circle cx="412.82" cy="354.15" r="2.05"/><circle cx="419.39" cy="348.23" r="2.05"/><circle cx="425.95" cy="342.69" r="2.05"/><circle cx="432.52" cy="337.92" r="2.05"/><circle cx="439.08" cy="335.43" r="2.05"/><circle cx="445.65" cy="329.7" r="2.05"/><circle cx="452.22" cy="325.31" r="2.05"/><circle cx="458.78" cy="319.58" r="2.05"/><circle cx="465.35" cy="313.09" r="2.05"/><circle cx="471.91" cy="310.22" r="2.05"/><circle cx="478.48" cy="303.15" r="2.05"/><circle cx="485.04" cy="298.57" r="2.05"/></g>
<text x="376.7" y="385.3" font-size="12.3" text-anchor="end" fill="#222">0</text>
<text x="376.7" y="347.1" font-size="12.3" text-anchor="end" fill="#222">2</text>
<text x="376.7" y="308.8" font-size="12.3" text-anchor="end" fill="#222">4</text>
<text x="380" y="395.7" font-size="12.3" text-anchor="middle" fill="#222">0</text>
<text x="445.65" y="395.7" font-size="12.3" text-anchor="middle" fill="#222">20</text>
<text x="511.3" y="395.7" font-size="12.3" text-anchor="middle" fill="#222">40</text>
<text x="445.15" y="411.2" font-size="13.2" text-anchor="middle" fill="#222"><tspan font-style="italic">z</tspan> (cm)</text>
<text transform="translate(365.5 336.5) rotate(-90)" font-size="13" text-anchor="middle" fill="#222">Beam size (mm)</text>
<text x="383.7" y="305.3" font-size="12" text-anchor="start" fill="#222">(f)</text>
<rect x="435" y="340.6" width="73.6" height="20.9" fill="#fff" stroke="#444" stroke-width=".8"/>
<g fill="none" stroke="#f04a4a" stroke-width="0.8"><polyline points="436.8,346.03 444.3,346.03 452,346.03"/><rect x="442.5" y="344.23" width="3.6" height="3.6"/></g>
<g fill="none" stroke="#3030e8" stroke-width="0.85"><polyline points="436.8,356.27 444.3,356.27 452,356.27"/><circle cx="444.3" cy="356.27" r="2.05"/></g>
<text x="453.6" y="349.13" font-size="9.2" text-anchor="start" fill="#222">With MDL</text>
<text x="453.6" y="359.38" font-size="9.2" text-anchor="start" fill="#222">Without MDL</text>
<g stroke="#555" stroke-width=".8" fill="none"><rect x="39.2" y="429.3" width="212.8" height="148.5"/><path d="M92.4 577.8v-2.2 M92.4 429.3v2.2M145.6 577.8v-2.2 M145.6 429.3v2.2M198.8 577.8v-2.2 M198.8 429.3v2.2M39.2 548.64h2.2 M252 548.64h-2.2M39.2 519.48h2.2 M252 519.48h-2.2M39.2 490.32h2.2 M252 490.32h-2.2M39.2 461.16h2.2 M252 461.16h-2.2"/></g>
<g fill="none" stroke="#f4703a" stroke-width="0.9"><polyline points="39.2,432 49.84,433.46 60.48,434.19 71.12,437.83 81.76,475.74 92.4,513.65 103.04,539.16 113.68,558.55 124.32,562.49 134.96,570.07 145.6,572.84 156.24,573.13 166.88,572.7 177.52,571.68 188.16,571.38 198.8,571.38 209.44,571.38 220.08,571.38 230.72,571.38 241.36,571.38 252,571.38"/><circle cx="39.2" cy="432" r="2.45"/><circle cx="49.84" cy="433.46" r="2.45"/><circle cx="60.48" cy="434.19" r="2.45"/><circle cx="71.12" cy="437.83" r="2.45"/><circle cx="81.76" cy="475.74" r="2.45"/><circle cx="92.4" cy="513.65" r="2.45"/><circle cx="103.04" cy="539.16" r="2.45"/><circle cx="113.68" cy="558.55" r="2.45"/><circle cx="124.32" cy="562.49" r="2.45"/><circle cx="134.96" cy="570.07" r="2.45"/><circle cx="145.6" cy="572.84" r="2.45"/><circle cx="156.24" cy="573.13" r="2.45"/><circle cx="166.88" cy="572.7" r="2.45"/><circle cx="177.52" cy="571.68" r="2.45"/><circle cx="188.16" cy="571.38" r="2.45"/><circle cx="198.8" cy="571.38" r="2.45"/><circle cx="209.44" cy="571.38" r="2.45"/><circle cx="220.08" cy="571.38" r="2.45"/><circle cx="230.72" cy="571.38" r="2.45"/><circle cx="241.36" cy="571.38" r="2.45"/><circle cx="252" cy="571.38" r="2.45"/></g>
<g fill="none" stroke="#3a9a4c" stroke-width="0.9"><polyline points="39.2,432 49.84,433.46 60.48,436.37 71.12,438.27 81.76,447.6 92.4,474.28 103.04,499.07 113.68,521.67 124.32,538.43 134.96,548.64 145.6,555.35 156.24,559.43 166.88,561.76 177.52,563.51 188.16,564.82 198.8,566.14 209.44,567.16 220.08,567.74 230.72,568.18 241.36,568.47 252,568.47"/><rect x="37.2" y="430" width="4" height="4"/><rect x="47.84" y="431.46" width="4" height="4"/><rect x="58.48" y="434.37" width="4" height="4"/><rect x="69.12" y="436.27" width="4" height="4"/><rect x="79.76" y="445.6" width="4" height="4"/><rect x="90.4" y="472.28" width="4" height="4"/><rect x="101.04" y="497.07" width="4" height="4"/><rect x="111.68" y="519.67" width="4" height="4"/><rect x="122.32" y="536.43" width="4" height="4"/><rect x="132.96" y="546.64" width="4" height="4"/><rect x="143.6" y="553.35" width="4" height="4"/><rect x="154.24" y="557.43" width="4" height="4"/><rect x="164.88" y="559.76" width="4" height="4"/><rect x="175.52" y="561.51" width="4" height="4"/><rect x="186.16" y="562.82" width="4" height="4"/><rect x="196.8" y="564.14" width="4" height="4"/><rect x="207.44" y="565.16" width="4" height="4"/><rect x="218.08" y="565.74" width="4" height="4"/><rect x="228.72" y="566.18" width="4" height="4"/><rect x="239.36" y="566.47" width="4" height="4"/><rect x="250" y="566.47" width="4" height="4"/></g>
<g fill="none" stroke="#333333" stroke-width="0.9"><polyline points="39.2,432 49.84,437.83 60.48,439.87 71.12,437.83 81.76,442.5 92.4,458.68 103.04,475.74 113.68,494.69 124.32,508.69 134.96,519.92 145.6,529.69 156.24,535.88 166.88,539.89 177.52,542.95 188.16,547.18 198.8,548.93 209.44,552.05 220.08,554.18 230.72,555.49 241.36,558.12 252,560.67"/><path d="M36.68 429.06L42.42 432L36.68 434.94Z"/><path d="M47.32 434.89L53.06 437.83L47.32 440.77Z"/><path d="M57.96 436.93L63.7 439.87L57.96 442.81Z"/><path d="M68.6 434.89L74.34 437.83L68.6 440.77Z"/><path d="M79.24 439.56L84.98 442.5L79.24 445.44Z"/><path d="M89.88 455.74L95.62 458.68L89.88 461.62Z"/><path d="M100.52 472.8L106.26 475.74L100.52 478.68Z"/><path d="M111.16 491.75L116.9 494.69L111.16 497.63Z"/><path d="M121.8 505.75L127.54 508.69L121.8 511.63Z"/><path d="M132.44 516.98L138.18 519.92L132.44 522.86Z"/><path d="M143.08 526.75L148.82 529.69L143.08 532.63Z"/><path d="M153.72 532.94L159.46 535.88L153.72 538.82Z"/><path d="M164.36 536.95L170.1 539.89L164.36 542.83Z"/><path d="M175 540.01L180.74 542.95L175 545.89Z"/><path d="M185.64 544.24L191.38 547.18L185.64 550.12Z"/><path d="M196.28 545.99L202.02 548.93L196.28 551.87Z"/><path d="M206.92 549.11L212.66 552.05L206.92 554.99Z"/><path d="M217.56 551.24L223.3 554.18L217.56 557.12Z"/><path d="M228.2 552.55L233.94 555.49L228.2 558.43Z"/><path d="M238.84 555.18L244.58 558.12L238.84 561.06Z"/><path d="M249.48 557.73L255.22 560.67L249.48 563.61Z"/></g>
<g fill="none" stroke="#f024f0" stroke-width="0.9"><polyline points="39.2,432 49.84,437.83 60.48,440.75 71.12,443.66 81.76,456.79 92.4,469.62 103.04,480.84 113.68,495.13 124.32,508.11 134.96,518.61 145.6,526.48 156.24,532.6 166.88,536.68 177.52,541.06 188.16,545.72 198.8,548.2 209.44,550.97 220.08,552.87 230.72,554.62 241.36,556.22 252,558.12"/><path d="M39.2 429.12L39.88 431.07L41.94 431.11L40.3 432.36L40.89 434.33L39.2 433.15L37.51 434.33L38.1 432.36L36.46 431.11L38.52 431.07Z"/><path d="M49.84 434.95L50.52 436.9L52.58 436.94L50.94 438.19L51.53 440.16L49.84 438.98L48.15 440.16L48.74 438.19L47.1 436.94L49.16 436.9Z"/><path d="M60.48 437.87L61.16 439.82L63.22 439.86L61.58 441.1L62.17 443.08L60.48 441.9L58.79 443.08L59.38 441.1L57.74 439.86L59.8 439.82Z"/><path d="M71.12 440.78L71.8 442.73L73.86 442.77L72.22 444.02L72.81 445.99L71.12 444.82L69.43 445.99L70.02 444.02L68.38 442.77L70.44 442.73Z"/><path d="M81.76 453.91L82.44 455.85L84.5 455.9L82.86 457.14L83.45 459.12L81.76 457.94L80.07 459.12L80.66 457.14L79.02 455.9L81.08 455.85Z"/><path d="M92.4 466.74L93.08 468.68L95.14 468.73L93.5 469.97L94.09 471.95L92.4 470.77L90.71 471.95L91.3 469.97L89.66 468.73L91.72 468.68Z"/><path d="M103.04 477.96L103.72 479.91L105.78 479.95L104.14 481.2L104.73 483.17L103.04 481.99L101.35 483.17L101.94 481.2L100.3 479.95L102.36 479.91Z"/><path d="M113.68 492.25L114.36 494.2L116.42 494.24L114.78 495.49L115.37 497.46L113.68 496.28L111.99 497.46L112.58 495.49L110.94 494.24L113 494.2Z"/><path d="M124.32 505.23L125 507.18L127.06 507.22L125.42 508.46L126.01 510.44L124.32 509.26L122.63 510.44L123.22 508.46L121.58 507.22L123.64 507.18Z"/><path d="M134.96 515.73L135.64 517.67L137.7 517.72L136.06 518.96L136.65 520.94L134.96 519.76L133.27 520.94L133.86 518.96L132.22 517.72L134.28 517.67Z"/><path d="M145.6 523.6L146.28 525.55L148.34 525.59L146.7 526.83L147.29 528.81L145.6 527.63L143.91 528.81L144.5 526.83L142.86 525.59L144.92 525.55Z"/><path d="M156.24 529.72L156.92 531.67L158.98 531.71L157.34 532.96L157.93 534.93L156.24 533.75L154.55 534.93L155.14 532.96L153.5 531.71L155.56 531.67Z"/><path d="M166.88 533.8L167.56 535.75L169.62 535.79L167.98 537.04L168.57 539.01L166.88 537.84L165.19 539.01L165.78 537.04L164.14 535.79L166.2 535.75Z"/><path d="M177.52 538.18L178.2 540.13L180.26 540.17L178.62 541.41L179.21 543.39L177.52 542.21L175.83 543.39L176.42 541.41L174.78 540.17L176.84 540.13Z"/><path d="M188.16 542.84L188.84 544.79L190.9 544.83L189.26 546.08L189.85 548.05L188.16 546.88L186.47 548.05L187.06 546.08L185.42 544.83L187.48 544.79Z"/><path d="M198.8 545.32L199.48 547.27L201.54 547.31L199.9 548.56L200.49 550.53L198.8 549.35L197.11 550.53L197.7 548.56L196.06 547.31L198.12 547.27Z"/><path d="M209.44 548.09L210.12 550.04L212.18 550.08L210.54 551.33L211.13 553.3L209.44 552.12L207.75 553.3L208.34 551.33L206.7 550.08L208.76 550.04Z"/><path d="M220.08 549.99L220.76 551.94L222.82 551.98L221.18 553.22L221.77 555.2L220.08 554.02L218.39 555.2L218.98 553.22L217.34 551.98L219.4 551.94Z"/><path d="M230.72 551.74L231.4 553.69L233.46 553.73L231.82 554.97L232.41 556.95L230.72 555.77L229.03 556.95L229.62 554.97L227.98 553.73L230.04 553.69Z"/><path d="M241.36 553.34L242.04 555.29L244.1 555.33L242.46 556.58L243.05 558.55L241.36 557.37L239.67 558.55L240.26 556.58L238.62 555.33L240.68 555.29Z"/><path d="M252 555.24L252.68 557.19L254.74 557.23L253.1 558.47L253.69 560.45L252 559.27L250.31 560.45L250.9 558.47L249.26 557.23L251.32 557.19Z"/></g>
<text x="36.2" y="581.8" font-size="12.4" text-anchor="end" fill="#222">0</text>
<text x="36.2" y="552.64" font-size="12.4" text-anchor="end" fill="#222">0.2</text>
<text x="36.2" y="523.48" font-size="12.4" text-anchor="end" fill="#222">0.4</text>
<text x="36.2" y="494.32" font-size="12.4" text-anchor="end" fill="#222">0.6</text>
<text x="36.2" y="465.16" font-size="12.4" text-anchor="end" fill="#222">0.8</text>
<text x="36.2" y="436" font-size="12.4" text-anchor="end" fill="#222">1</text>
<text x="39.2" y="593" font-size="12.4" text-anchor="middle" fill="#222">0</text>
<text x="92.4" y="593" font-size="12.4" text-anchor="middle" fill="#222">10</text>
<text x="145.6" y="593" font-size="12.4" text-anchor="middle" fill="#222">20</text>
<text x="198.8" y="593" font-size="12.4" text-anchor="middle" fill="#222">30</text>
<text x="252" y="593" font-size="12.4" text-anchor="middle" fill="#222">40</text>
<text x="145.4" y="609" font-size="13.6" text-anchor="middle" fill="#222"><tspan font-style="italic">z</tspan> (cm)</text>
<text transform="translate(14.1 504.05) rotate(-90)" font-size="13.5" text-anchor="middle" fill="#222">Normalized peak intensity</text>
<text x="133" y="445.3" font-size="11.8" text-anchor="middle" fill="#222">With&#160;&#160;MDL</text>
<text x="191.5" y="444.2" font-size="12" text-anchor="middle" fill="#222">(g)</text>
<g stroke="#555" stroke-width=".8" fill="none"><rect x="296.7" y="429.6" width="215" height="148.1"/><path d="M350.45 577.7v-2.2 M350.45 429.6v2.2M404.2 577.7v-2.2 M404.2 429.6v2.2M457.95 577.7v-2.2 M457.95 429.6v2.2M296.7 548.08h2.2 M511.7 548.08h-2.2M296.7 518.46h2.2 M511.7 518.46h-2.2M296.7 488.84h2.2 M511.7 488.84h-2.2M296.7 459.22h2.2 M511.7 459.22h-2.2"/></g>
<g fill="none" stroke="#f4703a" stroke-width="0.9"><polyline points="296.7,451.81 307.45,448.85 318.2,450.63 328.95,455.37 339.7,463.66 350.45,477.14 361.2,494.17 371.95,512.39 382.7,531.49 393.45,546.3 404.2,557.26 414.95,563.33 425.7,567.33 436.45,568.81 447.2,569.41 457.95,569.41 468.7,569.41 479.45,569.41 490.2,569.41 500.95,569.41 511.7,569.41"/><circle cx="296.7" cy="451.81" r="2.45"/><circle cx="307.45" cy="448.85" r="2.45"/><circle cx="318.2" cy="450.63" r="2.45"/><circle cx="328.95" cy="455.37" r="2.45"/><circle cx="339.7" cy="463.66" r="2.45"/><circle cx="350.45" cy="477.14" r="2.45"/><circle cx="361.2" cy="494.17" r="2.45"/><circle cx="371.95" cy="512.39" r="2.45"/><circle cx="382.7" cy="531.49" r="2.45"/><circle cx="393.45" cy="546.3" r="2.45"/><circle cx="404.2" cy="557.26" r="2.45"/><circle cx="414.95" cy="563.33" r="2.45"/><circle cx="425.7" cy="567.33" r="2.45"/><circle cx="436.45" cy="568.81" r="2.45"/><circle cx="447.2" cy="569.41" r="2.45"/><circle cx="457.95" cy="569.41" r="2.45"/><circle cx="468.7" cy="569.41" r="2.45"/><circle cx="479.45" cy="569.41" r="2.45"/><circle cx="490.2" cy="569.41" r="2.45"/><circle cx="500.95" cy="569.41" r="2.45"/><circle cx="511.7" cy="569.41" r="2.45"/></g>
<g fill="none" stroke="#3a9a4c" stroke-width="0.9"><polyline points="296.7,469.29 307.45,468.11 318.2,468.11 328.95,468.11 339.7,471.07 350.45,477.14 361.2,484.4 371.95,494.91 382.7,508.09 393.45,519.05 404.2,532.09 414.95,541.56 425.7,549.56 436.45,554.71 447.2,558.74 457.95,561.26 468.7,563.33 479.45,564.67 490.2,565.56 500.95,565.94 511.7,566.15"/><rect x="294.7" y="467.29" width="4" height="4"/><rect x="305.45" y="466.11" width="4" height="4"/><rect x="316.2" y="466.11" width="4" height="4"/><rect x="326.95" y="466.11" width="4" height="4"/><rect x="337.7" y="469.07" width="4" height="4"/><rect x="348.45" y="475.14" width="4" height="4"/><rect x="359.2" y="482.4" width="4" height="4"/><rect x="369.95" y="492.91" width="4" height="4"/><rect x="380.7" y="506.09" width="4" height="4"/><rect x="391.45" y="517.05" width="4" height="4"/><rect x="402.2" y="530.09" width="4" height="4"/><rect x="412.95" y="539.56" width="4" height="4"/><rect x="423.7" y="547.56" width="4" height="4"/><rect x="434.45" y="552.71" width="4" height="4"/><rect x="445.2" y="556.74" width="4" height="4"/><rect x="455.95" y="559.26" width="4" height="4"/><rect x="466.7" y="561.33" width="4" height="4"/><rect x="477.45" y="562.67" width="4" height="4"/><rect x="488.2" y="563.56" width="4" height="4"/><rect x="498.95" y="563.94" width="4" height="4"/><rect x="509.7" y="564.15" width="4" height="4"/></g>
<g fill="none" stroke="#333333" stroke-width="0.9"><polyline points="296.7,494.91 307.45,495.36 318.2,494.17 328.95,494.17 339.7,495.36 350.45,495.95 361.2,495.95 371.95,497.13 382.7,501.28 393.45,507.2 404.2,515.5 414.95,522.9 425.7,530.01 436.45,535.94 447.2,539.79 457.95,542.45 468.7,545.12 479.45,546.9 490.2,548.67 500.95,550.75 511.7,552.82"/><path d="M294.18 491.97L299.92 494.91L294.18 497.85Z"/><path d="M304.93 492.42L310.67 495.36L304.93 498.3Z"/><path d="M315.68 491.23L321.42 494.17L315.68 497.11Z"/><path d="M326.43 491.23L332.17 494.17L326.43 497.11Z"/><path d="M337.18 492.42L342.92 495.36L337.18 498.3Z"/><path d="M347.93 493.01L353.67 495.95L347.93 498.89Z"/><path d="M358.68 493.01L364.42 495.95L358.68 498.89Z"/><path d="M369.43 494.19L375.17 497.13L369.43 500.07Z"/><path d="M380.18 498.34L385.92 501.28L380.18 504.22Z"/><path d="M390.93 504.26L396.67 507.2L390.93 510.14Z"/><path d="M401.68 512.56L407.42 515.5L401.68 518.44Z"/><path d="M412.43 519.96L418.17 522.9L412.43 525.84Z"/><path d="M423.18 527.07L428.92 530.01L423.18 532.95Z"/><path d="M433.93 533L439.67 535.94L433.93 538.88Z"/><path d="M444.68 536.85L450.42 539.79L444.68 542.73Z"/><path d="M455.43 539.51L461.17 542.45L455.43 545.39Z"/><path d="M466.18 542.18L471.92 545.12L466.18 548.06Z"/><path d="M476.93 543.96L482.67 546.9L476.93 549.84Z"/><path d="M487.68 545.73L493.42 548.67L487.68 551.61Z"/><path d="M498.43 547.81L504.17 550.75L498.43 553.69Z"/><path d="M509.18 549.88L514.92 552.82L509.18 555.76Z"/></g>
<g fill="none" stroke="#f024f0" stroke-width="0.9"><polyline points="296.7,516.98 307.45,517.57 318.2,517.28 328.95,517.57 339.7,517.13 350.45,518.16 361.2,519.35 371.95,519.35 382.7,519.64 393.45,521.42 404.2,524.68 414.95,529.42 425.7,533.86 436.45,537.71 447.2,541.12 457.95,543.64 468.7,545.71 479.45,547.78 490.2,549.26 500.95,551.04 511.7,552.82"/><path d="M296.7 514.1L297.38 516.05L299.44 516.09L297.8 517.33L298.39 519.31L296.7 518.13L295.01 519.31L295.6 517.33L293.96 516.09L296.02 516.05Z"/><path d="M307.45 514.69L308.13 516.64L310.19 516.68L308.55 517.93L309.14 519.9L307.45 518.72L305.76 519.9L306.35 517.93L304.71 516.68L306.77 516.64Z"/><path d="M318.2 514.4L318.88 516.34L320.94 516.39L319.3 517.63L319.89 519.61L318.2 518.43L316.51 519.61L317.1 517.63L315.46 516.39L317.52 516.34Z"/><path d="M328.95 514.69L329.63 516.64L331.69 516.68L330.05 517.93L330.64 519.9L328.95 518.72L327.26 519.9L327.85 517.93L326.21 516.68L328.27 516.64Z"/><path d="M339.7 514.25L340.38 516.2L342.44 516.24L340.8 517.48L341.39 519.46L339.7 518.28L338.01 519.46L338.6 517.48L336.96 516.24L339.02 516.2Z"/><path d="M350.45 515.28L351.13 517.23L353.19 517.27L351.55 518.52L352.14 520.49L350.45 519.32L348.76 520.49L349.35 518.52L347.71 517.27L349.77 517.23Z"/><path d="M361.2 516.47L361.88 518.42L363.94 518.46L362.3 519.7L362.89 521.68L361.2 520.5L359.51 521.68L360.1 519.7L358.46 518.46L360.52 518.42Z"/><path d="M371.95 516.47L372.63 518.42L374.69 518.46L373.05 519.7L373.64 521.68L371.95 520.5L370.26 521.68L370.85 519.7L369.21 518.46L371.27 518.42Z"/><path d="M382.7 516.76L383.38 518.71L385.44 518.75L383.8 520L384.39 521.97L382.7 520.8L381.01 521.97L381.6 520L379.96 518.75L382.02 518.71Z"/><path d="M393.45 518.54L394.13 520.49L396.19 520.53L394.55 521.78L395.14 523.75L393.45 522.57L391.76 523.75L392.35 521.78L390.71 520.53L392.77 520.49Z"/><path d="M404.2 521.8L404.88 523.75L406.94 523.79L405.3 525.04L405.89 527.01L404.2 525.83L402.51 527.01L403.1 525.04L401.46 523.79L403.52 523.75Z"/><path d="M414.95 526.54L415.63 528.49L417.69 528.53L416.05 529.78L416.64 531.75L414.95 530.57L413.26 531.75L413.85 529.78L412.21 528.53L414.27 528.49Z"/><path d="M425.7 530.98L426.38 532.93L428.44 532.97L426.8 534.22L427.39 536.19L425.7 535.01L424.01 536.19L424.6 534.22L422.96 532.97L425.02 532.93Z"/><path d="M436.45 534.83L437.13 536.78L439.19 536.82L437.55 538.07L438.14 540.04L436.45 538.87L434.76 540.04L435.35 538.07L433.71 536.82L435.77 536.78Z"/><path d="M447.2 538.24L447.88 540.19L449.94 540.23L448.3 541.48L448.89 543.45L447.2 542.27L445.51 543.45L446.1 541.48L444.46 540.23L446.52 540.19Z"/><path d="M457.95 540.76L458.63 542.71L460.69 542.75L459.05 543.99L459.64 545.97L457.95 544.79L456.26 545.97L456.85 543.99L455.21 542.75L457.27 542.71Z"/><path d="M468.7 542.83L469.38 544.78L471.44 544.82L469.8 546.07L470.39 548.04L468.7 546.86L467.01 548.04L467.6 546.07L465.96 544.82L468.02 544.78Z"/><path d="M479.45 544.9L480.13 546.85L482.19 546.89L480.55 548.14L481.14 550.11L479.45 548.94L477.76 550.11L478.35 548.14L476.71 546.89L478.77 546.85Z"/><path d="M490.2 546.38L490.88 548.33L492.94 548.37L491.3 549.62L491.89 551.59L490.2 550.42L488.51 551.59L489.1 549.62L487.46 548.37L489.52 548.33Z"/><path d="M500.95 548.16L501.63 550.11L503.69 550.15L502.05 551.4L502.64 553.37L500.95 552.19L499.26 553.37L499.85 551.4L498.21 550.15L500.27 550.11Z"/><path d="M511.7 549.94L512.38 551.89L514.44 551.93L512.8 553.18L513.39 555.15L511.7 553.97L510.01 555.15L510.6 553.18L508.96 551.93L511.02 551.89Z"/></g>
<text x="293.7" y="581.7" font-size="12.4" text-anchor="end" fill="#222">0</text>
<text x="293.7" y="552.08" font-size="12.4" text-anchor="end" fill="#222">10</text>
<text x="293.7" y="522.46" font-size="12.4" text-anchor="end" fill="#222">20</text>
<text x="293.7" y="492.84" font-size="12.4" text-anchor="end" fill="#222">30</text>
<text x="293.7" y="463.22" font-size="12.4" text-anchor="end" fill="#222">40</text>
<text x="293.7" y="433.6" font-size="12.4" text-anchor="end" fill="#222">50</text>
<text x="296.7" y="592.9" font-size="12.4" text-anchor="middle" fill="#222">0</text>
<text x="350.45" y="592.9" font-size="12.4" text-anchor="middle" fill="#222">10</text>
<text x="404.2" y="592.9" font-size="12.4" text-anchor="middle" fill="#222">20</text>
<text x="457.95" y="592.9" font-size="12.4" text-anchor="middle" fill="#222">30</text>
<text x="511.7" y="592.9" font-size="12.4" text-anchor="middle" fill="#222">40</text>
<text x="403.9" y="608.9" font-size="13.6" text-anchor="middle" fill="#222"><tspan font-style="italic">z</tspan> (cm)</text>
<text transform="translate(275.5 500.25) rotate(-90)" font-size="12.9" text-anchor="middle" fill="#222">Focusing efficiency <tspan font-style="italic">η</tspan> (%)</text>
<text x="396" y="445.3" font-size="11.8" text-anchor="middle" fill="#222">With&#160;&#160;MDL</text>
<text x="455.8" y="444.6" font-size="12" text-anchor="middle" fill="#222">(h)</text>
<rect x="205.9" y="433.4" width="41.6" height="53.3" fill="#fff" stroke="#444" stroke-width=".8"/><g fill="none" stroke="#f4703a" stroke-width="0.9"><polyline points="208,440.9 215.6,440.9 223.2,440.9"/><circle cx="215.6" cy="440.9" r="2"/></g><text x="224.6" y="444.8" font-size="11.2" text-anchor="start" fill="#222"><tspan font-style="italic" style="stroke-width:.55px">l</tspan><tspan fill="#777" style="stroke:#777"> = </tspan>1</text><g fill="none" stroke="#3a9a4c" stroke-width="0.9"><polyline points="208,453.8 215.6,453.8 223.2,453.8"/><rect x="214" y="452.2" width="3.2" height="3.2"/></g><text x="224.6" y="457.7" font-size="11.2" text-anchor="start" fill="#222"><tspan font-style="italic" style="stroke-width:.55px">l</tspan><tspan fill="#777" style="stroke:#777"> = </tspan>2</text><g fill="none" stroke="#333333" stroke-width="0.9"><polyline points="208,466.8 215.6,466.8 223.2,466.8"/><path d="M213.26 464.07L218.59 466.8L213.26 469.53Z"/></g><text x="224.6" y="470.7" font-size="11.2" text-anchor="start" fill="#222"><tspan font-style="italic" style="stroke-width:.55px">l</tspan><tspan fill="#777" style="stroke:#777"> = </tspan>3</text><g fill="none" stroke="#f024f0" stroke-width="0.9"><polyline points="208,480.2 215.6,480.2 223.2,480.2"/><path d="M215.6 477.56L216.22 479.35L218.11 479.38L216.6 480.53L217.15 482.34L215.6 481.26L214.05 482.34L214.6 480.53L213.09 479.38L214.98 479.35Z"/></g><text x="224.6" y="484.1" font-size="11.2" text-anchor="start" fill="#222"><tspan font-style="italic" style="stroke-width:.55px">l</tspan><tspan fill="#777" style="stroke:#777"> = </tspan>4</text>
<rect x="469.3" y="433.9" width="38.5" height="53.5" fill="#fff" stroke="#444" stroke-width=".8"/><g fill="none" stroke="#f4703a" stroke-width="0.9"><polyline points="471.7,441.7 478.9,441.7 486.2,441.7"/><circle cx="478.9" cy="441.7" r="2"/></g><text x="487.4" y="445.6" font-size="11.2" text-anchor="start" fill="#222"><tspan font-style="italic" style="stroke-width:.55px">l</tspan><tspan fill="#777" style="stroke:#777"> =</tspan>1</text><g fill="none" stroke="#3a9a4c" stroke-width="0.9"><polyline points="471.7,454.4 478.9,454.4 486.2,454.4"/><rect x="477.3" y="452.8" width="3.2" height="3.2"/></g><text x="487.4" y="458.3" font-size="11.2" text-anchor="start" fill="#222"><tspan font-style="italic" style="stroke-width:.55px">l</tspan><tspan fill="#777" style="stroke:#777"> =</tspan>2</text><g fill="none" stroke="#333333" stroke-width="0.9"><polyline points="471.7,467.3 478.9,467.3 486.2,467.3"/><path d="M476.56 464.57L481.89 467.3L476.56 470.03Z"/></g><text x="487.4" y="471.2" font-size="11.2" text-anchor="start" fill="#222"><tspan font-style="italic" style="stroke-width:.55px">l</tspan><tspan fill="#777" style="stroke:#777"> =</tspan>3</text><g fill="none" stroke="#f024f0" stroke-width="0.9"><polyline points="471.7,480.4 478.9,480.4 486.2,480.4"/><path d="M478.9 477.76L479.52 479.55L481.41 479.58L479.9 480.73L480.45 482.54L478.9 481.46L477.35 482.54L477.9 480.73L476.39 479.58L478.28 479.55Z"/></g><text x="487.4" y="484.3" font-size="11.2" text-anchor="start" fill="#222"><tspan font-style="italic" style="stroke-width:.55px">l</tspan><tspan fill="#777" style="stroke:#777"> =</tspan>4</text>
</svg>
</body></html>
